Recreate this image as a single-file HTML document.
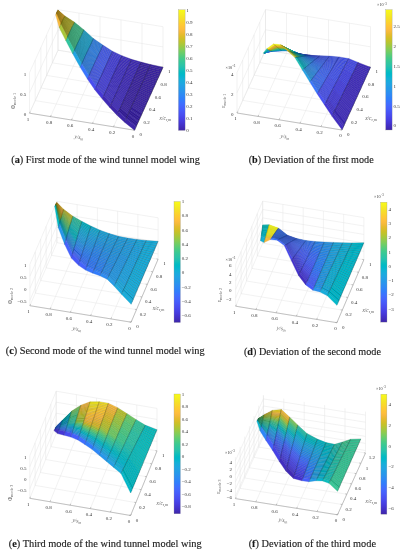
<!DOCTYPE html>
<html><head><meta charset="utf-8"><style>html,body{margin:0;padding:0;background:#fff;width:403px;height:550px;overflow:hidden}svg{display:block}</style></head><body>
<svg width="403" height="550" viewBox="0 0 403 550">
<defs><linearGradient id="par" x1="0" y1="0" x2="0" y2="1"><stop offset="0.0000" stop-color="#f9fb15"/><stop offset="0.0159" stop-color="#f7f51b"/><stop offset="0.0317" stop-color="#f6ef20"/><stop offset="0.0476" stop-color="#f5e924"/><stop offset="0.0635" stop-color="#f5e327"/><stop offset="0.0794" stop-color="#f7dc2a"/><stop offset="0.0952" stop-color="#fad62d"/><stop offset="0.1111" stop-color="#fccf30"/><stop offset="0.1270" stop-color="#fec934"/><stop offset="0.1429" stop-color="#fec338"/><stop offset="0.1587" stop-color="#febe3c"/><stop offset="0.1746" stop-color="#f8ba3d"/><stop offset="0.1905" stop-color="#f0ba36"/><stop offset="0.2063" stop-color="#e6bb2d"/><stop offset="0.2222" stop-color="#dcbd29"/><stop offset="0.2381" stop-color="#d1bf27"/><stop offset="0.2540" stop-color="#c5c22a"/><stop offset="0.2698" stop-color="#b9c431"/><stop offset="0.2857" stop-color="#abc739"/><stop offset="0.3016" stop-color="#9dc943"/><stop offset="0.3175" stop-color="#8fcb4e"/><stop offset="0.3333" stop-color="#81cc59"/><stop offset="0.3492" stop-color="#72cd64"/><stop offset="0.3651" stop-color="#64cd6f"/><stop offset="0.3810" stop-color="#57cc7a"/><stop offset="0.3968" stop-color="#4acb84"/><stop offset="0.4127" stop-color="#3fca8e"/><stop offset="0.4286" stop-color="#37c897"/><stop offset="0.4444" stop-color="#31c69f"/><stop offset="0.4603" stop-color="#2cc4a7"/><stop offset="0.4762" stop-color="#24c1ae"/><stop offset="0.4921" stop-color="#19bfb6"/><stop offset="0.5079" stop-color="#0bbdbd"/><stop offset="0.5238" stop-color="#02bac3"/><stop offset="0.5397" stop-color="#01b8ca"/><stop offset="0.5556" stop-color="#08b5d0"/><stop offset="0.5714" stop-color="#12b1d6"/><stop offset="0.5873" stop-color="#18addb"/><stop offset="0.6032" stop-color="#1ca9df"/><stop offset="0.6190" stop-color="#20a5e3"/><stop offset="0.6349" stop-color="#23a0e5"/><stop offset="0.6508" stop-color="#259be8"/><stop offset="0.6667" stop-color="#2797eb"/><stop offset="0.6825" stop-color="#2b91ef"/><stop offset="0.6984" stop-color="#2d8cf3"/><stop offset="0.7143" stop-color="#2e87f7"/><stop offset="0.7302" stop-color="#2f81fa"/><stop offset="0.7460" stop-color="#327cfc"/><stop offset="0.7619" stop-color="#3875fe"/><stop offset="0.7778" stop-color="#3e6fff"/><stop offset="0.7937" stop-color="#4269fe"/><stop offset="0.8095" stop-color="#4563fd"/><stop offset="0.8254" stop-color="#465efb"/><stop offset="0.8413" stop-color="#4758f8"/><stop offset="0.8571" stop-color="#4852f4"/><stop offset="0.8730" stop-color="#484df0"/><stop offset="0.8889" stop-color="#4747eb"/><stop offset="0.9048" stop-color="#4741e5"/><stop offset="0.9206" stop-color="#463cde"/><stop offset="0.9365" stop-color="#4537d5"/><stop offset="0.9524" stop-color="#4332cb"/><stop offset="0.9683" stop-color="#422ec0"/><stop offset="0.9841" stop-color="#402ab4"/><stop offset="1.0000" stop-color="#3e26a8"/></linearGradient></defs>
<rect width="403" height="550" fill="#fff"/>
<path stroke="#e2e2e2" stroke-width="0.45" fill="none" d="M134.5,130.2L29.5,113.2L29.5,72.7M140.2,117.6L35.2,100.6L35.2,60.1M145.9,105L40.9,88L40.9,47.5M151.6,92.4L46.6,75.4L46.6,34.9M157.3,79.8L52.3,62.8L52.3,22.3M163,67.2L58,50.2L58,9.7M134.5,130.2L163,67.2L163,26.7M113.5,126.8L142,63.8L142,23.3M92.5,123.4L121,60.4L121,19.9M71.5,120L100,57L100,16.5M50.5,116.6L79,53.6L79,13.1M29.5,113.2L58,50.2L58,9.7M29.5,113.2L58,50.2L163,67.2M29.5,92.9L58,29.9L163,46.9M29.5,72.7L58,9.7L163,26.7"/>
<path stroke="#999" stroke-width="0.55" fill="none" d="M163,67.2L134.5,130.2L29.5,113.2M134.5,130.2L135.2,128.7M113.5,126.8L114.2,125.3M92.5,123.4L93.2,121.9M71.5,120L72.2,118.5M50.5,116.6L51.2,115.1M29.5,113.2L30.2,111.7M134.5,130.2L132.9,129.9M140.2,117.6L138.6,117.3M145.9,105L144.3,104.7M151.6,92.4L150,92.1M157.3,79.8L155.7,79.5M163,67.2L161.4,66.9"/>
<text x="133" y="137.6" font-size="5.0" text-anchor="middle" font-family="Liberation Serif, serif" fill="#333" >0</text>
<text x="112" y="134.2" font-size="5.0" text-anchor="middle" font-family="Liberation Serif, serif" fill="#333" >0.2</text>
<text x="91" y="130.8" font-size="5.0" text-anchor="middle" font-family="Liberation Serif, serif" fill="#333" >0.4</text>
<text x="70" y="127.4" font-size="5.0" text-anchor="middle" font-family="Liberation Serif, serif" fill="#333" >0.6</text>
<text x="49" y="124" font-size="5.0" text-anchor="middle" font-family="Liberation Serif, serif" fill="#333" >0.8</text>
<text x="28" y="120.6" font-size="5.0" text-anchor="middle" font-family="Liberation Serif, serif" fill="#333" >1</text>
<text x="140.8" y="136.4" font-size="5.0" text-anchor="middle" font-family="Liberation Serif, serif" fill="#333" >0</text>
<text x="146.5" y="123.8" font-size="5.0" text-anchor="middle" font-family="Liberation Serif, serif" fill="#333" >0.2</text>
<text x="152.2" y="111.2" font-size="5.0" text-anchor="middle" font-family="Liberation Serif, serif" fill="#333" >0.4</text>
<text x="157.9" y="98.6" font-size="5.0" text-anchor="middle" font-family="Liberation Serif, serif" fill="#333" >0.6</text>
<text x="163.6" y="86" font-size="5.0" text-anchor="middle" font-family="Liberation Serif, serif" fill="#333" >0.8</text>
<text x="169.3" y="73.4" font-size="5.0" text-anchor="middle" font-family="Liberation Serif, serif" fill="#333" >1</text>
<text x="26.2" y="116.2" font-size="5.0" text-anchor="end" font-family="Liberation Serif, serif" fill="#333" >0</text>
<text x="26.2" y="95.9" font-size="5.0" text-anchor="end" font-family="Liberation Serif, serif" fill="#333" >0.5</text>
<text x="26.2" y="75.7" font-size="5.0" text-anchor="end" font-family="Liberation Serif, serif" fill="#333" >1</text>
<g stroke-width="0.3">
<path fill="#4741e5" stroke="#27237d" d="M121.4,56.8l0.5-1.1l-9.5-4.5l-0.5,1z"/>
<path fill="#4332cb" stroke="#241b6f" d="M130.9,60.6l0.6-1.3l-9.6-3.6l-0.5,1.1z"/>
<path fill="#465efb" stroke="#26338a" d="M111.9,52.2l0.5-1l-9.6-6.2l-0.4,0.9z"/>
<path fill="#422ec0" stroke="#241969" d="M140.4,63.5l0.7-1.4l-9.6-2.8l-0.6,1.3z"/>
<path fill="#4741e5" stroke="#27237d" d="M120.9,58l0.5-1.2l-9.5-4.6l-0.4,1z"/>
<path fill="#4332cb" stroke="#241b6f" d="M130.3,61.8l0.6-1.2l-9.5-3.8l-0.5,1.2z"/>
<path fill="#465efb" stroke="#26338a" d="M111.5,53.2l0.4-1l-9.5-6.3l-0.4,0.9z"/>
<path fill="#2e87f7" stroke="#194a87" d="M102.4,45.9l0.4-0.9l-9.5-6.6l-0.3,0.7z"/>
<path fill="#3e26a8" stroke="#22145c" d="M149.9,66.1l0.7-1.6l-9.5-2.4l-0.7,1.4z"/>
<path fill="#4741e5" stroke="#27237d" d="M120.4,59.1l0.5-1.1l-9.4-4.8l-0.5,1z"/>
<path fill="#422ec0" stroke="#241969" d="M139.8,64.9l0.6-1.4l-9.5-2.9l-0.6,1.2z"/>
<path fill="#465efb" stroke="#26338a" d="M111,54.2l0.5-1l-9.5-6.4l-0.4,0.8z"/>
<path fill="#2e87f7" stroke="#194a87" d="M102,46.8l0.4-0.9l-9.4-6.8l-0.4,0.7z"/>
<path fill="#4332cb" stroke="#241b6f" d="M129.8,63.1l0.5-1.3l-9.4-3.8l-0.5,1.1z"/>
<path fill="#2e87f7" stroke="#194a87" d="M101.6,47.6l0.4-0.8l-9.4-7l-0.3,0.7z"/>
<path fill="#4741e5" stroke="#27237d" d="M119.9,60.3l0.5-1.2l-9.4-4.9l-0.4,1z"/>
<path fill="#465efb" stroke="#26338a" d="M110.6,55.2l0.4-1l-9.4-6.6l-0.4,0.9z"/>
<path fill="#3e26a8" stroke="#22145c" d="M162.2,68.9l0.8-1.7l-12.4-2.7l-0.7,1.6z"/>
<path fill="#18addb" stroke="#0d5f78" d="M93,39.1l0.3-0.7l-9.6-8.7l-0.2,0.6z"/>
<path fill="#3e26a8" stroke="#22145c" d="M149.2,67.6l0.7-1.5l-9.5-2.6l-0.6,1.4z"/>
<path fill="#422ec0" stroke="#241969" d="M139.1,66.4l0.7-1.5l-9.5-3.1l-0.5,1.3z"/>
<path fill="#4332cb" stroke="#241b6f" d="M129.2,64.4l0.6-1.3l-9.4-4l-0.5,1.2z"/>
<path fill="#2e87f7" stroke="#194a87" d="M101.2,48.5l0.4-0.9l-9.3-7.1l-0.3,0.8z"/>
<path fill="#18addb" stroke="#0d5f78" d="M92.6,39.8l0.4-0.7l-9.5-8.8l-0.3,0.6z"/>
<path fill="#465efb" stroke="#26338a" d="M110.1,56.2l0.5-1l-9.4-6.7l-0.3,0.9z"/>
<path fill="#4741e5" stroke="#27237d" d="M119.4,61.4l0.5-1.1l-9.3-5.1l-0.5,1z"/>
<path fill="#18addb" stroke="#0d5f78" d="M92.3,40.5l0.3-0.7l-9.4-8.9l-0.3,0.6z"/>
<path fill="#2e87f7" stroke="#194a87" d="M100.9,49.4l0.3-0.9l-9.2-7.2l-0.4,0.7z"/>
<path fill="#3e26a8" stroke="#22145c" d="M148.5,69.2l0.7-1.6l-9.4-2.7l-0.7,1.5z"/>
<path fill="#422ec0" stroke="#241969" d="M138.5,67.8l0.6-1.4l-9.3-3.3l-0.6,1.3z"/>
<path fill="#3e26a8" stroke="#22145c" d="M161.5,70.6l0.7-1.7l-12.3-2.8l-0.7,1.5z"/>
<path fill="#4332cb" stroke="#241b6f" d="M128.6,65.7l0.6-1.3l-9.3-4.1l-0.5,1.1z"/>
<path fill="#465efb" stroke="#26338a" d="M109.7,57.2l0.4-1l-9.2-6.8l-0.4,0.9z"/>
<path fill="#18addb" stroke="#0d5f78" d="M92,41.3l0.3-0.8l-9.4-9l-0.2,0.6z"/>
<path fill="#4741e5" stroke="#27237d" d="M118.8,62.5l0.6-1.1l-9.3-5.2l-0.4,1z"/>
<path fill="#3fca8e" stroke="#226f4e" d="M83.5,30.3l0.2-0.6l-9.4-7.6l-0.2,0.5z"/>
<path fill="#2e87f7" stroke="#194a87" d="M100.5,50.3l0.4-0.9l-9.3-7.4l-0.3,0.7z"/>
<path fill="#3fca8e" stroke="#226f4e" d="M83.2,30.9l0.3-0.6l-9.4-7.7l-0.2,0.4z"/>
<path fill="#18addb" stroke="#0d5f78" d="M91.6,42l0.4-0.7l-9.3-9.2l-0.3,0.6z"/>
<path fill="#465efb" stroke="#26338a" d="M109.2,58.3l0.5-1.1l-9.2-6.9l-0.4,0.8z"/>
<path fill="#4332cb" stroke="#241b6f" d="M128,67l0.6-1.3l-9.2-4.3l-0.6,1.1z"/>
<path fill="#422ec0" stroke="#241969" d="M137.8,69.2l0.7-1.4l-9.3-3.4l-0.6,1.3z"/>
<path fill="#3e26a8" stroke="#22145c" d="M147.8,70.7l0.7-1.5l-9.4-2.8l-0.6,1.4z"/>
<path fill="#2e87f7" stroke="#194a87" d="M100.1,51.1l0.4-0.8l-9.2-7.6l-0.3,0.8z"/>
<path fill="#4741e5" stroke="#27237d" d="M118.3,63.7l0.5-1.2l-9.1-5.3l-0.5,1.1z"/>
<path fill="#3fca8e" stroke="#226f4e" d="M82.9,31.5l0.3-0.6l-9.3-7.9l-0.2,0.4z"/>
<path fill="#3e26a8" stroke="#22145c" d="M160.7,72.3l0.8-1.7l-12.3-3l-0.7,1.6z"/>
<path fill="#18addb" stroke="#0d5f78" d="M91.3,42.7l0.3-0.7l-9.2-9.3l-0.3,0.6z"/>
<path fill="#c5c22a" stroke="#6c6a17" d="M74.1,22.6l0.2-0.5l-9.6-6.2l-0.1,0.2z"/>
<path fill="#3fca8e" stroke="#226f4e" d="M82.7,32.1l0.2-0.6l-9.2-8.1l-0.2,0.5z"/>
<path fill="#465efb" stroke="#26338a" d="M108.7,59.3l0.5-1l-9.1-7.2l-0.4,0.9z"/>
<path fill="#c5c22a" stroke="#6c6a17" d="M73.9,23l0.2-0.4l-9.5-6.5l-0.1,0.3z"/>
<path fill="#2e87f7" stroke="#194a87" d="M99.7,52l0.4-0.9l-9.1-7.6l-0.4,0.7z"/>
<path fill="#18addb" stroke="#0d5f78" d="M91,43.5l0.3-0.8l-9.2-9.4l-0.2,0.6z"/>
<path fill="#3fca8e" stroke="#226f4e" d="M82.4,32.7l0.3-0.6l-9.2-8.2l-0.2,0.4z"/>
<path fill="#c5c22a" stroke="#6c6a17" d="M73.7,23.4l0.2-0.4l-9.4-6.6l-0.1,0.2z"/>
<path fill="#4332cb" stroke="#241b6f" d="M127.4,68.2l0.6-1.2l-9.2-4.5l-0.5,1.2z"/>
<path fill="#4741e5" stroke="#27237d" d="M117.8,64.8l0.5-1.1l-9.1-5.4l-0.5,1z"/>
<path fill="#422ec0" stroke="#241969" d="M137.2,70.6l0.6-1.4l-9.2-3.5l-0.6,1.3z"/>
<path fill="#c5c22a" stroke="#6c6a17" d="M73.5,23.9l0.2-0.5l-9.3-6.8l-0.1,0.3z"/>
<path fill="#3e26a8" stroke="#22145c" d="M147.1,72.3l0.7-1.6l-9.3-2.9l-0.7,1.4z"/>
<path fill="#3fca8e" stroke="#226f4e" d="M82.1,33.3l0.3-0.6l-9.1-8.4l-0.2,0.4z"/>
<path fill="#18addb" stroke="#0d5f78" d="M90.6,44.2l0.4-0.7l-9.1-9.6l-0.3,0.6z"/>
<path fill="#2e87f7" stroke="#194a87" d="M99.3,52.9l0.4-0.9l-9.1-7.8l-0.3,0.7z"/>
<path fill="#fec934" stroke="#8b6e1c" d="M64.6,16.1l0.1-0.2l-6.7-5.8l0,0.1z"/>
<path fill="#465efb" stroke="#26338a" d="M108.3,60.3l0.4-1l-9-7.3l-0.4,0.9z"/>
<path fill="#c5c22a" stroke="#6c6a17" d="M73.3,24.3l0.2-0.4l-9.2-7l-0.1,0.2z"/>
<path fill="#fec934" stroke="#8b6e1c" d="M64.5,16.4l0.1-0.3l-6.6-5.9l-0.1,0.1z"/>
<path fill="#3e26a8" stroke="#22145c" d="M159.9,74l0.8-1.7l-12.2-3.1l-0.7,1.5z"/>
<path fill="#fec934" stroke="#8b6e1c" d="M64.4,16.6l0.1-0.2l-6.6-6.1l0,0.1z"/>
<path fill="#c5c22a" stroke="#6c6a17" d="M73.1,24.7l0.2-0.4l-9.1-7.2l-0.1,0.3z"/>
<path fill="#3fca8e" stroke="#226f4e" d="M81.9,33.9l0.2-0.6l-9-8.6l-0.2,0.5z"/>
<path fill="#fec934" stroke="#8b6e1c" d="M64.3,16.9l0.1-0.3l-6.5-6.2l-0.1,0.1z"/>
<path fill="#4741e5" stroke="#27237d" d="M117.3,66l0.5-1.2l-9.1-5.5l-0.4,1z"/>
<path fill="#18addb" stroke="#0d5f78" d="M90.3,44.9l0.3-0.7l-9-9.7l-0.3,0.6z"/>
<path fill="#4332cb" stroke="#241b6f" d="M126.9,69.5l0.5-1.3l-9.1-4.5l-0.5,1.1z"/>
<path fill="#fec934" stroke="#8b6e1c" d="M64.2,17.1l0.1-0.2l-6.5-6.4l0,0.1z"/>
<path fill="#c5c22a" stroke="#6c6a17" d="M72.9,25.2l0.2-0.5l-9-7.3l-0.1,0.2z"/>
<path fill="#2e87f7" stroke="#194a87" d="M98.9,53.8l0.4-0.9l-9-8l-0.3,0.7z"/>
<path fill="#fec934" stroke="#8b6e1c" d="M64.1,17.4l0.1-0.3l-6.4-6.5l-0.1,0.1z"/>
<path fill="#465efb" stroke="#26338a" d="M107.8,61.3l0.5-1l-9-7.4l-0.4,0.9z"/>
<path fill="#3fca8e" stroke="#226f4e" d="M81.6,34.5l0.3-0.6l-9-8.7l-0.2,0.4z"/>
<path fill="#422ec0" stroke="#241969" d="M136.6,72l0.6-1.4l-9.2-3.6l-0.6,1.2z"/>
<path fill="#fec934" stroke="#8b6e1c" d="M64,17.6l0.1-0.2l-6.4-6.7l0,0.1z"/>
<path fill="#c5c22a" stroke="#6c6a17" d="M72.7,25.6l0.2-0.4l-8.9-7.6l-0.2,0.2z"/>
<path fill="#fec934" stroke="#8b6e1c" d="M63.8,17.8l0.2-0.2l-6.3-6.8l-0.1,0.1z"/>
<path fill="#18addb" stroke="#0d5f78" d="M90,45.6l0.3-0.7l-9-9.8l-0.3,0.6z"/>
<path fill="#3e26a8" stroke="#22145c" d="M146.4,73.8l0.7-1.5l-9.3-3.1l-0.6,1.4z"/>
<path fill="#fec934" stroke="#8b6e1c" d="M63.7,18.1l0.1-0.3l-6.2-6.9l0,0.1z"/>
<path fill="#c5c22a" stroke="#6c6a17" d="M72.5,26l0.2-0.4l-8.9-7.8l-0.1,0.3z"/>
<path fill="#3fca8e" stroke="#226f4e" d="M81.3,35.1l0.3-0.6l-8.9-8.9l-0.2,0.4z"/>
<path fill="#fec934" stroke="#8b6e1c" d="M63.6,18.3l0.1-0.2l-6.1-7.1l-0.1,0.1z"/>
<path fill="#2e87f7" stroke="#194a87" d="M98.5,54.6l0.4-0.8l-8.9-8.2l-0.3,0.8z"/>
<path fill="#4741e5" stroke="#27237d" d="M116.8,67.1l0.5-1.1l-9-5.7l-0.5,1z"/>
<path fill="#fec934" stroke="#8b6e1c" d="M63.5,18.6l0.1-0.3l-6.1-7.2l0,0.1z"/>
<path fill="#c5c22a" stroke="#6c6a17" d="M72.3,26.5l0.2-0.5l-8.8-7.9l-0.1,0.2z"/>
<path fill="#3e26a8" stroke="#22145c" d="M159.2,75.7l0.7-1.7l-12.1-3.3l-0.7,1.6z"/>
<path fill="#fec934" stroke="#8b6e1c" d="M63.4,18.8l0.1-0.2l-6-7.4l0,0.1z"/>
<path fill="#4332cb" stroke="#241b6f" d="M126.3,70.8l0.6-1.3l-9.1-4.7l-0.5,1.2z"/>
<path fill="#465efb" stroke="#26338a" d="M107.4,62.3l0.4-1l-8.9-7.5l-0.4,0.8z"/>
<path fill="#18addb" stroke="#0d5f78" d="M89.7,46.4l0.3-0.8l-9-9.9l-0.2,0.6z"/>
<path fill="#3fca8e" stroke="#226f4e" d="M81,35.7l0.3-0.6l-8.8-9.1l-0.2,0.5z"/>
<path fill="#fec934" stroke="#8b6e1c" d="M63.3,19l0.1-0.2l-5.9-7.5l-0.1,0.1z"/>
<path fill="#c5c22a" stroke="#6c6a17" d="M72.1,26.9l0.2-0.4l-8.7-8.2l-0.1,0.3z"/>
<path fill="#fec934" stroke="#8b6e1c" d="M63.2,19.3l0.1-0.3l-5.9-7.6l0,0.1z"/>
<path fill="#422ec0" stroke="#241969" d="M135.9,73.5l0.7-1.5l-9.2-3.8l-0.5,1.3z"/>
<path fill="#fec934" stroke="#8b6e1c" d="M63.1,19.5l0.1-0.2l-5.8-7.8l-0.1,0.1z"/>
<path fill="#2e87f7" stroke="#194a87" d="M98.1,55.5l0.4-0.9l-8.8-8.2l-0.4,0.7z"/>
<path fill="#c5c22a" stroke="#6c6a17" d="M71.9,27.3l0.2-0.4l-8.6-8.3l-0.1,0.2z"/>
<path fill="#3fca8e" stroke="#226f4e" d="M80.8,36.3l0.2-0.6l-8.7-9.2l-0.2,0.4z"/>
<path fill="#fec934" stroke="#8b6e1c" d="M63,19.8l0.1-0.3l-5.8-7.9l0,0.1z"/>
<path fill="#18addb" stroke="#0d5f78" d="M89.3,47.1l0.4-0.7l-8.9-10.1l-0.3,0.6z"/>
<path fill="#4741e5" stroke="#27237d" d="M116.3,68.2l0.5-1.1l-9-5.8l-0.4,1z"/>
<path fill="#fec934" stroke="#8b6e1c" d="M62.9,20l0.1-0.2l-5.7-8.1l-0.1,0.1z"/>
<path fill="#3e26a8" stroke="#22145c" d="M145.7,75.4l0.7-1.6l-9.2-3.2l-0.6,1.4z"/>
<path fill="#c5c22a" stroke="#6c6a17" d="M71.7,27.7l0.2-0.4l-8.5-8.5l-0.1,0.2z"/>
<path fill="#465efb" stroke="#26338a" d="M106.9,63.3l0.5-1l-8.9-7.7l-0.4,0.9z"/>
<path fill="#fec934" stroke="#8b6e1c" d="M62.8,20.3l0.1-0.3l-5.7-8.2l0,0.1z"/>
<path fill="#3fca8e" stroke="#226f4e" d="M80.5,36.9l0.3-0.6l-8.7-9.4l-0.2,0.4z"/>
<path fill="#fec934" stroke="#8b6e1c" d="M62.6,20.5l0.2-0.2l-5.6-8.4l-0.1,0.1z"/>
<path fill="#4332cb" stroke="#241b6f" d="M125.7,72.1l0.6-1.3l-9-4.8l-0.5,1.1z"/>
<path fill="#c5c22a" stroke="#6c6a17" d="M71.5,28.2l0.2-0.5l-8.4-8.7l-0.1,0.3z"/>
<path fill="#2e87f7" stroke="#194a87" d="M97.7,56.4l0.4-0.9l-8.8-8.4l-0.3,0.7z"/>
<path fill="#fec934" stroke="#8b6e1c" d="M62.5,20.7l0.1-0.2l-5.5-8.5l0,0.1z"/>
<path fill="#18addb" stroke="#0d5f78" d="M89,47.8l0.3-0.7l-8.8-10.2l-0.3,0.5z"/>
<path fill="#fec934" stroke="#8b6e1c" d="M62.4,21l0.1-0.3l-5.4-8.6l-0.1,0.1z"/>
<path fill="#3e26a8" stroke="#22145c" d="M158.4,77.4l0.8-1.7l-12.1-3.4l-0.7,1.5z"/>
<path fill="#c5c22a" stroke="#6c6a17" d="M71.4,28.6l0.1-0.4l-8.3-8.9l-0.1,0.2z"/>
<path fill="#3fca8e" stroke="#226f4e" d="M80.2,37.4l0.3-0.5l-8.6-9.6l-0.2,0.4z"/>
<path fill="#fec934" stroke="#8b6e1c" d="M62.3,21.2l0.1-0.2l-5.4-8.8l0,0.1z"/>
<path fill="#422ec0" stroke="#241969" d="M135.3,74.9l0.6-1.4l-9-4l-0.6,1.3z"/>
<path fill="#fec934" stroke="#8b6e1c" d="M62.2,21.5l0.1-0.3l-5.3-8.9l0,0.1z"/>
<path fill="#465efb" stroke="#26338a" d="M106.5,64.3l0.4-1l-8.8-7.8l-0.4,0.9z"/>
<path fill="#4741e5" stroke="#27237d" d="M115.8,69.4l0.5-1.2l-8.9-5.9l-0.5,1z"/>
<path fill="#c5c22a" stroke="#6c6a17" d="M71.2,29l0.2-0.4l-8.3-9.1l-0.1,0.3z"/>
<path fill="#18addb" stroke="#0d5f78" d="M88.7,48.6l0.3-0.8l-8.8-10.4l-0.2,0.6z"/>
<path fill="#fec934" stroke="#8b6e1c" d="M62.1,21.7l0.1-0.2l-5.2-9.1l-0.1,0.1z"/>
<path fill="#2e87f7" stroke="#194a87" d="M97.3,57.3l0.4-0.9l-8.7-8.6l-0.3,0.8z"/>
<path fill="#3fca8e" stroke="#226f4e" d="M80,38l0.2-0.6l-8.5-9.7l-0.2,0.5z"/>
<path fill="#fec934" stroke="#8b6e1c" d="M62,21.9l0.1-0.2l-5.2-9.2l0,0.1z"/>
<path fill="#c5c22a" stroke="#6c6a17" d="M71,29.5l0.2-0.5l-8.2-9.2l-0.1,0.2z"/>
<path fill="#fec934" stroke="#8b6e1c" d="M61.9,22.2l0.1-0.3l-5.1-9.3l-0.1,0.1z"/>
<path fill="#3e26a8" stroke="#22145c" d="M145,76.9l0.7-1.5l-9.1-3.4l-0.7,1.5z"/>
<path fill="#4332cb" stroke="#241b6f" d="M125.1,73.4l0.6-1.3l-8.9-5l-0.5,1.1z"/>
<path fill="#fec934" stroke="#8b6e1c" d="M61.8,22.4l0.1-0.2l-5.1-9.5l0,0.1z"/>
<path fill="#c5c22a" stroke="#6c6a17" d="M70.8,29.9l0.2-0.4l-8.1-9.5l-0.1,0.3z"/>
<path fill="#3fca8e" stroke="#226f4e" d="M79.7,38.6l0.3-0.6l-8.5-9.8l-0.1,0.4z"/>
<path fill="#18addb" stroke="#0d5f78" d="M88.3,49.3l0.4-0.7l-8.7-10.6l-0.3,0.6z"/>
<path fill="#fec934" stroke="#8b6e1c" d="M61.7,22.7l0.1-0.3l-5-9.6l-0.1,0.1z"/>
<path fill="#465efb" stroke="#26338a" d="M106,65.3l0.5-1l-8.8-7.9l-0.4,0.9z"/>
<path fill="#fec934" stroke="#8b6e1c" d="M61.5,22.9l0.2-0.2l-5-9.8l0,0.1z"/>
<path fill="#2e87f7" stroke="#194a87" d="M96.9,58.2l0.4-0.9l-8.6-8.7l-0.4,0.7z"/>
<path fill="#c5c22a" stroke="#6c6a17" d="M70.6,30.3l0.2-0.4l-8-9.6l-0.2,0.2z"/>
<path fill="#4741e5" stroke="#27237d" d="M115.2,70.5l0.6-1.1l-8.9-6.1l-0.4,1z"/>
<path fill="#fec934" stroke="#8b6e1c" d="M61.4,23.2l0.1-0.3l-4.8-9.9l-0.1,0.1z"/>
<path fill="#422ec0" stroke="#241969" d="M134.6,76.3l0.7-1.4l-9-4.1l-0.6,1.3z"/>
<path fill="#3e26a8" stroke="#22145c" d="M157.6,79.1l0.8-1.7l-12-3.6l-0.7,1.6z"/>
<path fill="#3fca8e" stroke="#226f4e" d="M79.4,39.2l0.3-0.6l-8.3-10l-0.2,0.4z"/>
<path fill="#fec934" stroke="#8b6e1c" d="M61.3,23.4l0.1-0.2l-4.8-10.1l0,0.1z"/>
<path fill="#c5c22a" stroke="#6c6a17" d="M70.4,30.8l0.2-0.5l-8-9.8l-0.1,0.2z"/>
<path fill="#18addb" stroke="#0d5f78" d="M88,50l0.3-0.7l-8.6-10.7l-0.3,0.6z"/>
<path fill="#fec934" stroke="#8b6e1c" d="M61.2,23.6l0.1-0.2l-4.7-10.2l-0.1,0.1zM61.1,23.9l0.1-0.3l-4.7-10.3l0,0.1z"/>
<path fill="#c5c22a" stroke="#6c6a17" d="M70.2,31.2l0.2-0.4l-7.9-10.1l-0.1,0.3z"/>
<path fill="#4332cb" stroke="#241b6f" d="M124.6,74.6l0.5-1.2l-8.8-5.2l-0.5,1.2z"/>
<path fill="#3fca8e" stroke="#226f4e" d="M79.2,39.8l0.2-0.6l-8.2-10.2l-0.2,0.5z"/>
<path fill="#2e87f7" stroke="#194a87" d="M96.5,59l0.4-0.8l-8.6-8.9l-0.3,0.7z"/>
<path fill="#fec934" stroke="#8b6e1c" d="M61,24.1l0.1-0.2l-4.6-10.5l-0.1,0.1z"/>
<path fill="#465efb" stroke="#26338a" d="M105.6,66.3l0.4-1l-8.7-8l-0.4,0.9z"/>
<path fill="#3e26a8" stroke="#22145c" d="M144.3,78.5l0.7-1.6l-9.1-3.4l-0.6,1.4z"/>
<path fill="#fec934" stroke="#8b6e1c" d="M60.9,24.4l0.1-0.3l-4.6-10.6l0,0.1z"/>
<path fill="#c5c22a" stroke="#6c6a17" d="M70,31.6l0.2-0.4l-7.8-10.2l-0.1,0.2z"/>
<path fill="#18addb" stroke="#0d5f78" d="M87.7,50.7l0.3-0.7l-8.6-10.8l-0.2,0.6z"/>
<path fill="#4741e5" stroke="#27237d" d="M114.7,71.7l0.5-1.2l-8.7-6.2l-0.5,1z"/>
<path fill="#3fca8e" stroke="#226f4e" d="M78.9,40.4l0.3-0.6l-8.2-10.3l-0.2,0.4z"/>
<path fill="#c5c22a" stroke="#6c6a17" d="M69.8,32.1l0.2-0.5l-7.7-10.4l-0.1,0.3z"/>
<path fill="#422ec0" stroke="#241969" d="M134,77.7l0.6-1.4l-8.9-4.2l-0.6,1.3z"/>
<path fill="#2e87f7" stroke="#194a87" d="M96.1,59.9l0.4-0.9l-8.5-9l-0.3,0.7z"/>
<path fill="#c5c22a" stroke="#6c6a17" d="M69.6,32.5l0.2-0.4l-7.6-10.6l-0.1,0.2z"/>
<path fill="#18addb" stroke="#0d5f78" d="M87.4,51.5l0.3-0.8l-8.5-10.9l-0.3,0.6z"/>
<path fill="#465efb" stroke="#26338a" d="M105.1,67.3l0.5-1l-8.7-8.1l-0.4,0.8z"/>
<path fill="#3fca8e" stroke="#226f4e" d="M78.6,41l0.3-0.6l-8.1-10.5l-0.2,0.4z"/>
<path fill="#3e26a8" stroke="#22145c" d="M156.8,80.8l0.8-1.7l-11.9-3.7l-0.7,1.5z"/>
<path fill="#4332cb" stroke="#241b6f" d="M124,75.9l0.6-1.3l-8.8-5.2l-0.6,1.1z"/>
<path fill="#c5c22a" stroke="#6c6a17" d="M69.4,32.9l0.2-0.4l-7.5-10.8l-0.1,0.2z"/>
<path fill="#4741e5" stroke="#27237d" d="M114.2,72.8l0.5-1.1l-8.7-6.4l-0.4,1z"/>
<path fill="#3fca8e" stroke="#226f4e" d="M78.4,41.6l0.2-0.6l-8-10.7l-0.2,0.5z"/>
<path fill="#f8ba3d" stroke="#dfa736" d="M59.3,27.8l1.6-3.4l-4.5-10.8l-0.7,1.5z"/>
<path fill="#c5c22a" stroke="#6c6a17" d="M69.2,33.3l0.2-0.4l-7.4-11l-0.1,0.3z"/>
<path fill="#2e87f7" stroke="#194a87" d="M95.7,60.8l0.4-0.9l-8.4-9.2l-0.3,0.8z"/>
<path fill="#18addb" stroke="#0d5f78" d="M87,52.2l0.4-0.7l-8.5-11.1l-0.3,0.6z"/>
<path fill="#3e26a8" stroke="#22145c" d="M143.6,80l0.7-1.5l-9-3.6l-0.7,1.4z"/>
<path fill="#c5c22a" stroke="#6c6a17" d="M69,33.8l0.2-0.5l-7.3-11.1l-0.1,0.2z"/>
<path fill="#465efb" stroke="#26338a" d="M104.6,68.3l0.5-1l-8.6-8.3l-0.4,0.9z"/>
<path fill="#3fca8e" stroke="#226f4e" d="M78.1,42.2l0.3-0.6l-8-10.8l-0.2,0.4z"/>
<path fill="#422ec0" stroke="#241969" d="M133.4,79.1l0.6-1.4l-8.9-4.3l-0.5,1.2z"/>
<path fill="#c5c22a" stroke="#6c6a17" d="M68.8,34.2l0.2-0.4l-7.2-11.4l-0.1,0.3z"/>
<path fill="#18addb" stroke="#0d5f78" d="M86.7,52.9l0.3-0.7l-8.4-11.2l-0.2,0.6z"/>
<path fill="#4332cb" stroke="#241b6f" d="M123.4,77.2l0.6-1.3l-8.8-5.4l-0.5,1.2z"/>
<path fill="#2e87f7" stroke="#194a87" d="M95.3,61.7l0.4-0.9l-8.3-9.3l-0.4,0.7z"/>
<path fill="#4741e5" stroke="#27237d" d="M113.7,73.9l0.5-1.1l-8.6-6.5l-0.5,1z"/>
<path fill="#3fca8e" stroke="#226f4e" d="M77.8,42.8l0.3-0.6l-7.9-11l-0.2,0.4z"/>
<path fill="#c5c22a" stroke="#6c6a17" d="M68.6,34.6l0.2-0.4l-7.1-11.5l-0.2,0.2z"/>
<path fill="#3e26a8" stroke="#22145c" d="M156.1,82.5l0.7-1.7l-11.8-3.9l-0.7,1.6z"/>
<path fill="#465efb" stroke="#26338a" d="M104.2,69.3l0.4-1l-8.5-8.4l-0.4,0.9z"/>
<path fill="#c5c22a" stroke="#6c6a17" d="M68.4,35.1l0.2-0.5l-7.1-11.7l-0.1,0.3z"/>
<path fill="#18addb" stroke="#0d5f78" d="M86.4,53.7l0.3-0.8l-8.3-11.3l-0.3,0.6z"/>
<path fill="#3fca8e" stroke="#226f4e" d="M77.6,43.4l0.2-0.6l-7.8-11.2l-0.2,0.5z"/>
<path fill="#3e26a8" stroke="#22145c" d="M142.9,81.6l0.7-1.6l-9-3.7l-0.6,1.4z"/>
<path fill="#2e87f7" stroke="#194a87" d="M94.9,62.5l0.4-0.8l-8.3-9.5l-0.3,0.7z"/>
<path fill="#c5c22a" stroke="#6c6a17" d="M68.2,35.5l0.2-0.4l-7-11.9l-0.1,0.2z"/>
<path fill="#422ec0" stroke="#241969" d="M132.7,80.5l0.7-1.4l-8.8-4.5l-0.6,1.3z"/>
<path fill="#4332cb" stroke="#241b6f" d="M122.8,78.5l0.6-1.3l-8.7-5.5l-0.5,1.1z"/>
<path fill="#3fca8e" stroke="#226f4e" d="M77.3,44l0.3-0.6l-7.8-11.3l-0.2,0.4z"/>
<path fill="#4741e5" stroke="#27237d" d="M113.2,75.1l0.5-1.2l-8.6-6.6l-0.5,1z"/>
<path fill="#c5c22a" stroke="#6c6a17" d="M68,35.9l0.2-0.4l-6.9-12.1l-0.1,0.2z"/>
<path fill="#18addb" stroke="#0d5f78" d="M86,54.4l0.4-0.7l-8.3-11.5l-0.3,0.6z"/>
<path fill="#465efb" stroke="#26338a" d="M103.7,70.3l0.5-1l-8.5-8.5l-0.4,0.9z"/>
<path fill="#c5c22a" stroke="#6c6a17" d="M67.8,36.4l0.2-0.5l-6.8-12.3l-0.1,0.3z"/>
<path fill="#2e87f7" stroke="#194a87" d="M94.5,63.4l0.4-0.9l-8.2-9.6l-0.3,0.8z"/>
<path fill="#3fca8e" stroke="#226f4e" d="M77,44.5l0.3-0.5l-7.7-11.5l-0.2,0.4z"/>
<path fill="#18addb" stroke="#0d5f78" d="M85.7,55.1l0.3-0.7l-8.2-11.6l-0.2,0.6z"/>
<path fill="#c5c22a" stroke="#6c6a17" d="M67.6,36.8l0.2-0.4l-6.7-12.5l-0.1,0.2z"/>
<path fill="#3e26a8" stroke="#22145c" d="M155.3,84.2l0.8-1.7l-11.8-4l-0.7,1.5z"/>
<path fill="#3fca8e" stroke="#226f4e" d="M76.8,45.1l0.2-0.6l-7.6-11.6l-0.2,0.4z"/>
<path fill="#3e26a8" stroke="#22145c" d="M142.2,83.1l0.7-1.5l-8.9-3.9l-0.6,1.4z"/>
<path fill="#c5c22a" stroke="#6c6a17" d="M67.5,37.2l0.1-0.4l-6.6-12.7l-0.1,0.3z"/>
<path fill="#4741e5" stroke="#27237d" d="M112.7,76.2l0.5-1.1l-8.6-6.8l-0.4,1z"/>
<path fill="#4332cb" stroke="#241b6f" d="M122.2,79.8l0.6-1.3l-8.6-5.7l-0.5,1.1z"/>
<path fill="#465efb" stroke="#26338a" d="M103.3,71.3l0.4-1l-8.4-8.6l-0.4,0.8z"/>
<path fill="#422ec0" stroke="#241969" d="M132.1,82l0.6-1.5l-8.7-4.6l-0.6,1.3z"/>
<path fill="#2e87f7" stroke="#194a87" d="M94.1,64.3l0.4-0.9l-8.1-9.7l-0.4,0.7z"/>
<path fill="#18addb" stroke="#0d5f78" d="M85.4,55.8l0.3-0.7l-8.1-11.7l-0.3,0.6z"/>
<path fill="#3fca8e" stroke="#226f4e" d="M76.5,45.7l0.3-0.6l-7.6-11.8l-0.2,0.5z"/>
<path fill="#18addb" stroke="#0d5f78" d="M85,56.6l0.4-0.8l-8.1-11.8l-0.3,0.5z"/>
<path fill="#3fca8e" stroke="#226f4e" d="M76.2,46.3l0.3-0.6l-7.5-11.9l-0.2,0.4z"/>
<path fill="#2e87f7" stroke="#194a87" d="M93.7,65.2l0.4-0.9l-8.1-9.9l-0.3,0.7z"/>
<path fill="#4741e5" stroke="#27237d" d="M112.1,77.4l0.6-1.2l-8.5-6.9l-0.5,1z"/>
<path fill="#465efb" stroke="#26338a" d="M102.8,72.4l0.5-1.1l-8.4-8.8l-0.4,0.9z"/>
<path fill="#4332cb" stroke="#241b6f" d="M121.7,81l0.5-1.2l-8.5-5.9l-0.5,1.2z"/>
<path fill="#3e26a8" stroke="#22145c" d="M154.5,85.9l0.8-1.7l-11.7-4.2l-0.7,1.6zM141.5,84.7l0.7-1.6l-8.8-4l-0.7,1.4z"/>
<path fill="#3fca8e" stroke="#226f4e" d="M76,46.9l0.2-0.6l-7.4-12.1l-0.2,0.4z"/>
<path fill="#422ec0" stroke="#241969" d="M131.4,83.4l0.7-1.4l-8.7-4.8l-0.6,1.3z"/>
<path fill="#18addb" stroke="#0d5f78" d="M84.7,57.3l0.3-0.7l-8-12.1l-0.2,0.6z"/>
<path fill="#2e87f7" stroke="#194a87" d="M93.3,66l0.4-0.8l-8-10.1l-0.3,0.7z"/>
<path fill="#abc739" stroke="#99b333" d="M65.9,40.7l1.6-3.5l-6.6-12.8l-1.6,3.4z"/>
<path fill="#3fca8e" stroke="#226f4e" d="M75.7,47.5l0.3-0.6l-7.4-12.3l-0.2,0.5z"/>
<path fill="#465efb" stroke="#26338a" d="M102.4,73.4l0.4-1l-8.3-9l-0.4,0.9z"/>
<path fill="#4741e5" stroke="#27237d" d="M111.6,78.5l0.5-1.1l-8.4-7.1l-0.4,1z"/>
<path fill="#18addb" stroke="#0d5f78" d="M84.4,58l0.3-0.7l-7.9-12.2l-0.3,0.6z"/>
<path fill="#3fca8e" stroke="#226f4e" d="M75.4,48.1l0.3-0.6l-7.3-12.4l-0.2,0.4z"/>
<path fill="#4332cb" stroke="#241b6f" d="M121.1,82.3l0.6-1.3l-8.5-5.9l-0.5,1.1z"/>
<path fill="#2e87f7" stroke="#194a87" d="M92.9,66.9l0.4-0.9l-7.9-10.2l-0.4,0.8z"/>
<path fill="#422ec0" stroke="#241969" d="M130.8,84.8l0.6-1.4l-8.6-4.9l-0.6,1.3z"/>
<path fill="#18addb" stroke="#0d5f78" d="M84.1,58.7l0.3-0.7l-7.9-12.3l-0.3,0.6z"/>
<path fill="#3e26a8" stroke="#22145c" d="M140.8,86.2l0.7-1.5l-8.8-4.2l-0.6,1.5zM153.8,87.6l0.7-1.7l-11.6-4.3l-0.7,1.5z"/>
<path fill="#465efb" stroke="#26338a" d="M101.9,74.4l0.5-1l-8.3-9.1l-0.4,0.9z"/>
<path fill="#3fca8e" stroke="#226f4e" d="M75.2,48.7l0.2-0.6l-7.2-12.6l-0.2,0.4z"/>
<path fill="#4741e5" stroke="#27237d" d="M111.1,79.7l0.5-1.2l-8.3-7.2l-0.5,1.1z"/>
<path fill="#2e87f7" stroke="#194a87" d="M92.5,67.8l0.4-0.9l-7.9-10.3l-0.3,0.7z"/>
<path fill="#3fca8e" stroke="#226f4e" d="M74.9,49.3l0.3-0.6l-7.2-12.8l-0.2,0.5z"/>
<path fill="#18addb" stroke="#0d5f78" d="M83.7,59.5l0.4-0.8l-7.9-12.4l-0.2,0.6z"/>
<path fill="#4332cb" stroke="#241b6f" d="M120.5,83.6l0.6-1.3l-8.4-6.1l-0.6,1.2z"/>
<path fill="#465efb" stroke="#26338a" d="M101.5,75.4l0.4-1l-8.2-9.2l-0.4,0.8z"/>
<path fill="#3fca8e" stroke="#226f4e" d="M74.6,49.9l0.3-0.6l-7.1-12.9l-0.2,0.4z"/>
<path fill="#2e87f7" stroke="#194a87" d="M92.1,68.7l0.4-0.9l-7.8-10.5l-0.3,0.7z"/>
<path fill="#422ec0" stroke="#241969" d="M130.2,86.2l0.6-1.4l-8.6-5l-0.5,1.2z"/>
<path fill="#18addb" stroke="#0d5f78" d="M83.4,60.2l0.3-0.7l-7.7-12.6l-0.3,0.6z"/>
<path fill="#4741e5" stroke="#27237d" d="M110.6,80.8l0.5-1.1l-8.3-7.3l-0.4,1z"/>
<path fill="#3e26a8" stroke="#22145c" d="M140.1,87.8l0.7-1.6l-8.7-4.2l-0.7,1.4z"/>
<path fill="#3fca8e" stroke="#226f4e" d="M74.4,50.5l0.2-0.6l-7-13.1l-0.1,0.4z"/>
<path fill="#3e26a8" stroke="#22145c" d="M153,89.3l0.8-1.7l-11.6-4.5l-0.7,1.6z"/>
<path fill="#465efb" stroke="#26338a" d="M101,76.4l0.5-1l-8.2-9.4l-0.4,0.9z"/>
<path fill="#18addb" stroke="#0d5f78" d="M83.1,60.9l0.3-0.7l-7.7-12.7l-0.3,0.6z"/>
<path fill="#4332cb" stroke="#241b6f" d="M119.9,84.9l0.6-1.3l-8.4-6.2l-0.5,1.1z"/>
<path fill="#2e87f7" stroke="#194a87" d="M91.7,69.5l0.4-0.8l-7.7-10.7l-0.3,0.7z"/>
<path fill="#4741e5" stroke="#27237d" d="M110.1,81.9l0.5-1.1l-8.2-7.4l-0.5,1z"/>
<path fill="#18addb" stroke="#0d5f78" d="M82.7,61.7l0.4-0.8l-7.7-12.8l-0.2,0.6z"/>
<path fill="#422ec0" stroke="#241969" d="M129.5,87.6l0.7-1.4l-8.5-5.2l-0.6,1.3z"/>
<path fill="#465efb" stroke="#26338a" d="M100.5,77.4l0.5-1l-8.1-9.5l-0.4,0.9z"/>
<path fill="#2e87f7" stroke="#194a87" d="M91.3,70.4l0.4-0.9l-7.6-10.8l-0.4,0.8z"/>
<path fill="#3e26a8" stroke="#22145c" d="M139.4,89.3l0.7-1.5l-8.7-4.4l-0.6,1.4z"/>
<path fill="#4332cb" stroke="#241b6f" d="M119.3,86.2l0.6-1.3l-8.3-6.4l-0.5,1.2z"/>
<path fill="#3e26a8" stroke="#22145c" d="M152.2,91l0.8-1.7l-11.5-4.6l-0.7,1.5z"/>
<path fill="#18addb" stroke="#0d5f78" d="M82.4,62.4l0.3-0.7l-7.5-13l-0.3,0.6z"/>
<path fill="#4741e5" stroke="#27237d" d="M109.6,83.1l0.5-1.2l-8.2-7.5l-0.4,1z"/>
<path fill="#31c69f" stroke="#2cb28f" d="M72.8,53.9l1.6-3.4l-6.9-13.3l-1.6,3.5z"/>
<path fill="#2e87f7" stroke="#194a87" d="M90.9,71.3l0.4-0.9l-7.6-10.9l-0.3,0.7z"/>
<path fill="#465efb" stroke="#26338a" d="M100.1,78.4l0.4-1l-8-9.6l-0.4,0.9z"/>
<path fill="#18addb" stroke="#0d5f78" d="M82.1,63.1l0.3-0.7l-7.5-13.1l-0.3,0.6z"/>
<path fill="#422ec0" stroke="#241969" d="M128.9,89l0.6-1.4l-8.4-5.3l-0.6,1.3z"/>
<path fill="#4332cb" stroke="#241b6f" d="M118.8,87.4l0.5-1.2l-8.2-6.5l-0.5,1.1z"/>
<path fill="#3e26a8" stroke="#22145c" d="M138.7,90.8l0.7-1.5l-8.6-4.5l-0.6,1.4z"/>
<path fill="#2e87f7" stroke="#194a87" d="M90.5,72.2l0.4-0.9l-7.5-11.1l-0.3,0.7z"/>
<path fill="#4741e5" stroke="#27237d" d="M109,84.2l0.6-1.1l-8.1-7.7l-0.5,1z"/>
<path fill="#18addb" stroke="#0d5f78" d="M81.8,63.8l0.3-0.7l-7.5-13.2l-0.2,0.6z"/>
<path fill="#465efb" stroke="#26338a" d="M99.6,79.4l0.5-1l-8-9.7l-0.4,0.8z"/>
<path fill="#3e26a8" stroke="#22145c" d="M151.5,92.7l0.7-1.7l-11.4-4.8l-0.7,1.6z"/>
<path fill="#2e87f7" stroke="#194a87" d="M90.2,73l0.3-0.8l-7.4-11.3l-0.4,0.8z"/>
<path fill="#422ec0" stroke="#241969" d="M128.2,90.5l0.7-1.5l-8.4-5.4l-0.6,1.3z"/>
<path fill="#4332cb" stroke="#241b6f" d="M118.2,88.7l0.6-1.3l-8.2-6.6l-0.5,1.1z"/>
<path fill="#4741e5" stroke="#27237d" d="M108.5,85.4l0.5-1.2l-8-7.8l-0.5,1z"/>
<path fill="#465efb" stroke="#26338a" d="M99.2,80.4l0.4-1l-7.9-9.9l-0.4,0.9z"/>
<path fill="#3e26a8" stroke="#22145c" d="M138,92.4l0.7-1.6l-8.5-4.6l-0.7,1.4z"/>
<path fill="#2e87f7" stroke="#194a87" d="M89.8,73.9l0.4-0.9l-7.5-11.3l-0.3,0.7z"/>
<path fill="#3e26a8" stroke="#22145c" d="M150.7,94.4l0.8-1.7l-11.4-4.9l-0.7,1.5z"/>
<path fill="#465efb" stroke="#26338a" d="M98.7,81.4l0.5-1l-7.9-10l-0.4,0.9z"/>
<path fill="#20a5e3" stroke="#1c94cc" d="M80.2,67.3l1.6-3.5l-7.4-13.3l-1.6,3.4z"/>
<path fill="#422ec0" stroke="#241969" d="M127.6,91.9l0.6-1.4l-8.3-5.6l-0.6,1.3z"/>
<path fill="#4741e5" stroke="#27237d" d="M108,86.5l0.5-1.1l-8-8l-0.4,1z"/>
<path fill="#4332cb" stroke="#241b6f" d="M117.6,90l0.6-1.3l-8.1-6.8l-0.5,1.2z"/>
<path fill="#2e87f7" stroke="#194a87" d="M89.4,74.8l0.4-0.9l-7.4-11.5l-0.3,0.7z"/>
<path fill="#3e26a8" stroke="#22145c" d="M137.3,93.9l0.7-1.5l-8.5-4.8l-0.6,1.4z"/>
<path fill="#465efb" stroke="#26338a" d="M98.3,82.4l0.4-1l-7.8-10.1l-0.4,0.9z"/>
<path fill="#2e87f7" stroke="#194a87" d="M89,75.7l0.4-0.9l-7.3-11.7l-0.3,0.7z"/>
<path fill="#4741e5" stroke="#27237d" d="M107.5,87.6l0.5-1.1l-7.9-8.1l-0.5,1z"/>
<path fill="#422ec0" stroke="#241969" d="M126.9,93.3l0.7-1.4l-8.3-5.7l-0.5,1.2z"/>
<path fill="#4332cb" stroke="#241b6f" d="M117,91.3l0.6-1.3l-8-6.9l-0.6,1.1z"/>
<path fill="#3e26a8" stroke="#22145c" d="M149.9,96.1l0.8-1.7l-11.3-5.1l-0.7,1.5z"/>
<path fill="#465efb" stroke="#26338a" d="M97.8,83.4l0.5-1l-7.8-10.2l-0.3,0.8z"/>
<path fill="#4741e5" stroke="#27237d" d="M107,88.8l0.5-1.2l-7.9-8.2l-0.4,1z"/>
<path fill="#3e26a8" stroke="#22145c" d="M136.6,95.5l0.7-1.6l-8.4-4.9l-0.7,1.5z"/>
<path fill="#4332cb" stroke="#241b6f" d="M116.5,92.6l0.5-1.3l-8-7.1l-0.5,1.2z"/>
<path fill="#422ec0" stroke="#241969" d="M126.3,94.7l0.6-1.4l-8.1-5.9l-0.6,1.3z"/>
<path fill="#465efb" stroke="#26338a" d="M97.4,84.4l0.4-1l-7.6-10.4l-0.4,0.9z"/>
<path fill="#3e26a8" stroke="#22145c" d="M149.1,97.8l0.8-1.7l-11.2-5.3l-0.7,1.6z"/>
<path fill="#3875fe" stroke="#3269e4" d="M87.4,79.1l1.6-3.4l-7.2-11.9l-1.6,3.5z"/>
<path fill="#4741e5" stroke="#27237d" d="M106.5,89.9l0.5-1.1l-7.8-8.4l-0.5,1z"/>
<path fill="#3e26a8" stroke="#22145c" d="M135.9,97l0.7-1.5l-8.4-5l-0.6,1.4z"/>
<path fill="#465efb" stroke="#26338a" d="M96.9,85.5l0.5-1.1l-7.6-10.5l-0.4,0.9z"/>
<path fill="#4332cb" stroke="#241b6f" d="M115.9,93.8l0.6-1.2l-8-7.2l-0.5,1.1z"/>
<path fill="#422ec0" stroke="#241969" d="M125.7,96.1l0.6-1.4l-8.1-6l-0.6,1.3z"/>
<path fill="#4741e5" stroke="#27237d" d="M105.9,91.1l0.6-1.2l-7.8-8.5l-0.4,1z"/>
<path fill="#465efb" stroke="#26338a" d="M96.4,86.5l0.5-1l-7.5-10.7l-0.4,0.9z"/>
<path fill="#3e26a8" stroke="#22145c" d="M148.4,99.5l0.7-1.7l-11.1-5.4l-0.7,1.5z"/>
<path fill="#4332cb" stroke="#241b6f" d="M115.3,95.1l0.6-1.3l-7.9-7.3l-0.5,1.1z"/>
<path fill="#3e26a8" stroke="#22145c" d="M135.2,98.6l0.7-1.6l-8.3-5.1l-0.7,1.4z"/>
<path fill="#422ec0" stroke="#241969" d="M125,97.5l0.7-1.4l-8.1-6.1l-0.6,1.3z"/>
<path fill="#4741e5" stroke="#27237d" d="M105.4,92.2l0.5-1.1l-7.6-8.7l-0.5,1z"/>
<path fill="#4332cb" stroke="#241b6f" d="M114.7,96.4l0.6-1.3l-7.8-7.5l-0.5,1.2z"/>
<path fill="#3e26a8" stroke="#22145c" d="M147.6,101.2l0.8-1.7l-11.1-5.6l-0.7,1.6z"/>
<path fill="#4741e5" stroke="#27237d" d="M104.9,93.3l0.5-1.1l-7.6-8.8l-0.4,1z"/>
<path fill="#3e26a8" stroke="#22145c" d="M134.5,100.1l0.7-1.5l-8.3-5.3l-0.6,1.4z"/>
<path fill="#422ec0" stroke="#241969" d="M124.4,99l0.6-1.5l-8-6.2l-0.5,1.3z"/>
<path fill="#484df0" stroke="#4045d8" d="M94.9,89.9l1.5-3.4l-7.4-10.8l-1.6,3.4z"/>
<path fill="#4332cb" stroke="#241b6f" d="M114.1,97.7l0.6-1.3l-7.7-7.6l-0.5,1.1z"/>
<path fill="#4741e5" stroke="#27237d" d="M104.4,94.5l0.5-1.2l-7.5-8.9l-0.5,1.1z"/>
<path fill="#3e26a8" stroke="#22145c" d="M146.8,102.9l0.8-1.7l-11-5.7l-0.7,1.5z"/>
<path fill="#422ec0" stroke="#241969" d="M123.7,100.4l0.7-1.4l-7.9-6.4l-0.6,1.2z"/>
<path fill="#3e26a8" stroke="#22145c" d="M133.8,101.7l0.7-1.6l-8.2-5.4l-0.6,1.4z"/>
<path fill="#4741e5" stroke="#27237d" d="M103.9,95.6l0.5-1.1l-7.5-9l-0.5,1z"/>
<path fill="#4332cb" stroke="#241b6f" d="M113.6,98.9l0.5-1.2l-7.6-7.8l-0.6,1.2z"/>
<path fill="#422ec0" stroke="#241969" d="M123.1,101.8l0.6-1.4l-7.8-6.6l-0.6,1.3z"/>
<path fill="#3e26a8" stroke="#22145c" d="M146.1,104.6l0.7-1.7l-10.9-5.9l-0.7,1.6zM133.1,103.2l0.7-1.5l-8.1-5.6l-0.7,1.4z"/>
<path fill="#4332cb" stroke="#241b6f" d="M113,100.2l0.6-1.3l-7.7-7.8l-0.5,1.1z"/>
<path fill="#422ec0" stroke="#241969" d="M122.5,103.2l0.6-1.4l-7.8-6.7l-0.6,1.3z"/>
<path fill="#4537d5" stroke="#3e31bf" d="M102.3,99.1l1.6-3.5l-7.5-9.1l-1.5,3.4z"/>
<path fill="#4332cb" stroke="#241b6f" d="M112.4,101.5l0.6-1.3l-7.6-8l-0.5,1.1z"/>
<path fill="#3e26a8" stroke="#22145c" d="M132.4,104.8l0.7-1.6l-8.1-5.7l-0.6,1.5zM145.3,106.3l0.8-1.7l-10.9-6l-0.7,1.5z"/>
<path fill="#422ec0" stroke="#241969" d="M121.8,104.6l0.7-1.4l-7.8-6.8l-0.6,1.3z"/>
<path fill="#4332cb" stroke="#241b6f" d="M111.8,102.8l0.6-1.3l-7.5-8.2l-0.5,1.2z"/>
<path fill="#3e26a8" stroke="#22145c" d="M131.7,106.3l0.7-1.5l-8-5.8l-0.7,1.4zM144.5,108l0.8-1.7l-10.8-6.2l-0.7,1.6z"/>
<path fill="#422ec0" stroke="#241969" d="M121.2,106.1l0.6-1.5l-7.7-6.9l-0.5,1.2z"/>
<path fill="#4332cb" stroke="#241b6f" d="M111.2,104.1l0.6-1.3l-7.4-8.3l-0.5,1.1z"/>
<path fill="#3e26a8" stroke="#22145c" d="M131,107.9l0.7-1.6l-8-5.9l-0.6,1.4zM143.8,109.7l0.7-1.7l-10.7-6.3l-0.7,1.5z"/>
<path fill="#422ec0" stroke="#241969" d="M120.5,107.5l0.7-1.4l-7.6-7.2l-0.6,1.3z"/>
<path fill="#3e26a8" stroke="#22145c" d="M130.3,109.4l0.7-1.5l-7.9-6.1l-0.6,1.4z"/>
<path fill="#402ab4" stroke="#3925a2" d="M109.7,107.5l1.5-3.4l-7.3-8.5l-1.6,3.5z"/>
<path fill="#3e26a8" stroke="#22145c" d="M143,111.4l0.8-1.7l-10.7-6.5l-0.7,1.6z"/>
<path fill="#422ec0" stroke="#241969" d="M119.9,108.9l0.6-1.4l-7.5-7.3l-0.6,1.3z"/>
<path fill="#3e26a8" stroke="#22145c" d="M129.6,111l0.7-1.6l-7.8-6.2l-0.7,1.4z"/>
<path fill="#422ec0" stroke="#241969" d="M119.3,110.3l0.6-1.4l-7.5-7.4l-0.6,1.3z"/>
<path fill="#3e26a8" stroke="#22145c" d="M142.2,113.1l0.8-1.7l-10.6-6.6l-0.7,1.5zM128.9,112.5l0.7-1.5l-7.8-6.4l-0.6,1.5z"/>
<path fill="#422ec0" stroke="#241969" d="M118.6,111.7l0.7-1.4l-7.5-7.5l-0.6,1.3z"/>
<path fill="#3e26a8" stroke="#22145c" d="M141.5,114.8l0.7-1.7l-10.5-6.8l-0.7,1.6zM128.2,114.1l0.7-1.6l-7.7-6.4l-0.7,1.4zM140.7,116.5l0.8-1.7l-10.5-6.9l-0.7,1.5z"/>
<path fill="#3e26a8" stroke="#372297" d="M117,115.2l1.6-3.5l-7.4-7.6l-1.5,3.4z"/>
<path fill="#3e26a8" stroke="#22145c" d="M127.5,115.6l0.7-1.5l-7.7-6.6l-0.6,1.4zM139.9,118.2l0.8-1.7l-10.4-7.1l-0.7,1.6zM126.8,117.2l0.7-1.6l-7.6-6.7l-0.6,1.4zM139.1,119.9l0.8-1.7l-10.3-7.2l-0.7,1.5zM126.1,118.7l0.7-1.5l-7.5-6.9l-0.7,1.4zM138.4,121.6l0.7-1.7l-10.2-7.4l-0.7,1.6z"/>
<path fill="#3e26a8" stroke="#372297" d="M124.5,122.2l1.6-3.5l-7.5-7l-1.6,3.5z"/>
<path fill="#3e26a8" stroke="#22145c" d="M137.6,123.3l0.8-1.7l-10.2-7.5l-0.7,1.5zM136.8,125l0.8-1.7l-10.1-7.7l-0.7,1.6zM136.1,126.7l0.7-1.7l-10-7.8l-0.7,1.5z"/>
<path fill="#3e26a8" stroke="#372297" d="M134.5,130.2l1.6-3.5l-10-8l-1.6,3.5z"/>
</g>
<path fill="none" stroke="#000" stroke-opacity="0.45" stroke-width="0.3" d="M134.5,130.2l1.6-3.5l0.7-1.7l0.8-1.7l0.8-1.7l0.7-1.7l0.8-1.7l0.8-1.7l0.8-1.7l0.7-1.7l0.8-1.7l0.8-1.7l0.7-1.7l0.8-1.7l0.8-1.7l0.7-1.7l0.8-1.7l0.8-1.7l0.7-1.7l0.8-1.7l0.8-1.7l0.8-1.7l0.7-1.7l0.8-1.7l0.8-1.7l0.7-1.7l0.8-1.7l0.8-1.7l0.7-1.7l0.8-1.7l0.8-1.7l0.8-1.7l0.7-1.7l0.8-1.7l0.8-1.7l0.7-1.7l0.8-1.7M124.5,122.2l1.6-3.5l0.7-1.5l0.7-1.6l0.7-1.5l0.7-1.6l0.7-1.5l0.7-1.6l0.7-1.5l0.7-1.6l0.7-1.5l0.7-1.6l0.7-1.5l0.7-1.6l0.7-1.5l0.7-1.6l0.7-1.5l0.7-1.6l0.7-1.5l0.7-1.6l0.7-1.5l0.7-1.5l0.7-1.6l0.7-1.5l0.7-1.6l0.7-1.5l0.7-1.6l0.7-1.5l0.7-1.6l0.7-1.5l0.7-1.6l0.7-1.5l0.7-1.6l0.7-1.5l0.7-1.6l0.7-1.5l0.7-1.6M117,115.2l1.6-3.5l0.7-1.4l0.6-1.4l0.6-1.4l0.7-1.4l0.6-1.5l0.7-1.4l0.6-1.4l0.6-1.4l0.7-1.4l0.6-1.5l0.7-1.4l0.6-1.4l0.6-1.4l0.7-1.4l0.6-1.4l0.7-1.5l0.6-1.4l0.7-1.4l0.6-1.4l0.6-1.4l0.7-1.4l0.6-1.5l0.7-1.4l0.6-1.4l0.6-1.4l0.7-1.4l0.6-1.4l0.7-1.5l0.6-1.4l0.6-1.4l0.7-1.4l0.6-1.4l0.7-1.5l0.6-1.4l0.7-1.4M109.7,107.5l1.5-3.4l0.6-1.3l0.6-1.3l0.6-1.3l0.6-1.3l0.5-1.2l0.6-1.3l0.6-1.3l0.6-1.3l0.6-1.2l0.5-1.3l0.6-1.3l0.6-1.3l0.6-1.3l0.5-1.2l0.6-1.3l0.6-1.3l0.6-1.3l0.6-1.3l0.5-1.2l0.6-1.3l0.6-1.3l0.6-1.3l0.6-1.3l0.5-1.2l0.6-1.3l0.6-1.3l0.6-1.3l0.5-1.3l0.6-1.2l0.6-1.3l0.6-1.3l0.6-1.3l0.5-1.3l0.6-1.2l0.6-1.3M102.3,99.1l1.6-3.5l0.5-1.1l0.5-1.2l0.5-1.1l0.5-1.1l0.6-1.2l0.5-1.1l0.5-1.2l0.5-1.1l0.5-1.1l0.5-1.2l0.6-1.1l0.5-1.2l0.5-1.1l0.5-1.1l0.5-1.2l0.5-1.1l0.6-1.2l0.5-1.1l0.5-1.2l0.5-1.1l0.5-1.1l0.5-1.2l0.6-1.1l0.5-1.2l0.5-1.1l0.5-1.1l0.5-1.2l0.5-1.1l0.5-1.2l0.6-1.1l0.5-1.1l0.5-1.2l0.5-1.1l0.5-1.2l0.5-1.1M94.9,89.9l1.5-3.4l0.5-1l0.5-1.1l0.4-1l0.5-1l0.4-1l0.5-1l0.4-1l0.5-1l0.4-1l0.5-1l0.5-1l0.4-1l0.5-1l0.4-1l0.5-1.1l0.4-1l0.5-1l0.4-1l0.5-1l0.5-1l0.4-1l0.5-1l0.4-1l0.5-1l0.4-1l0.5-1l0.4-1l0.5-1l0.5-1.1l0.4-1l0.5-1l0.4-1l0.5-1l0.4-1l0.5-1M87.4,79.1l1.6-3.4l0.4-0.9l0.4-0.9l0.4-0.9l0.3-0.8l0.4-0.9l0.4-0.9l0.4-0.9l0.4-0.8l0.4-0.9l0.4-0.9l0.4-0.9l0.4-0.8l0.4-0.9l0.4-0.9l0.4-0.9l0.4-0.8l0.4-0.9l0.4-0.9l0.4-0.9l0.4-0.8l0.4-0.9l0.4-0.9l0.4-0.9l0.4-0.9l0.4-0.8l0.4-0.9l0.4-0.9l0.4-0.9l0.4-0.8l0.4-0.9l0.3-0.9l0.4-0.9l0.4-0.8l0.4-0.9l0.4-0.9M80.2,67.3l1.6-3.5l0.3-0.7l0.3-0.7l0.3-0.7l0.4-0.8l0.3-0.7l0.3-0.7l0.4-0.8l0.3-0.7l0.3-0.7l0.3-0.7l0.4-0.8l0.3-0.7l0.3-0.7l0.4-0.7l0.3-0.8l0.3-0.7l0.4-0.7l0.3-0.8l0.3-0.7l0.3-0.7l0.4-0.7l0.3-0.8l0.3-0.7l0.4-0.7l0.3-0.8l0.3-0.7l0.3-0.7l0.4-0.7l0.3-0.8l0.3-0.7l0.4-0.7l0.3-0.8l0.3-0.7l0.4-0.7l0.3-0.7M72.8,53.9l1.6-3.4l0.2-0.6l0.3-0.6l0.3-0.6l0.2-0.6l0.3-0.6l0.3-0.6l0.2-0.6l0.3-0.6l0.3-0.6l0.2-0.6l0.3-0.5l0.3-0.6l0.2-0.6l0.3-0.6l0.3-0.6l0.2-0.6l0.3-0.6l0.3-0.6l0.2-0.6l0.3-0.6l0.3-0.6l0.2-0.6l0.3-0.5l0.3-0.6l0.2-0.6l0.3-0.6l0.3-0.6l0.3-0.6l0.2-0.6l0.3-0.6l0.3-0.6l0.2-0.6l0.3-0.6l0.3-0.6l0.2-0.6M65.9,40.7l1.6-3.5l0.1-0.4l0.2-0.4l0.2-0.5l0.2-0.4l0.2-0.4l0.2-0.5l0.2-0.4l0.2-0.4l0.2-0.5l0.2-0.4l0.2-0.4l0.2-0.4l0.2-0.5l0.2-0.4l0.2-0.4l0.2-0.5l0.2-0.4l0.2-0.4l0.2-0.5l0.2-0.4l0.1-0.4l0.2-0.5l0.2-0.4l0.2-0.4l0.2-0.4l0.2-0.5l0.2-0.4l0.2-0.4l0.2-0.5l0.2-0.4l0.2-0.4l0.2-0.5l0.2-0.4l0.2-0.4l0.2-0.5M59.3,27.8l1.6-3.4l0.1-0.3l0.1-0.2l0.1-0.3l0.1-0.2l0.1-0.2l0.1-0.3l0.2-0.2l0.1-0.3l0.1-0.2l0.1-0.3l0.1-0.2l0.1-0.2l0.1-0.3l0.1-0.2l0.1-0.3l0.1-0.2l0.2-0.2l0.1-0.3l0.1-0.2l0.1-0.3l0.1-0.2l0.1-0.3l0.1-0.2l0.1-0.2l0.1-0.3l0.1-0.2l0.1-0.3l0.2-0.2l0.1-0.2l0.1-0.3l0.1-0.2l0.1-0.3l0.1-0.2l0.1-0.3l0.1-0.2M55.7,15.1l0.7-1.5l0-0.1l0.1-0.1l0-0.1l0.1-0.1l0-0.1l0.1-0.1l0-0.1l0.1-0.1l0-0.1l0.1-0.1l0-0.1l0.1-0.1l0-0.1l0-0.1l0.1-0.1l0-0.1l0.1-0.1l0-0.1l0.1-0.1l0-0.1l0.1-0.1l0-0.1l0.1-0.1l0-0.1l0-0.1l0.1-0.1l0-0.1l0.1-0.1l0-0.1l0.1-0.1l0-0.1l0.1-0.1l0-0.1l0.1-0.1l0-0.1"/>
<text x="79" y="138.8" font-size="5.4" text-anchor="middle" font-family="Liberation Serif, serif" fill="#333" fill-opacity="0.8" transform="rotate(9 79 137.1)"><tspan font-style="italic">y</tspan>/<tspan font-style="italic">s</tspan><tspan font-size="3.8" dy="1">m</tspan></text>
<text x="165.4" y="119.6" font-size="5.4" text-anchor="middle" font-family="Liberation Serif, serif" fill="#333" fill-opacity="0.8"><tspan font-style="italic">x</tspan>/<tspan font-style="italic">c</tspan><tspan font-size="4" dy="1">r,m</tspan></text>
<text x="13.9" y="102.5" font-size="5.4" text-anchor="middle" font-family="Liberation Serif, serif" fill="#333" fill-opacity="0.8" transform="rotate(-90 13.9 101)">Φ<tspan font-size="4" dy="1">mode 1</tspan></text>
<rect x="178.4" y="9.8" width="6.7" height="120.6" fill="url(#par)" stroke="#999" stroke-width="0.3"/>
<text x="186.3" y="132.1" font-size="5.0" text-anchor="start" font-family="Liberation Serif, serif" fill="#333" >0</text>
<text x="186.3" y="120" font-size="5.0" text-anchor="start" font-family="Liberation Serif, serif" fill="#333" >0.1</text>
<text x="186.3" y="108" font-size="5.0" text-anchor="start" font-family="Liberation Serif, serif" fill="#333" >0.2</text>
<text x="186.3" y="95.9" font-size="5.0" text-anchor="start" font-family="Liberation Serif, serif" fill="#333" >0.3</text>
<text x="186.3" y="83.9" font-size="5.0" text-anchor="start" font-family="Liberation Serif, serif" fill="#333" >0.4</text>
<text x="186.3" y="71.8" font-size="5.0" text-anchor="start" font-family="Liberation Serif, serif" fill="#333" >0.5</text>
<text x="186.3" y="59.7" font-size="5.0" text-anchor="start" font-family="Liberation Serif, serif" fill="#333" >0.6</text>
<text x="186.3" y="47.7" font-size="5.0" text-anchor="start" font-family="Liberation Serif, serif" fill="#333" >0.7</text>
<text x="186.3" y="35.6" font-size="5.0" text-anchor="start" font-family="Liberation Serif, serif" fill="#333" >0.8</text>
<text x="186.3" y="23.6" font-size="5.0" text-anchor="start" font-family="Liberation Serif, serif" fill="#333" >0.9</text>
<text x="186.3" y="11.5" font-size="5.0" text-anchor="start" font-family="Liberation Serif, serif" fill="#333" >1</text>
<text x="11.2" y="162.7" font-size="10.3" font-family="Liberation Serif, serif" fill="#1a1a1a" stroke="#1a1a1a" stroke-width="0.14" textLength="188.7" lengthAdjust="spacingAndGlyphs">(<tspan font-weight="bold">a</tspan>) First mode of the wind tunnel model wing</text>
<path stroke="#e2e2e2" stroke-width="0.45" fill="none" d="M342,130L237,113L237,72.6M347.7,117.4L242.7,100.4L242.7,60M353.4,104.8L248.4,87.8L248.4,47.4M359.1,92.2L254.1,75.2L254.1,34.8M364.8,79.6L259.8,62.6L259.8,22.2M370.5,67L265.5,50L265.5,9.6M342,130L370.5,67L370.5,26.6M321,126.6L349.5,63.6L349.5,23.2M300,123.2L328.5,60.2L328.5,19.8M279,119.8L307.5,56.8L307.5,16.4M258,116.4L286.5,53.4L286.5,13M237,113L265.5,50L265.5,9.6M237,113L265.5,50L370.5,67M237,92.8L265.5,29.8L370.5,46.8M237,72.6L265.5,9.6L370.5,26.6"/>
<path stroke="#999" stroke-width="0.55" fill="none" d="M370.5,67L342,130L237,113M342,130L342.7,128.5M321,126.6L321.7,125.1M300,123.2L300.7,121.7M279,119.8L279.7,118.3M258,116.4L258.7,114.9M237,113L237.7,111.5M342,130L340.4,129.7M347.7,117.4L346.1,117.1M353.4,104.8L351.8,104.5M359.1,92.2L357.5,91.9M364.8,79.6L363.2,79.3M370.5,67L368.9,66.7"/>
<text x="340.5" y="137.4" font-size="5.0" text-anchor="middle" font-family="Liberation Serif, serif" fill="#333" >0</text>
<text x="319.5" y="134" font-size="5.0" text-anchor="middle" font-family="Liberation Serif, serif" fill="#333" >0.2</text>
<text x="298.5" y="130.6" font-size="5.0" text-anchor="middle" font-family="Liberation Serif, serif" fill="#333" >0.4</text>
<text x="277.5" y="127.2" font-size="5.0" text-anchor="middle" font-family="Liberation Serif, serif" fill="#333" >0.6</text>
<text x="256.5" y="123.8" font-size="5.0" text-anchor="middle" font-family="Liberation Serif, serif" fill="#333" >0.8</text>
<text x="235.5" y="120.4" font-size="5.0" text-anchor="middle" font-family="Liberation Serif, serif" fill="#333" >1</text>
<text x="348.3" y="136.2" font-size="5.0" text-anchor="middle" font-family="Liberation Serif, serif" fill="#333" >0</text>
<text x="354" y="123.6" font-size="5.0" text-anchor="middle" font-family="Liberation Serif, serif" fill="#333" >0.2</text>
<text x="359.7" y="111" font-size="5.0" text-anchor="middle" font-family="Liberation Serif, serif" fill="#333" >0.4</text>
<text x="365.4" y="98.4" font-size="5.0" text-anchor="middle" font-family="Liberation Serif, serif" fill="#333" >0.6</text>
<text x="371.1" y="85.8" font-size="5.0" text-anchor="middle" font-family="Liberation Serif, serif" fill="#333" >0.8</text>
<text x="376.8" y="73.2" font-size="5.0" text-anchor="middle" font-family="Liberation Serif, serif" fill="#333" >1</text>
<text x="233.4" y="116" font-size="5.0" text-anchor="end" font-family="Liberation Serif, serif" fill="#333" >0</text>
<text x="233.4" y="95.8" font-size="5.0" text-anchor="end" font-family="Liberation Serif, serif" fill="#333" >2</text>
<text x="233.4" y="75.6" font-size="5.0" text-anchor="end" font-family="Liberation Serif, serif" fill="#333" >4</text>
<text x="230.5" y="68.5" font-size="4.2" text-anchor="middle" font-family="Liberation Serif, serif" fill="#333" >×10<tspan font-size="3" dy="-1.6">−3</tspan></text>
<g stroke-width="0.3">
<path fill="#4758f8" stroke="#3c4ad2" d="M272.1,51.2l0.1,0.1l-6.7,1.4l0,0z"/>
<path fill="#4563fd" stroke="#3a54d7" d="M272,51.2l0.1,0l-6.6,1.5l-0.1,0z"/>
<path fill="#4269fe" stroke="#3859d7" d="M271.9,51.1l0.1,0.1l-6.6,1.5l0,0z"/>
<path fill="#3e6fff" stroke="#345ed8" d="M271.8,51l0.1,0.1l-6.5,1.6l-0.1,0z"/>
<path fill="#3875fe" stroke="#2f63d7" d="M271.6,51l0.2,0l-6.5,1.7l0,0.1zM271.5,50.9l0.1,0.1l-6.3,1.8l-0.1,0z"/>
<path fill="#327cfc" stroke="#2a69d6" d="M271.4,50.9l0.1,0l-6.3,1.9l0,0z"/>
<path fill="#2f81fa" stroke="#276dd4" d="M271.3,50.8l0.1,0.1l-6.2,1.9l-0.1,0zM271.2,50.8l0.1,0l-6.2,2l0,0z"/>
<path fill="#2e87f7" stroke="#2772d1" d="M271,50.7l0.2,0.1l-6.1,2l-0.1,0z"/>
<path fill="#3875fe" stroke="#2f63d7" d="M281.6,50.7l0.2,0.2l-9.6,0.4l-0.1-0.1z"/>
<path fill="#2d8cf3" stroke="#2677ce" d="M270.9,50.6l0.1,0.1l-6,2.1l0,0zM270.8,50.6l0.1,0l-5.9,2.2l0,0z"/>
<path fill="#2e87f7" stroke="#2772d1" d="M281.4,50.5l0.2,0.2l-9.5,0.5l-0.1,0z"/>
<path fill="#2b91ef" stroke="#247bcb" d="M270.7,50.5l0.1,0.1l-5.8,2.2l-0.1,0.1zM270.6,50.5l0.1,0l-5.8,2.4l0,0zM281.2,50.4l0.2,0.1l-9.4,0.7l-0.1-0.1z"/>
<path fill="#2797eb" stroke="#2180c7" d="M270.5,50.4l0.1,0.1l-5.7,2.4l-0.1,0zM270.3,50.4l0.2,0l-5.7,2.5l0,0z"/>
<path fill="#259be8" stroke="#1f83c5" d="M281,50.2l0.2,0.2l-9.3,0.7l-0.1-0.1zM270.2,50.3l0.1,0.1l-5.5,2.5l-0.1,0zM270.1,50.3l0.1,0l-5.5,2.6l0,0z"/>
<path fill="#20a5e3" stroke="#1b8cc0" d="M280.8,50l0.2,0.2l-9.2,0.8l-0.2,0z"/>
<path fill="#23a0e5" stroke="#1d88c2" d="M270,50.2l0.1,0.1l-5.4,2.6l-0.1,0z"/>
<path fill="#327cfc" stroke="#2a69d6" d="M290.9,50.6l0.3,0.2l-9.4,0.1l-0.2-0.2z"/>
<path fill="#23a0e5" stroke="#1d88c2" d="M269.9,50.1l0.1,0.1l-5.4,2.7l0,0z"/>
<path fill="#18addb" stroke="#1493ba" d="M280.6,49.9l0.2,0.1l-9.2,1l-0.1-0.1z"/>
<path fill="#20a5e3" stroke="#1b8cc0" d="M269.8,50.1l0.1,0l-5.3,2.8l-0.1,0.1zM269.6,50l0.2,0.1l-5.3,2.9l0,0z"/>
<path fill="#2d8cf3" stroke="#2677ce" d="M290.7,50.5l0.2,0.1l-9.3,0.1l-0.2-0.2z"/>
<path fill="#12b1d6" stroke="#0f96b5" d="M280.4,49.7l0.2,0.2l-9.1,1l-0.1,0z"/>
<path fill="#1ca9df" stroke="#178fbd" d="M269.5,50l0.1,0l-5.1,3l0,0zM269.4,49.9l0.1,0.1l-5,3l-0.1,0z"/>
<path fill="#3e6fff" stroke="#345ed8" d="M300.4,54.2l0.4,0l-9.6-3.4l-0.3-0.2z"/>
<path fill="#01b8ca" stroke="#009cab" d="M280.2,49.5l0.2,0.2l-9,1.2l-0.1-0.1z"/>
<path fill="#18addb" stroke="#1493ba" d="M269.3,49.9l0.1,0l-5,3.1l0,0z"/>
<path fill="#259be8" stroke="#1f83c5" d="M290.4,50.3l0.3,0.2l-9.3,0l-0.2-0.1z"/>
<path fill="#18addb" stroke="#1493ba" d="M269.2,49.8l0.1,0.1l-4.9,3.1l-0.1,0zM269,49.7l0.2,0.1l-4.9,3.2l0,0z"/>
<path fill="#02bac3" stroke="#019ea5" d="M279.9,49.4l0.3,0.1l-8.9,1.3l-0.1,0z"/>
<path fill="#12b1d6" stroke="#0f96b5" d="M268.9,49.7l0.1,0l-4.7,3.3l-0.1,0z"/>
<path fill="#327cfc" stroke="#2a69d6" d="M300.1,54.1l0.3,0.1l-9.5-3.6l-0.2-0.1z"/>
<path fill="#20a5e3" stroke="#1b8cc0" d="M290.1,50.2l0.3,0.1l-9.2,0.1l-0.2-0.2z"/>
<path fill="#12b1d6" stroke="#0f96b5" d="M268.8,49.6l0.1,0.1l-4.7,3.3l0,0z"/>
<path fill="#465efb" stroke="#2a3896" d="M309.9,55.3l0.4,0l-9.5-1.1l-0.4,0z"/>
<path fill="#19bfb6" stroke="#15a29a" d="M279.7,49.2l0.2,0.2l-8.7,1.4l-0.2-0.1z"/>
<path fill="#08b5d0" stroke="#0699b0" d="M268.7,49.6l0.1,0l-4.6,3.4l-0.1,0.1zM268.6,49.5l0.1,0.1l-4.6,3.5l0,0z"/>
<path fill="#24c1ae" stroke="#1ea493" d="M279.5,49l0.2,0.2l-8.7,1.5l-0.1-0.1z"/>
<path fill="#18addb" stroke="#1493ba" d="M289.8,50l0.3,0.2l-9.1,0l-0.2-0.2z"/>
<path fill="#08b5d0" stroke="#0699b0" d="M268.5,49.5l0.1,0l-4.5,3.6l-0.1,0z"/>
<path fill="#2e87f7" stroke="#2772d1" d="M299.8,54l0.3,0.1l-9.4-3.6l-0.3-0.2z"/>
<path fill="#01b8ca" stroke="#009cab" d="M268.3,49.4l0.2,0.1l-4.5,3.6l0,0z"/>
<path fill="#2cc4a7" stroke="#25a68d" d="M279.3,48.9l0.2,0.1l-8.6,1.6l-0.1,0z"/>
<path fill="#465efb" stroke="#2a3896" d="M309.5,55.4l0.4-0.1l-9.5-1.1l-0.3-0.1z"/>
<path fill="#01b8ca" stroke="#009cab" d="M268.2,49.4l0.1,0l-4.3,3.7l-0.1,0z"/>
<path fill="#02bac3" stroke="#019ea5" d="M268.1,49.3l0.1,0.1l-4.3,3.7l0,0z"/>
<path fill="#12b1d6" stroke="#0f96b5" d="M289.6,49.9l0.2,0.1l-9,0l-0.2-0.1z"/>
<path fill="#31c69f" stroke="#29a887" d="M279.1,48.7l0.2,0.2l-8.5,1.7l-0.1-0.1z"/>
<path fill="#465efb" stroke="#2a3896" d="M319.4,56.2l0.5-0.4l-9.6-0.5l-0.4,0z"/>
<path fill="#2d8cf3" stroke="#2677ce" d="M299.4,53.9l0.4,0.1l-9.4-3.7l-0.3-0.1z"/>
<path fill="#3fca8e" stroke="#35ab78" d="M278.9,48.5l0.2,0.2l-8.4,1.8l-0.1,0z"/>
<path fill="#465efb" stroke="#2a3896" d="M309.1,55.4l0.4,0l-9.4-1.3l-0.3-0.1z"/>
<path fill="#01b8ca" stroke="#009cab" d="M289.3,49.7l0.3,0.2l-9,0l-0.2-0.2z"/>
<path fill="#4acb84" stroke="#3eac70" d="M278.7,48.4l0.2,0.1l-8.3,2l-0.1-0.1z"/>
<path fill="#2797eb" stroke="#2180c7" d="M299.1,53.8l0.3,0.1l-9.3-3.7l-0.3-0.2z"/>
<path fill="#465efb" stroke="#2a3896" d="M319,56.6l0.4-0.4l-9.5-0.9l-0.4,0.1z"/>
<path fill="#02bac3" stroke="#019ea5" d="M289,49.6l0.3,0.1l-8.9,0l-0.2-0.2z"/>
<path fill="#24c1ae" stroke="#20ad9c" d="M266.8,48.7l1.3,0.6l-4.2,3.8l-0.7,0.2z"/>
<path fill="#57cc7a" stroke="#49ad67" d="M278.5,48.2l0.2,0.2l-8.2,2l-0.2,0z"/>
<path fill="#465efb" stroke="#2a3896" d="M308.7,55.5l0.4-0.1l-9.3-1.4l-0.4-0.1zM328.9,56.8l0.5-0.7l-9.5-0.3l-0.5,0.4z"/>
<path fill="#64cd6f" stroke="#55ae5e" d="M278.3,48l0.2,0.2l-8.2,2.2l-0.1-0.1z"/>
<path fill="#259be8" stroke="#1f83c5" d="M298.8,53.7l0.3,0.1l-9.3-3.8l-0.2-0.1z"/>
<path fill="#19bfb6" stroke="#15a29a" d="M288.7,49.4l0.3,0.2l-8.8-0.1l-0.3-0.1z"/>
<path fill="#465efb" stroke="#2a3896" d="M318.5,57l0.5-0.4l-9.5-1.2l-0.4,0z"/>
<path fill="#72cd64" stroke="#60ae55" d="M278.1,47.9l0.2,0.1l-8.1,2.3l-0.1,0z"/>
<path fill="#4563fd" stroke="#293b97" d="M308.3,55.6l0.4-0.1l-9.3-1.6l-0.3-0.1z"/>
<path fill="#24c1ae" stroke="#1ea493" d="M288.5,49.2l0.2,0.2l-8.8,0l-0.2-0.2z"/>
<path fill="#23a0e5" stroke="#1d88c2" d="M298.4,53.6l0.4,0.1l-9.2-3.8l-0.3-0.2z"/>
<path fill="#81cc59" stroke="#6dad4b" d="M277.9,47.7l0.2,0.2l-8,2.4l-0.1-0.1z"/>
<path fill="#465efb" stroke="#2a3896" d="M328.4,57.5l0.5-0.7l-9.5-0.6l-0.4,0.4zM318,57.3l0.5-0.3l-9.4-1.6l-0.4,0.1z"/>
<path fill="#8fcb4e" stroke="#79ac42" d="M277.7,47.5l0.2,0.2l-7.9,2.5l-0.1-0.1z"/>
<path fill="#31c69f" stroke="#29a887" d="M288.2,49.1l0.3,0.1l-8.8,0l-0.2-0.2z"/>
<path fill="#465efb" stroke="#2a3896" d="M338.4,57.9l0.6-1l-9.6-0.8l-0.5,0.7z"/>
<path fill="#4269fe" stroke="#273f98" d="M307.9,55.6l0.4,0l-9.2-1.8l-0.3-0.1z"/>
<path fill="#1ca9df" stroke="#178fbd" d="M298.1,53.6l0.3,0l-9.1-3.9l-0.3-0.1z"/>
<path fill="#9dc943" stroke="#85aa38" d="M277.5,47.4l0.2,0.1l-7.8,2.6l-0.1,0z"/>
<path fill="#465efb" stroke="#2a3896" d="M327.9,58.2l0.5-0.7l-9.4-0.9l-0.5,0.4z"/>
<path fill="#37c897" stroke="#2eaa80" d="M287.9,48.9l0.3,0.2l-8.7-0.1l-0.2-0.1z"/>
<path fill="#abc739" stroke="#91a930" d="M277.3,47.2l0.2,0.2l-7.7,2.7l-0.2-0.1z"/>
<path fill="#4563fd" stroke="#293b97" d="M317.6,57.7l0.4-0.4l-9.3-1.8l-0.4,0.1z"/>
<path fill="#3875fe" stroke="#214698" d="M307.5,55.7l0.4-0.1l-9.1-1.9l-0.4-0.1z"/>
<path fill="#18addb" stroke="#1493ba" d="M297.7,53.5l0.4,0.1l-9.1-4l-0.3-0.2z"/>
<path fill="#465efb" stroke="#2a3896" d="M337.8,58.9l0.6-1l-9.5-1.1l-0.5,0.7z"/>
<path fill="#b9c431" stroke="#9da629" d="M277.1,47l0.2,0.2l-7.7,2.8l-0.1,0z"/>
<path fill="#4758f8" stroke="#2a3494" d="M347.9,59.8l0.7-1.2l-9.6-1.7l-0.6,1z"/>
<path fill="#3fca8e" stroke="#35ab78" d="M287.6,48.8l0.3,0.1l-8.6,0l-0.2-0.2z"/>
<path fill="#465efb" stroke="#2a3896" d="M327.3,58.9l0.6-0.7l-9.4-1.2l-0.5,0.3z"/>
<path fill="#c5c22a" stroke="#a7a423" d="M276.9,46.9l0.2,0.1l-7.6,3l-0.1-0.1z"/>
<path fill="#12b1d6" stroke="#0f96b5" d="M297.4,53.4l0.3,0.1l-9-4.1l-0.2-0.2z"/>
<path fill="#4269fe" stroke="#273f98" d="M317.1,58.1l0.5-0.4l-9.3-2.1l-0.4,0z"/>
<path fill="#484df0" stroke="#2b2e90" d="M357.4,63.9l0.7-1.5l-9.5-3.8l-0.7,1.2z"/>
<path fill="#327cfc" stroke="#1e4a97" d="M307.1,55.7l0.4,0l-9.1-2.1l-0.3,0z"/>
<path fill="#4acb84" stroke="#3eac70" d="M287.4,48.6l0.2,0.2l-8.5-0.1l-0.2-0.2z"/>
<path fill="#465efb" stroke="#2a3896" d="M337.2,59.9l0.6-1l-9.4-1.4l-0.5,0.7z"/>
<path fill="#d1bf27" stroke="#b1a221" d="M276.7,46.7l0.2,0.2l-7.5,3l-0.1,0z"/>
<path fill="#422ec0" stroke="#271b73" d="M369.7,69l0.8-1.7l-12.4-4.9l-0.7,1.5z"/>
<path fill="#4758f8" stroke="#2a3494" d="M347.3,61.1l0.6-1.3l-9.5-1.9l-0.6,1z"/>
<path fill="#4563fd" stroke="#293b97" d="M326.8,59.6l0.5-0.7l-9.3-1.6l-0.4,0.4z"/>
<path fill="#dcbd29" stroke="#bba022" d="M276.5,46.5l0.2,0.2l-7.4,3.2l-0.1-0.1z"/>
<path fill="#08b5d0" stroke="#0699b0" d="M297.1,53.3l0.3,0.1l-8.9-4.2l-0.3-0.1z"/>
<path fill="#64cd6f" stroke="#55ae5e" d="M287.1,48.5l0.3,0.1l-8.5-0.1l-0.2-0.1z"/>
<path fill="#4269fe" stroke="#273f98" d="M316.6,58.5l0.5-0.4l-9.2-2.5l-0.4,0.1z"/>
<path fill="#2f81fa" stroke="#1c4d96" d="M306.7,55.8l0.4-0.1l-9-2.1l-0.4-0.1z"/>
<path fill="#e6bb2d" stroke="#c39e26" d="M276.3,46.4l0.2,0.1l-7.3,3.3l-0.2-0.1z"/>
<path fill="#484df0" stroke="#2b2e90" d="M356.7,65.4l0.7-1.5l-9.5-4.1l-0.6,1.3z"/>
<path fill="#465efb" stroke="#2a3896" d="M336.7,60.9l0.5-1l-9.3-1.7l-0.6,0.7z"/>
<path fill="#72cd64" stroke="#60ae55" d="M286.8,48.3l0.3,0.2l-8.4-0.1l-0.2-0.2z"/>
<path fill="#422ec0" stroke="#271b73" d="M368.9,70.7l0.8-1.7l-12.3-5.1l-0.7,1.5z"/>
<path fill="#4758f8" stroke="#2a3494" d="M346.6,62.4l0.7-1.3l-9.5-2.2l-0.6,1z"/>
<path fill="#e6bb2d" stroke="#c39e26" d="M276.1,46.2l0.2,0.2l-7.3,3.3l-0.1,0z"/>
<path fill="#01b8ca" stroke="#009cab" d="M296.7,53.2l0.4,0.1l-8.9-4.2l-0.3-0.2z"/>
<path fill="#4563fd" stroke="#293b97" d="M326.3,60.2l0.5-0.6l-9.2-1.9l-0.5,0.4z"/>
<path fill="#2e87f7" stroke="#1b5194" d="M306.3,55.9l0.4-0.1l-9-2.3l-0.3-0.1z"/>
<path fill="#3e6fff" stroke="#254299" d="M316.2,58.8l0.4-0.3l-9.1-2.8l-0.4,0z"/>
<path fill="#f0ba36" stroke="#cc9e2d" d="M275.9,46l0.2,0.2l-7.2,3.5l-0.1-0.1z"/>
<path fill="#81cc59" stroke="#6dad4b" d="M286.5,48.2l0.3,0.1l-8.3-0.1l-0.2-0.2z"/>
<path fill="#465efb" stroke="#2a3896" d="M336.1,61.9l0.6-1l-9.4-2l-0.5,0.7z"/>
<path fill="#484df0" stroke="#2b2e90" d="M356,66.8l0.7-1.4l-9.4-4.3l-0.7,1.3z"/>
<path fill="#02bac3" stroke="#019ea5" d="M296.4,53.1l0.3,0.1l-8.8-4.3l-0.3-0.1z"/>
<path fill="#f8ba3d" stroke="#d29e33" d="M275.7,45.9l0.2,0.1l-7.1,3.6l-0.1,0z"/>
<path fill="#4758f8" stroke="#2a3494" d="M346,63.6l0.6-1.2l-9.4-2.5l-0.5,1z"/>
<path fill="#4563fd" stroke="#293b97" d="M325.8,60.9l0.5-0.7l-9.2-2.1l-0.5,0.4z"/>
<path fill="#422ec0" stroke="#271b73" d="M368.2,72.4l0.7-1.7l-12.2-5.3l-0.7,1.4z"/>
<path fill="#8fcb4e" stroke="#79ac42" d="M286.3,48l0.2,0.2l-8.2-0.2l-0.2-0.1z"/>
<path fill="#2d8cf3" stroke="#1b5491" d="M305.9,55.9l0.4,0l-8.9-2.5l-0.3-0.1z"/>
<path fill="#febe3c" stroke="#d7a133" d="M275.5,45.7l0.2,0.2l-7,3.7l-0.1-0.1z"/>
<path fill="#3e6fff" stroke="#254299" d="M315.7,59.2l0.5-0.4l-9.1-3.1l-0.4,0.1z"/>
<path fill="#0bbdbd" stroke="#09a0a0" d="M296.1,53.1l0.3,0l-8.8-4.3l-0.2-0.2z"/>
<path fill="#fec338" stroke="#d7a52f" d="M275.3,45.5l0.2,0.2l-6.9,3.8l-0.1,0z"/>
<path fill="#465efb" stroke="#2a3896" d="M335.5,62.9l0.6-1l-9.3-2.3l-0.5,0.6z"/>
<path fill="#9dc943" stroke="#85aa38" d="M286,47.9l0.3,0.1l-8.2-0.1l-0.2-0.2z"/>
<path fill="#484df0" stroke="#2b2e90" d="M355.3,68.3l0.7-1.5l-9.4-4.4l-0.6,1.2z"/>
<path fill="#4269fe" stroke="#273f98" d="M325.3,61.6l0.5-0.7l-9.2-2.4l-0.4,0.3z"/>
<path fill="#4758f8" stroke="#2a3494" d="M345.3,64.9l0.7-1.3l-9.3-2.7l-0.6,1z"/>
<path fill="#2b91ef" stroke="#19578f" d="M305.5,56l0.4-0.1l-8.8-2.6l-0.4-0.1z"/>
<path fill="#fec934" stroke="#d7aa2c" d="M275.1,45.4l0.2,0.1l-6.8,4l-0.2-0.1z"/>
<path fill="#3875fe" stroke="#214698" d="M315.3,59.6l0.4-0.4l-9-3.4l-0.4,0.1z"/>
<path fill="#422ec0" stroke="#271b73" d="M367.4,74.1l0.8-1.7l-12.2-5.6l-0.7,1.5z"/>
<path fill="#19bfb6" stroke="#15a29a" d="M295.7,53l0.4,0.1l-8.7-4.5l-0.3-0.1z"/>
<path fill="#abc739" stroke="#91a930" d="M285.7,47.7l0.3,0.2l-8.1-0.2l-0.2-0.2z"/>
<path fill="#fec934" stroke="#d7aa2c" d="M274.9,45.2l0.2,0.2l-6.8,4l-0.1,0z"/>
<path fill="#465efb" stroke="#2a3896" d="M334.9,63.9l0.6-1l-9.2-2.7l-0.5,0.7z"/>
<path fill="#484df0" stroke="#2b2e90" d="M354.6,69.8l0.7-1.5l-9.3-4.7l-0.7,1.3z"/>
<path fill="#fccf30" stroke="#d6af28" d="M274.7,45l0.2,0.2l-6.7,4.2l-0.1-0.1z"/>
<path fill="#2797eb" stroke="#175a8d" d="M305.1,56.1l0.4-0.1l-8.8-2.8l-0.3-0.1z"/>
<path fill="#4269fe" stroke="#273f98" d="M324.7,62.3l0.6-0.7l-9.1-2.8l-0.5,0.4z"/>
<path fill="#b9c431" stroke="#9da629" d="M285.4,47.5l0.3,0.2l-8-0.2l-0.2-0.1z"/>
<path fill="#4758f8" stroke="#2a3494" d="M344.7,66.1l0.6-1.2l-9.2-3l-0.6,1z"/>
<path fill="#19bfb6" stroke="#15a29a" d="M295.4,52.9l0.3,0.1l-8.6-4.5l-0.3-0.2z"/>
<path fill="#327cfc" stroke="#1e4a97" d="M314.8,60l0.5-0.4l-9-3.7l-0.4,0z"/>
<path fill="#422ec0" stroke="#271b73" d="M366.6,75.8l0.8-1.7l-12.1-5.8l-0.7,1.5z"/>
<path fill="#c5c22a" stroke="#a7a423" d="M285.2,47.4l0.2,0.1l-7.9-0.1l-0.2-0.2z"/>
<path fill="#465efb" stroke="#2a3896" d="M334.3,64.9l0.6-1l-9.1-3l-0.5,0.7z"/>
<path fill="#259be8" stroke="#165d8b" d="M304.7,56.1l0.4,0l-8.7-3l-0.3,0z"/>
<path fill="#24c1ae" stroke="#1ea493" d="M295,52.8l0.4,0.1l-8.6-4.6l-0.3-0.1z"/>
<path fill="#4269fe" stroke="#273f98" d="M324.2,63l0.5-0.7l-9-3.1l-0.4,0.4z"/>
<path fill="#484df0" stroke="#2b2e90" d="M353.9,71.2l0.7-1.4l-9.3-4.9l-0.6,1.2z"/>
<path fill="#4758f8" stroke="#2a3494" d="M344,67.4l0.7-1.3l-9.2-3.2l-0.6,1z"/>
<path fill="#327cfc" stroke="#1e4a97" d="M314.3,60.3l0.5-0.3l-8.9-4.1l-0.4,0.1z"/>
<path fill="#d1bf27" stroke="#b1a221" d="M284.9,47.2l0.3,0.2l-7.9-0.2l-0.2-0.2z"/>
<path fill="#422ec0" stroke="#271b73" d="M365.8,77.5l0.8-1.7l-12-6l-0.7,1.4z"/>
<path fill="#2cc4a7" stroke="#25a68d" d="M294.7,52.7l0.3,0.1l-8.5-4.6l-0.2-0.2z"/>
<path fill="#4563fd" stroke="#293b97" d="M333.7,65.9l0.6-1l-9-3.3l-0.6,0.7z"/>
<path fill="#23a0e5" stroke="#156089" d="M304.3,56.2l0.4-0.1l-8.6-3l-0.4-0.1z"/>
<path fill="#f6ef20" stroke="#ddd71c" d="M273.4,44l1.3,1l-6.6,4.3l-1.3-0.6z"/>
<path fill="#dcbd29" stroke="#bba022" d="M284.6,47.1l0.3,0.1l-7.8-0.2l-0.2-0.1z"/>
<path fill="#3e6fff" stroke="#254299" d="M323.7,63.7l0.5-0.7l-8.9-3.4l-0.5,0.4z"/>
<path fill="#484df0" stroke="#2b2e90" d="M353.2,72.7l0.7-1.5l-9.2-5.1l-0.7,1.3z"/>
<path fill="#2f81fa" stroke="#1c4d96" d="M313.9,60.7l0.4-0.4l-8.8-4.3l-0.4,0.1z"/>
<path fill="#4758f8" stroke="#2a3494" d="M343.4,68.6l0.6-1.2l-9.1-3.5l-0.6,1z"/>
<path fill="#31c69f" stroke="#29a887" d="M294.4,52.6l0.3,0.1l-8.4-4.7l-0.3-0.1z"/>
<path fill="#e6bb2d" stroke="#c39e26" d="M284.3,46.9l0.3,0.2l-7.7-0.2l-0.2-0.2z"/>
<path fill="#20a5e3" stroke="#136388" d="M303.9,56.2l0.4,0l-8.6-3.2l-0.3-0.1z"/>
<path fill="#4563fd" stroke="#293b97" d="M333.1,66.8l0.6-0.9l-9-3.6l-0.5,0.7z"/>
<path fill="#422ec0" stroke="#271b73" d="M365.1,79.2l0.7-1.7l-11.9-6.3l-0.7,1.5z"/>
<path fill="#3e6fff" stroke="#254299" d="M323.2,64.4l0.5-0.7l-8.9-3.7l-0.5,0.3z"/>
<path fill="#2f81fa" stroke="#1c4d96" d="M313.4,61.1l0.5-0.4l-8.8-4.6l-0.4,0z"/>
<path fill="#484df0" stroke="#2b2e90" d="M352.4,74.1l0.8-1.4l-9.2-5.3l-0.6,1.2z"/>
<path fill="#f0ba36" stroke="#cc9e2d" d="M284.1,46.8l0.2,0.1l-7.6-0.2l-0.2-0.2z"/>
<path fill="#37c897" stroke="#2eaa80" d="M294,52.5l0.4,0.1l-8.4-4.7l-0.3-0.2z"/>
<path fill="#4758f8" stroke="#2a3494" d="M342.7,69.9l0.7-1.3l-9.1-3.7l-0.6,1z"/>
<path fill="#1ca9df" stroke="#106585" d="M303.5,56.3l0.4-0.1l-8.5-3.3l-0.4-0.1z"/>
<path fill="#4563fd" stroke="#293b97" d="M332.5,67.8l0.6-1l-8.9-3.8l-0.5,0.7z"/>
<path fill="#f8ba3d" stroke="#d29e33" d="M283.8,46.6l0.3,0.2l-7.6-0.3l-0.2-0.1z"/>
<path fill="#3e6fff" stroke="#254299" d="M322.6,65.1l0.6-0.7l-8.9-4.1l-0.4,0.4z"/>
<path fill="#422ec0" stroke="#271b73" d="M364.3,80.9l0.8-1.7l-11.9-6.5l-0.8,1.4z"/>
<path fill="#3fca8e" stroke="#35ab78" d="M293.7,52.5l0.3,0l-8.3-4.8l-0.3-0.2z"/>
<path fill="#2e87f7" stroke="#1b5194" d="M312.9,61.5l0.5-0.4l-8.7-5l-0.4,0.1z"/>
<path fill="#4758f8" stroke="#2a3494" d="M342.1,71.1l0.6-1.2l-9-4l-0.6,0.9z"/>
<path fill="#4747eb" stroke="#2a2a8d" d="M351.7,75.6l0.7-1.5l-9-5.5l-0.7,1.3z"/>
<path fill="#18addb" stroke="#0e6783" d="M303.1,56.4l0.4-0.1l-8.5-3.5l-0.3-0.1z"/>
<path fill="#febe3c" stroke="#d7a133" d="M283.5,46.5l0.3,0.1l-7.5-0.2l-0.2-0.2z"/>
<path fill="#4563fd" stroke="#293b97" d="M332,68.8l0.5-1l-8.8-4.1l-0.5,0.7z"/>
<path fill="#3fca8e" stroke="#35ab78" d="M293.4,52.4l0.3,0.1l-8.3-5l-0.2-0.1z"/>
<path fill="#3875fe" stroke="#214698" d="M322.1,65.8l0.5-0.7l-8.7-4.4l-0.5,0.4z"/>
<path fill="#2d8cf3" stroke="#1b5491" d="M312.5,61.8l0.4-0.3l-8.6-5.3l-0.4,0z"/>
<path fill="#422ec0" stroke="#271b73" d="M363.5,82.7l0.8-1.8l-11.9-6.8l-0.7,1.5z"/>
<path fill="#fec338" stroke="#d7a52f" d="M283.2,46.3l0.3,0.2l-7.4-0.3l-0.2-0.2z"/>
<path fill="#4758f8" stroke="#2a3494" d="M341.4,72.4l0.7-1.3l-9-4.3l-0.6,1z"/>
<path fill="#12b1d6" stroke="#0a6a80" d="M302.7,56.4l0.4,0l-8.4-3.7l-0.3-0.1z"/>
<path fill="#4747eb" stroke="#2a2a8d" d="M351,77.1l0.7-1.5l-9-5.7l-0.6,1.2z"/>
<path fill="#4acb84" stroke="#3eac70" d="M293,52.3l0.4,0.1l-8.2-5l-0.3-0.2z"/>
<path fill="#4563fd" stroke="#293b97" d="M331.4,69.8l0.6-1l-8.8-4.4l-0.6,0.7z"/>
<path fill="#fec934" stroke="#d7aa2c" d="M283,46.2l0.2,0.1l-7.3-0.3l-0.2-0.1z"/>
<path fill="#3875fe" stroke="#214698" d="M321.6,66.5l0.5-0.7l-8.7-4.7l-0.5,0.4z"/>
<path fill="#2d8cf3" stroke="#1b5491" d="M312,62.2l0.5-0.4l-8.6-5.6l-0.4,0.1z"/>
<path fill="#08b5d0" stroke="#046c7c" d="M302.2,56.5l0.5-0.1l-8.3-3.8l-0.4-0.1z"/>
<path fill="#422ec0" stroke="#271b73" d="M362.7,84.4l0.8-1.7l-11.8-7.1l-0.7,1.5z"/>
<path fill="#57cc7a" stroke="#49ad67" d="M292.7,52.2l0.3,0.1l-8.1-5.1l-0.3-0.1z"/>
<path fill="#4758f8" stroke="#2a3494" d="M340.8,73.7l0.6-1.3l-8.9-4.6l-0.5,1z"/>
<path fill="#fccf30" stroke="#d6af28" d="M282.7,46l0.3,0.2l-7.3-0.3l-0.2-0.2z"/>
<path fill="#4747eb" stroke="#2a2a8d" d="M350.3,78.5l0.7-1.4l-8.9-6l-0.7,1.3z"/>
<path fill="#4563fd" stroke="#293b97" d="M330.8,70.8l0.6-1l-8.8-4.7l-0.5,0.7z"/>
<path fill="#3875fe" stroke="#214698" d="M321.1,67.2l0.5-0.7l-8.7-5l-0.4,0.3z"/>
<path fill="#2b91ef" stroke="#19578f" d="M311.5,62.6l0.5-0.4l-8.5-5.9l-0.4,0.1z"/>
<path fill="#fccf30" stroke="#d6af28" d="M282.4,45.9l0.3,0.1l-7.2-0.3l-0.2-0.2z"/>
<path fill="#01b8ca" stroke="#006e79" d="M301.8,56.5l0.4,0l-8.2-4l-0.3,0z"/>
<path fill="#64cd6f" stroke="#55ae5e" d="M292.3,52.1l0.4,0.1l-8.1-5.1l-0.3-0.2z"/>
<path fill="#4758f8" stroke="#2a3494" d="M340.1,74.9l0.7-1.2l-8.8-4.9l-0.6,1z"/>
<path fill="#422ec0" stroke="#271b73" d="M361.9,86.1l0.8-1.7l-11.7-7.3l-0.7,1.4z"/>
<path fill="#4747eb" stroke="#2a2a8d" d="M349.6,80l0.7-1.5l-8.9-6.1l-0.6,1.3z"/>
<path fill="#fad62d" stroke="#d4b526" d="M282.1,45.7l0.3,0.2l-7.1-0.4l-0.2-0.1z"/>
<path fill="#4563fd" stroke="#293b97" d="M330.2,71.8l0.6-1l-8.7-5l-0.5,0.7z"/>
<path fill="#327cfc" stroke="#1e4a97" d="M320.5,67.9l0.6-0.7l-8.6-5.4l-0.5,0.4z"/>
<path fill="#2b91ef" stroke="#19578f" d="M311.1,63l0.4-0.4l-8.4-6.2l-0.4,0z"/>
<path fill="#72cd64" stroke="#60ae55" d="M292,52l0.3,0.1l-8-5.2l-0.2-0.1z"/>
<path fill="#02bac3" stroke="#016f75" d="M301.4,56.6l0.4-0.1l-8.1-4l-0.3-0.1z"/>
<path fill="#f7dc2a" stroke="#d1bb23" d="M281.8,45.5l0.3,0.2l-7-0.3l-0.2-0.2z"/>
<path fill="#4758f8" stroke="#2a3494" d="M339.5,76.2l0.6-1.3l-8.7-5.1l-0.6,1z"/>
<path fill="#422ec0" stroke="#271b73" d="M361.2,87.8l0.7-1.7l-11.6-7.6l-0.7,1.5z"/>
<path fill="#4747eb" stroke="#2a2a8d" d="M348.9,81.5l0.7-1.5l-8.8-6.3l-0.7,1.2z"/>
<path fill="#72cd64" stroke="#60ae55" d="M291.7,52l0.3,0l-7.9-5.2l-0.3-0.2z"/>
<path fill="#4269fe" stroke="#273f98" d="M329.6,72.8l0.6-1l-8.6-5.3l-0.5,0.7z"/>
<path fill="#327cfc" stroke="#1e4a97" d="M320,68.6l0.5-0.7l-8.5-5.7l-0.5,0.4z"/>
<path fill="#2797eb" stroke="#175a8d" d="M310.6,63.3l0.5-0.3l-8.4-6.6l-0.5,0.1z"/>
<path fill="#0bbdbd" stroke="#067171" d="M301,56.7l0.4-0.1l-8-4.2l-0.4-0.1z"/>
<path fill="#f5e327" stroke="#d0c021" d="M281.6,45.4l0.2,0.1l-6.9-0.3l-0.2-0.2z"/>
<path fill="#81cc59" stroke="#6dad4b" d="M291.3,51.9l0.4,0.1l-7.9-5.4l-0.3-0.1z"/>
<path fill="#4758f8" stroke="#2a3494" d="M338.8,77.4l0.7-1.2l-8.7-5.4l-0.6,1z"/>
<path fill="#4269fe" stroke="#273f98" d="M329,73.8l0.6-1l-8.5-5.6l-0.6,0.7z"/>
<path fill="#327cfc" stroke="#1e4a97" d="M319.5,69.3l0.5-0.7l-8.5-6l-0.4,0.4z"/>
<path fill="#422ec0" stroke="#271b73" d="M360.4,89.5l0.8-1.7l-11.6-7.8l-0.7,1.5z"/>
<path fill="#259be8" stroke="#165d8b" d="M310.1,63.7l0.5-0.4l-8.4-6.8l-0.4,0z"/>
<path fill="#4747eb" stroke="#2a2a8d" d="M348.2,82.9l0.7-1.4l-8.8-6.6l-0.6,1.3z"/>
<path fill="#19bfb6" stroke="#0f726d" d="M300.6,56.7l0.4,0l-8-4.4l-0.3-0.1z"/>
<path fill="#8fcb4e" stroke="#79ac42" d="M291,51.8l0.3,0.1l-7.8-5.4l-0.3-0.2z"/>
<path fill="#4758f8" stroke="#2a3494" d="M338.2,78.7l0.6-1.3l-8.6-5.6l-0.6,1z"/>
<path fill="#24c1ae" stroke="#157368" d="M300.2,56.8l0.4-0.1l-7.9-4.5l-0.4-0.1z"/>
<path fill="#259be8" stroke="#165d8b" d="M309.7,64.1l0.4-0.4l-8.3-7.2l-0.4,0.1z"/>
<path fill="#4269fe" stroke="#273f98" d="M328.4,74.8l0.6-1l-8.5-5.9l-0.5,0.7z"/>
<path fill="#2f81fa" stroke="#1c4d96" d="M319,70l0.5-0.7l-8.4-6.3l-0.5,0.3z"/>
<path fill="#4747eb" stroke="#2a2a8d" d="M347.5,84.4l0.7-1.5l-8.7-6.7l-0.7,1.2z"/>
<path fill="#422ec0" stroke="#271b73" d="M359.6,91.2l0.8-1.7l-11.5-8l-0.7,1.4z"/>
<path fill="#f9fb15" stroke="#e0e112" d="M280.3,44.7l1.3,0.7l-6.9-0.4l-1.3-1z"/>
<path fill="#8fcb4e" stroke="#79ac42" d="M290.7,51.7l0.3,0.1l-7.8-5.5l-0.2-0.1z"/>
<path fill="#4758f8" stroke="#2a3494" d="M337.5,79.9l0.7-1.2l-8.6-5.9l-0.6,1z"/>
<path fill="#2cc4a7" stroke="#1a7564" d="M299.8,56.9l0.4-0.1l-7.9-4.7l-0.3-0.1z"/>
<path fill="#23a0e5" stroke="#156089" d="M309.2,64.5l0.5-0.4l-8.3-7.5l-0.4,0.1z"/>
<path fill="#2f81fa" stroke="#1c4d96" d="M318.4,70.7l0.6-0.7l-8.4-6.7l-0.5,0.4z"/>
<path fill="#4269fe" stroke="#273f98" d="M327.8,75.8l0.6-1l-8.4-6.2l-0.5,0.7z"/>
<path fill="#9dc943" stroke="#85aa38" d="M290.3,51.6l0.4,0.1l-7.7-5.5l-0.3-0.2z"/>
<path fill="#4747eb" stroke="#2a2a8d" d="M346.8,85.9l0.7-1.5l-8.7-7l-0.6,1.3z"/>
<path fill="#422ec0" stroke="#271b73" d="M358.8,92.9l0.8-1.7l-11.4-8.3l-0.7,1.5z"/>
<path fill="#31c69f" stroke="#1d765f" d="M299.4,56.9l0.4,0l-7.8-4.9l-0.3,0z"/>
<path fill="#abc739" stroke="#91a930" d="M290,51.5l0.3,0.1l-7.6-5.6l-0.3-0.1z"/>
<path fill="#4758f8" stroke="#2a3494" d="M336.9,81.2l0.6-1.3l-8.5-6.1l-0.6,1z"/>
<path fill="#23a0e5" stroke="#156089" d="M308.8,64.8l0.4-0.3l-8.2-7.8l-0.4,0z"/>
<path fill="#2f81fa" stroke="#1c4d96" d="M317.9,71.4l0.5-0.7l-8.3-7l-0.4,0.4z"/>
<path fill="#4269fe" stroke="#273f98" d="M327.3,76.8l0.5-1l-8.3-6.5l-0.5,0.7z"/>
<path fill="#4741e5" stroke="#2a2789" d="M346.1,87.3l0.7-1.4l-8.6-7.2l-0.7,1.2z"/>
<path fill="#422ec0" stroke="#271b73" d="M358.1,94.6l0.7-1.7l-11.3-8.5l-0.7,1.5z"/>
<path fill="#37c897" stroke="#21785a" d="M299,57l0.4-0.1l-7.7-4.9l-0.4-0.1z"/>
<path fill="#abc739" stroke="#91a930" d="M289.6,51.4l0.4,0.1l-7.6-5.6l-0.3-0.2z"/>
<path fill="#20a5e3" stroke="#136388" d="M308.3,65.2l0.5-0.4l-8.2-8.1l-0.4,0.1z"/>
<path fill="#2e87f7" stroke="#1b5194" d="M317.4,72.1l0.5-0.7l-8.2-7.3l-0.5,0.4z"/>
<path fill="#4758f8" stroke="#2a3494" d="M336.2,82.4l0.7-1.2l-8.5-6.4l-0.6,1z"/>
<path fill="#4269fe" stroke="#273f98" d="M326.7,77.8l0.6-1l-8.3-6.8l-0.6,0.7z"/>
<path fill="#b9c431" stroke="#9da629" d="M289.3,51.4l0.3,0l-7.5-5.7l-0.3-0.2z"/>
<path fill="#4741e5" stroke="#2a2789" d="M345.4,88.8l0.7-1.5l-8.6-7.4l-0.6,1.3z"/>
<path fill="#4acb84" stroke="#2c794f" d="M298.6,57l0.4,0l-7.7-5.1l-0.3-0.1z"/>
<path fill="#422ec0" stroke="#271b73" d="M357.3,96.3l0.8-1.7l-11.3-8.7l-0.7,1.4z"/>
<path fill="#1ca9df" stroke="#106585" d="M307.8,65.6l0.5-0.4l-8.1-8.4l-0.4,0.1z"/>
<path fill="#2e87f7" stroke="#1b5194" d="M316.9,72.8l0.5-0.7l-8.2-7.6l-0.4,0.3z"/>
<path fill="#4852f4" stroke="#2b3192" d="M335.6,83.7l0.6-1.3l-8.4-6.6l-0.5,1z"/>
<path fill="#4269fe" stroke="#273f98" d="M326.1,78.8l0.6-1l-8.3-7.1l-0.5,0.7z"/>
<path fill="#c5c22a" stroke="#a7a423" d="M289,51.3l0.3,0.1l-7.5-5.9l-0.2-0.1z"/>
<path fill="#57cc7a" stroke="#347a49" d="M298.2,57.1l0.4-0.1l-7.6-5.2l-0.3-0.1z"/>
<path fill="#4741e5" stroke="#2a2789" d="M344.7,90.2l0.7-1.4l-8.5-7.6l-0.7,1.2z"/>
<path fill="#1ca9df" stroke="#106585" d="M307.4,66l0.4-0.4l-8-8.7l-0.4,0z"/>
<path fill="#422ec0" stroke="#271b73" d="M356.5,98l0.8-1.7l-11.2-9l-0.7,1.5z"/>
<path fill="#2d8cf3" stroke="#1b5491" d="M316.3,73.5l0.6-0.7l-8.1-8l-0.5,0.4z"/>
<path fill="#4269fe" stroke="#273f98" d="M325.5,79.8l0.6-1l-8.2-7.4l-0.5,0.7z"/>
<path fill="#4852f4" stroke="#2b3192" d="M334.9,85l0.7-1.3l-8.3-6.9l-0.6,1z"/>
<path fill="#64cd6f" stroke="#3c7b42" d="M297.8,57.2l0.4-0.1l-7.5-5.4l-0.4-0.1z"/>
<path fill="#4741e5" stroke="#2a2789" d="M343.9,91.7l0.8-1.5l-8.5-7.8l-0.6,1.3z"/>
<path fill="#18addb" stroke="#0e6783" d="M306.9,66.3l0.5-0.3l-8-9.1l-0.4,0.1z"/>
<path fill="#2d8cf3" stroke="#1b5491" d="M315.8,74.2l0.5-0.7l-8-8.3l-0.5,0.4z"/>
<path fill="#3e6fff" stroke="#254299" d="M324.9,80.8l0.6-1l-8.1-7.7l-0.5,0.7z"/>
<path fill="#422ec0" stroke="#271b73" d="M355.7,99.7l0.8-1.7l-11.1-9.2l-0.7,1.4z"/>
<path fill="#4852f4" stroke="#2b3192" d="M334.3,86.2l0.6-1.2l-8.2-7.2l-0.6,1z"/>
<path fill="#72cd64" stroke="#447b3c" d="M297.4,57.2l0.4,0l-7.5-5.6l-0.3-0.1z"/>
<path fill="#dcbd29" stroke="#c6aa24" d="M287.7,51l1.3,0.3l-7.4-5.9l-1.3-0.7z"/>
<path fill="#18addb" stroke="#0e6783" d="M306.4,66.7l0.5-0.4l-7.9-9.3l-0.4,0z"/>
<path fill="#4741e5" stroke="#2a2789" d="M343.2,93.2l0.7-1.5l-8.3-8l-0.7,1.3z"/>
<path fill="#2d8cf3" stroke="#1b5491" d="M315.3,74.9l0.5-0.7l-8-8.6l-0.4,0.4z"/>
<path fill="#3e6fff" stroke="#254299" d="M324.3,81.8l0.6-1l-8-8l-0.6,0.7z"/>
<path fill="#81cc59" stroke="#4d7a35" d="M297,57.3l0.4-0.1l-7.4-5.7l-0.4-0.1z"/>
<path fill="#4852f4" stroke="#2b3192" d="M333.6,87.5l0.7-1.3l-8.2-7.4l-0.6,1z"/>
<path fill="#422ec0" stroke="#271b73" d="M354.9,101.4l0.8-1.7l-11-9.5l-0.8,1.5z"/>
<path fill="#12b1d6" stroke="#0a6a80" d="M306,67.1l0.4-0.4l-7.8-9.7l-0.4,0.1z"/>
<path fill="#2b91ef" stroke="#19578f" d="M314.8,75.6l0.5-0.7l-7.9-8.9l-0.5,0.3z"/>
<path fill="#4741e5" stroke="#2a2789" d="M342.5,94.6l0.7-1.4l-8.3-8.2l-0.6,1.2z"/>
<path fill="#8fcb4e" stroke="#55792e" d="M296.6,57.3l0.4,0l-7.4-5.9l-0.3,0z"/>
<path fill="#3e6fff" stroke="#254299" d="M323.7,82.8l0.6-1l-8-8.3l-0.5,0.7z"/>
<path fill="#4852f4" stroke="#2b3192" d="M333,88.7l0.6-1.2l-8.1-7.7l-0.6,1z"/>
<path fill="#422ec0" stroke="#271b73" d="M354.2,103.1l0.7-1.7l-11-9.7l-0.7,1.5z"/>
<path fill="#08b5d0" stroke="#046c7c" d="M305.5,67.5l0.5-0.4l-7.8-10l-0.4,0.1z"/>
<path fill="#2b91ef" stroke="#19578f" d="M314.2,76.3l0.6-0.7l-7.9-9.3l-0.5,0.4z"/>
<path fill="#9dc943" stroke="#5e7828" d="M296.2,57.4l0.4-0.1l-7.3-5.9l-0.3-0.1z"/>
<path fill="#4741e5" stroke="#2a2789" d="M341.8,96.1l0.7-1.5l-8.2-8.4l-0.7,1.3z"/>
<path fill="#3e6fff" stroke="#254299" d="M323.2,83.8l0.5-1l-7.9-8.6l-0.5,0.7z"/>
<path fill="#4852f4" stroke="#2b3192" d="M332.3,90l0.7-1.3l-8.1-7.9l-0.6,1z"/>
<path fill="#422ec0" stroke="#271b73" d="M353.4,104.8l0.8-1.7l-11-9.9l-0.7,1.4z"/>
<path fill="#08b5d0" stroke="#046c7c" d="M305,67.8l0.5-0.3l-7.7-10.3l-0.4,0z"/>
<path fill="#2b91ef" stroke="#19578f" d="M313.7,76.9l0.5-0.6l-7.8-9.6l-0.4,0.4z"/>
<path fill="#3e6fff" stroke="#254299" d="M322.6,84.8l0.6-1l-7.9-8.9l-0.5,0.7z"/>
<path fill="#4741e5" stroke="#2a2789" d="M341.1,97.6l0.7-1.5l-8.2-8.6l-0.6,1.2z"/>
<path fill="#4852f4" stroke="#2b3192" d="M331.7,91.2l0.6-1.2l-8-8.2l-0.6,1z"/>
<path fill="#01b8ca" stroke="#006e79" d="M304.6,68.2l0.4-0.4l-7.6-10.6l-0.4,0.1z"/>
<path fill="#422ec0" stroke="#271b73" d="M352.6,106.5l0.8-1.7l-10.9-10.2l-0.7,1.5z"/>
<path fill="#2797eb" stroke="#175a8d" d="M313.2,77.6l0.5-0.7l-7.7-9.8l-0.5,0.4z"/>
<path fill="#c5c22a" stroke="#b1ae25" d="M294.9,57.6l1.3-0.2l-7.2-6.1l-1.3-0.3z"/>
<path fill="#3e6fff" stroke="#254299" d="M322,85.8l0.6-1l-7.8-9.2l-0.6,0.7z"/>
<path fill="#463cde" stroke="#2a2485" d="M340.4,99l0.7-1.4l-8.1-8.9l-0.7,1.3z"/>
<path fill="#4852f4" stroke="#2b3192" d="M331,92.5l0.7-1.3l-8-8.4l-0.5,1z"/>
<path fill="#01b8ca" stroke="#006e79" d="M304.1,68.6l0.5-0.4l-7.6-10.9l-0.4,0z"/>
<path fill="#2797eb" stroke="#175a8d" d="M312.7,78.3l0.5-0.7l-7.7-10.1l-0.5,0.3z"/>
<path fill="#422ec0" stroke="#271b73" d="M351.8,108.2l0.8-1.7l-10.8-10.4l-0.7,1.5z"/>
<path fill="#3e6fff" stroke="#254299" d="M321.4,86.8l0.6-1l-7.8-9.5l-0.5,0.6z"/>
<path fill="#463cde" stroke="#2a2485" d="M339.7,100.5l0.7-1.5l-8.1-9l-0.6,1.2z"/>
<path fill="#4852f4" stroke="#2b3192" d="M330.4,93.7l0.6-1.2l-7.8-8.7l-0.6,1z"/>
<path fill="#02bac3" stroke="#016f75" d="M303.7,69l0.4-0.4l-7.5-11.3l-0.4,0.1z"/>
<path fill="#2797eb" stroke="#175a8d" d="M312.1,79l0.6-0.7l-7.7-10.5l-0.4,0.4z"/>
<path fill="#422ec0" stroke="#271b73" d="M351.1,109.9l0.7-1.7l-10.7-10.6l-0.7,1.4z"/>
<path fill="#3875fe" stroke="#214698" d="M320.8,87.8l0.6-1l-7.7-9.9l-0.5,0.7z"/>
<path fill="#463cde" stroke="#2a2485" d="M339,102l0.7-1.5l-8-9.3l-0.7,1.3z"/>
<path fill="#4852f4" stroke="#2b3192" d="M329.7,95l0.7-1.3l-7.8-8.9l-0.6,1z"/>
<path fill="#259be8" stroke="#165d8b" d="M311.6,79.7l0.5-0.7l-7.5-10.8l-0.5,0.4z"/>
<path fill="#3875fe" stroke="#214698" d="M320.2,88.8l0.6-1l-7.6-10.2l-0.5,0.7z"/>
<path fill="#422ec0" stroke="#271b73" d="M350.3,111.6l0.8-1.7l-10.7-10.9l-0.7,1.5z"/>
<path fill="#19bfb6" stroke="#16aba3" d="M302.4,70l1.3-1l-7.5-11.6l-1.3,0.2z"/>
<path fill="#4852f4" stroke="#2b3192" d="M329.1,96.3l0.6-1.3l-7.7-9.2l-0.6,1z"/>
<path fill="#463cde" stroke="#2a2485" d="M338.3,103.4l0.7-1.4l-8-9.5l-0.6,1.2z"/>
<path fill="#259be8" stroke="#165d8b" d="M311.1,80.4l0.5-0.7l-7.5-11.1l-0.4,0.4z"/>
<path fill="#3875fe" stroke="#214698" d="M319.6,89.8l0.6-1l-7.5-10.5l-0.6,0.7z"/>
<path fill="#422ec0" stroke="#271b73" d="M349.5,113.3l0.8-1.7l-10.6-11.1l-0.7,1.5z"/>
<path fill="#4852f4" stroke="#2b3192" d="M328.4,97.5l0.7-1.2l-7.7-9.5l-0.6,1z"/>
<path fill="#463cde" stroke="#2a2485" d="M337.6,104.9l0.7-1.5l-7.9-9.7l-0.7,1.3z"/>
<path fill="#3875fe" stroke="#214698" d="M319,90.8l0.6-1l-7.5-10.8l-0.5,0.7z"/>
<path fill="#23a0e5" stroke="#1f90ce" d="M309.8,82.1l1.3-1.7l-7.4-11.4l-1.3,1z"/>
<path fill="#4852f4" stroke="#2b3192" d="M327.8,98.8l0.6-1.3l-7.6-9.7l-0.6,1z"/>
<path fill="#422ec0" stroke="#271b73" d="M348.7,115l0.8-1.7l-10.5-11.3l-0.7,1.4z"/>
<path fill="#463cde" stroke="#2a2485" d="M336.9,106.3l0.7-1.4l-7.9-9.9l-0.6,1.3z"/>
<path fill="#3875fe" stroke="#214698" d="M318.5,91.8l0.5-1l-7.4-11.1l-0.5,0.7z"/>
<path fill="#4852f4" stroke="#2b3192" d="M327.1,100l0.7-1.2l-7.6-10l-0.6,1z"/>
<path fill="#422ec0" stroke="#271b73" d="M347.9,116.7l0.8-1.7l-10.4-11.6l-0.7,1.5z"/>
<path fill="#463cde" stroke="#2a2485" d="M336.2,107.8l0.7-1.5l-7.8-10l-0.7,1.2z"/>
<path fill="#4852f4" stroke="#2b3192" d="M326.5,101.3l0.6-1.3l-7.5-10.2l-0.6,1z"/>
<path fill="#3875fe" stroke="#3269e4" d="M317.2,93.9l1.3-2.1l-7.4-11.4l-1.3,1.7z"/>
<path fill="#463cde" stroke="#2a2485" d="M335.4,109.3l0.8-1.5l-7.8-10.3l-0.6,1.3z"/>
<path fill="#422ec0" stroke="#271b73" d="M347.2,118.4l0.7-1.7l-10.3-11.8l-0.7,1.4z"/>
<path fill="#4852f4" stroke="#2b3192" d="M325.8,102.5l0.7-1.2l-7.5-10.5l-0.5,1z"/>
<path fill="#4537d5" stroke="#29217f" d="M334.7,110.7l0.7-1.4l-7.6-10.5l-0.7,1.2z"/>
<path fill="#422ec0" stroke="#271b73" d="M346.4,120.1l0.8-1.7l-10.3-12.1l-0.7,1.5z"/>
<path fill="#4537d5" stroke="#29217f" d="M334,112.2l0.7-1.5l-7.6-10.7l-0.6,1.3z"/>
<path fill="#422ec0" stroke="#271b73" d="M345.6,121.8l0.8-1.7l-10.2-12.3l-0.8,1.5z"/>
<path fill="#4852f4" stroke="#4049db" d="M324.5,105l1.3-2.5l-7.3-10.7l-1.3,2.1z"/>
<path fill="#4537d5" stroke="#29217f" d="M333.3,113.7l0.7-1.5l-7.5-10.9l-0.7,1.2z"/>
<path fill="#422ec0" stroke="#271b73" d="M344.8,123.5l0.8-1.7l-10.2-12.5l-0.7,1.4zM344.1,125.2l0.7-1.7l-10.1-12.8l-0.7,1.5z"/>
<path fill="#4537d5" stroke="#3e31bf" d="M332,116.3l1.3-2.6l-7.5-11.2l-1.3,2.5z"/>
<path fill="#422ec0" stroke="#271b73" d="M343.3,126.9l0.8-1.7l-10.1-13l-0.7,1.5z"/>
<path fill="#422ec0" stroke="#3b29ac" d="M342,129.7l1.3-2.8l-10-13.2l-1.3,2.6z"/>
</g>
<path fill="none" stroke="#000" stroke-opacity="0.45" stroke-width="0.3" d="M342,129.7l1.3-2.8l0.8-1.7l0.7-1.7l0.8-1.7l0.8-1.7l0.8-1.7l0.7-1.7l0.8-1.7l0.8-1.7l0.8-1.7l0.8-1.7l0.7-1.7l0.8-1.7l0.8-1.7l0.8-1.7l0.7-1.7l0.8-1.7l0.8-1.7l0.8-1.7l0.8-1.7l0.7-1.7l0.8-1.7l0.8-1.7l0.8-1.7l0.7-1.7l0.8-1.7l0.8-1.7l0.8-1.8l0.8-1.7l0.7-1.7l0.8-1.7l0.8-1.7l0.8-1.7l0.7-1.7l0.8-1.7l0.8-1.7M332,116.3l1.3-2.6l0.7-1.5l0.7-1.5l0.7-1.4l0.8-1.5l0.7-1.5l0.7-1.4l0.7-1.5l0.7-1.4l0.7-1.5l0.7-1.5l0.7-1.4l0.7-1.5l0.7-1.5l0.7-1.4l0.7-1.5l0.8-1.5l0.7-1.4l0.7-1.5l0.7-1.4l0.7-1.5l0.7-1.5l0.7-1.4l0.7-1.5l0.7-1.5l0.7-1.4l0.7-1.5l0.7-1.5l0.8-1.4l0.7-1.5l0.7-1.4l0.7-1.5l0.7-1.5l0.7-1.4l0.7-1.5l0.7-1.5M324.5,105l1.3-2.5l0.7-1.2l0.6-1.3l0.7-1.2l0.6-1.3l0.7-1.2l0.6-1.3l0.7-1.3l0.6-1.2l0.7-1.3l0.6-1.2l0.7-1.3l0.6-1.2l0.7-1.3l0.6-1.2l0.7-1.3l0.6-1.3l0.7-1.2l0.6-1.3l0.7-1.2l0.6-1.3l0.7-1.2l0.6-1.3l0.7-1.2l0.6-1.3l0.7-1.3l0.6-1.2l0.7-1.3l0.6-1.2l0.7-1.3l0.6-1.2l0.7-1.3l0.6-1.2l0.7-1.3l0.6-1.3l0.7-1.2M317.2,93.9l1.3-2.1l0.5-1l0.6-1l0.6-1l0.6-1l0.6-1l0.6-1l0.6-1l0.6-1l0.5-1l0.6-1l0.6-1l0.6-1l0.6-1l0.6-1l0.6-1l0.5-1l0.6-1l0.6-1l0.6-1l0.6-1l0.6-1l0.6-1l0.6-1l0.5-1l0.6-1l0.6-0.9l0.6-1l0.6-1l0.6-1l0.6-1l0.6-1l0.5-1l0.6-1l0.6-1l0.6-1M309.8,82.1l1.3-1.7l0.5-0.7l0.5-0.7l0.6-0.7l0.5-0.7l0.5-0.7l0.5-0.6l0.6-0.7l0.5-0.7l0.5-0.7l0.5-0.7l0.6-0.7l0.5-0.7l0.5-0.7l0.5-0.7l0.6-0.7l0.5-0.7l0.5-0.7l0.5-0.7l0.6-0.7l0.5-0.7l0.5-0.7l0.5-0.7l0.6-0.7l0.5-0.7l0.5-0.7l0.5-0.7l0.6-0.7l0.5-0.7l0.5-0.7l0.5-0.6l0.5-0.7l0.6-0.7l0.5-0.7l0.5-0.7l0.5-0.7M302.4,70l1.3-1l0.4-0.4l0.5-0.4l0.4-0.4l0.5-0.3l0.5-0.4l0.4-0.4l0.5-0.4l0.5-0.3l0.4-0.4l0.5-0.4l0.5-0.4l0.4-0.3l0.5-0.4l0.4-0.4l0.5-0.4l0.5-0.3l0.4-0.4l0.5-0.4l0.5-0.4l0.4-0.3l0.5-0.4l0.5-0.4l0.4-0.4l0.5-0.3l0.5-0.4l0.4-0.4l0.5-0.4l0.4-0.3l0.5-0.4l0.5-0.4l0.4-0.4l0.5-0.3l0.5-0.4l0.4-0.4l0.5-0.4M294.9,57.6l1.3-0.2l0.4-0.1l0.4,0l0.4-0.1l0.4,0l0.4-0.1l0.4-0.1l0.4,0l0.4-0.1l0.4,0l0.4-0.1l0.4-0.1l0.4,0l0.4-0.1l0.4-0.1l0.4,0l0.5-0.1l0.4,0l0.4-0.1l0.4-0.1l0.4,0l0.4-0.1l0.4,0l0.4-0.1l0.4-0.1l0.4,0l0.4-0.1l0.4-0.1l0.4,0l0.4-0.1l0.4,0l0.4-0.1l0.4-0.1l0.4,0l0.4-0.1l0.4,0M287.7,51l1.3,0.3l0.3,0.1l0.3,0l0.4,0.1l0.3,0.1l0.4,0.1l0.3,0.1l0.3,0.1l0.4,0.1l0.3,0l0.3,0.1l0.4,0.1l0.3,0.1l0.4,0.1l0.3,0.1l0.3,0l0.4,0.1l0.3,0.1l0.3,0.1l0.4,0.1l0.3,0.1l0.4,0.1l0.3,0l0.3,0.1l0.4,0.1l0.3,0.1l0.3,0.1l0.4,0.1l0.3,0l0.4,0.1l0.3,0.1l0.3,0.1l0.4,0.1l0.3,0.1l0.3,0.1l0.4,0M280.3,44.7l1.3,0.7l0.2,0.1l0.3,0.2l0.3,0.2l0.3,0.1l0.3,0.2l0.2,0.1l0.3,0.2l0.3,0.1l0.3,0.2l0.2,0.1l0.3,0.2l0.3,0.1l0.3,0.2l0.2,0.1l0.3,0.2l0.3,0.2l0.3,0.1l0.2,0.2l0.3,0.1l0.3,0.2l0.3,0.1l0.2,0.2l0.3,0.1l0.3,0.2l0.3,0.1l0.2,0.2l0.3,0.2l0.3,0.1l0.3,0.2l0.2,0.1l0.3,0.2l0.3,0.1l0.3,0.2l0.2,0.1l0.3,0.2M273.4,44l1.3,1l0.2,0.2l0.2,0.2l0.2,0.1l0.2,0.2l0.2,0.2l0.2,0.1l0.2,0.2l0.2,0.2l0.2,0.1l0.2,0.2l0.2,0.2l0.2,0.1l0.2,0.2l0.2,0.2l0.2,0.1l0.2,0.2l0.2,0.2l0.2,0.1l0.2,0.2l0.2,0.2l0.2,0.1l0.2,0.2l0.2,0.2l0.2,0.1l0.2,0.2l0.2,0.2l0.3,0.1l0.2,0.2l0.2,0.2l0.2,0.1l0.2,0.2l0.2,0.2l0.2,0.1l0.2,0.2l0.2,0.2M266.8,48.7l1.3,0.6l0.1,0.1l0.1,0l0.2,0.1l0.1,0l0.1,0.1l0.1,0l0.1,0.1l0.1,0l0.2,0.1l0.1,0.1l0.1,0l0.1,0.1l0.1,0l0.2,0.1l0.1,0l0.1,0.1l0.1,0.1l0.1,0l0.1,0.1l0.2,0l0.1,0.1l0.1,0l0.1,0.1l0.1,0l0.1,0.1l0.2,0.1l0.1,0l0.1,0.1l0.1,0l0.1,0.1l0.2,0l0.1,0.1l0.1,0.1l0.1,0l0.1,0.1M263.2,53.3l0.7-0.2l0,0l0.1,0l0,0l0.1,0l0,0l0.1-0.1l0,0l0.1,0l0,0l0.1,0l0,0l0.1,0l0,0l0,0l0.1-0.1l0,0l0.1,0l0,0l0.1,0l0,0l0.1,0l0,0l0.1-0.1l0,0l0,0l0.1,0l0,0l0.1,0l0,0l0.1,0l0-0.1l0.1,0l0,0l0.1,0l0,0"/>
<text x="285" y="138.2" font-size="5.4" text-anchor="middle" font-family="Liberation Serif, serif" fill="#333" fill-opacity="0.8" transform="rotate(9 285 136.5)"><tspan font-style="italic">y</tspan>/<tspan font-style="italic">s</tspan><tspan font-size="3.8" dy="1">m</tspan></text>
<text x="371" y="120.2" font-size="5.4" text-anchor="middle" font-family="Liberation Serif, serif" fill="#333" fill-opacity="0.8"><tspan font-style="italic">x</tspan>/<tspan font-style="italic">c</tspan><tspan font-size="4" dy="1">r,m</tspan></text>
<text x="223.3" y="102.2" font-size="5.4" text-anchor="middle" font-family="Liberation Serif, serif" fill="#333" fill-opacity="0.8" transform="rotate(-90 223.3 100.7)">ε<tspan font-size="4" dy="1">mode 1</tspan></text>
<rect x="385.7" y="9.7" width="6.4" height="120.3" fill="url(#par)" stroke="#999" stroke-width="0.3"/>
<text x="393.6" y="127.3" font-size="5.0" text-anchor="start" font-family="Liberation Serif, serif" fill="#333" >0</text>
<text x="393.6" y="107.6" font-size="5.0" text-anchor="start" font-family="Liberation Serif, serif" fill="#333" >0.5</text>
<text x="393.6" y="87.8" font-size="5.0" text-anchor="start" font-family="Liberation Serif, serif" fill="#333" >1</text>
<text x="393.6" y="68" font-size="5.0" text-anchor="start" font-family="Liberation Serif, serif" fill="#333" >1.5</text>
<text x="393.6" y="48.2" font-size="5.0" text-anchor="start" font-family="Liberation Serif, serif" fill="#333" >2</text>
<text x="393.6" y="28.4" font-size="5.0" text-anchor="start" font-family="Liberation Serif, serif" fill="#333" >2.5</text>
<text x="382" y="6.3" font-size="4.2" text-anchor="middle" font-family="Liberation Serif, serif" fill="#333" >×10<tspan font-size="3" dy="-1.6">−3</tspan></text>
<text x="248.7" y="162.5" font-size="10.3" font-family="Liberation Serif, serif" fill="#1a1a1a" stroke="#1a1a1a" stroke-width="0.14" textLength="125" lengthAdjust="spacingAndGlyphs">(<tspan font-weight="bold">b</tspan>) Deviation of the first mode</text>
<path stroke="#e2e2e2" stroke-width="0.45" fill="none" d="M131.1,322.2L29.9,305.7L29.9,264.3M136.5,309.6L35.3,293.1L35.3,251.7M141.9,297L40.7,280.5L40.7,239.1M147.3,284.4L46.1,267.9L46.1,226.5M152.7,271.8L51.5,255.3L51.5,213.9M158.1,259.2L56.9,242.7L56.9,201.3M131.1,322.2L158.1,259.2L158.1,217.8M110.9,318.9L137.9,255.9L137.9,214.5M90.6,315.6L117.6,252.6L117.6,211.2M70.4,312.3L97.4,249.3L97.4,207.9M50.1,309L77.1,246L77.1,204.6M29.9,305.7L56.9,242.7L56.9,201.3M29.9,300.4L56.9,237.4L158.1,253.9M29.9,288.4L56.9,225.4L158.1,241.9M29.9,276.4L56.9,213.4L158.1,229.9M29.9,264.3L56.9,201.3L158.1,217.8"/>
<path stroke="#999" stroke-width="0.55" fill="none" d="M158.1,259.2L131.1,322.2L29.9,305.7M131.1,322.2L131.7,320.7M110.9,318.9L111.5,317.4M90.6,315.6L91.3,314.1M70.4,312.3L71,310.8M50.1,309L50.8,307.5M29.9,305.7L30.5,304.2M131.1,322.2L129.5,321.9M136.5,309.6L134.9,309.3M141.9,297L140.3,296.7M147.3,284.4L145.7,284.1M152.7,271.8L151.1,271.5M158.1,259.2L156.5,258.9"/>
<text x="129.6" y="329.6" font-size="5.0" text-anchor="middle" font-family="Liberation Serif, serif" fill="#333" >0</text>
<text x="109.4" y="326.3" font-size="5.0" text-anchor="middle" font-family="Liberation Serif, serif" fill="#333" >0.2</text>
<text x="89.1" y="323" font-size="5.0" text-anchor="middle" font-family="Liberation Serif, serif" fill="#333" >0.4</text>
<text x="68.9" y="319.7" font-size="5.0" text-anchor="middle" font-family="Liberation Serif, serif" fill="#333" >0.6</text>
<text x="48.6" y="316.4" font-size="5.0" text-anchor="middle" font-family="Liberation Serif, serif" fill="#333" >0.8</text>
<text x="28.4" y="313.1" font-size="5.0" text-anchor="middle" font-family="Liberation Serif, serif" fill="#333" >1</text>
<text x="137.4" y="328.4" font-size="5.0" text-anchor="middle" font-family="Liberation Serif, serif" fill="#333" >0</text>
<text x="142.8" y="315.8" font-size="5.0" text-anchor="middle" font-family="Liberation Serif, serif" fill="#333" >0.2</text>
<text x="148.2" y="303.2" font-size="5.0" text-anchor="middle" font-family="Liberation Serif, serif" fill="#333" >0.4</text>
<text x="153.6" y="290.6" font-size="5.0" text-anchor="middle" font-family="Liberation Serif, serif" fill="#333" >0.6</text>
<text x="159" y="278" font-size="5.0" text-anchor="middle" font-family="Liberation Serif, serif" fill="#333" >0.8</text>
<text x="164.4" y="265.4" font-size="5.0" text-anchor="middle" font-family="Liberation Serif, serif" fill="#333" >1</text>
<text x="26.6" y="303.4" font-size="5.0" text-anchor="end" font-family="Liberation Serif, serif" fill="#333" >−0.5</text>
<text x="26.6" y="291.4" font-size="5.0" text-anchor="end" font-family="Liberation Serif, serif" fill="#333" >0</text>
<text x="26.6" y="279.4" font-size="5.0" text-anchor="end" font-family="Liberation Serif, serif" fill="#333" >0.5</text>
<text x="26.6" y="267.3" font-size="5.0" text-anchor="end" font-family="Liberation Serif, serif" fill="#333" >1</text>
<g stroke-width="0.3">
<path fill="#12b1d6" stroke="#0a667c" d="M99.6,231.5l0.5-1.3l-9.2-4.1l-0.4,1.3z"/>
<path fill="#01b8ca" stroke="#006a75" d="M90.5,227.4l0.4-1.3l-9.2-4.8l-0.3,1.2z"/>
<path fill="#1ca9df" stroke="#106281" d="M108.8,235l0.5-1.4l-9.2-3.4l-0.5,1.3z"/>
<path fill="#31c69f" stroke="#1c725c" d="M81.4,222.5l0.3-1.2l-9.1-5.2l-0.3,0.9z"/>
<path fill="#01b8ca" stroke="#006a75" d="M90.1,228.7l0.4-1.3l-9.1-4.9l-0.4,1.2z"/>
<path fill="#12b1d6" stroke="#0a667c" d="M99.1,232.9l0.5-1.4l-9.1-4.1l-0.4,1.3z"/>
<path fill="#20a5e3" stroke="#125f83" d="M117.9,237.7l0.6-1.4l-9.2-2.7l-0.5,1.4z"/>
<path fill="#31c69f" stroke="#1c725c" d="M81,223.7l0.4-1.2l-9.1-5.5l-0.2,0.9z"/>
<path fill="#1ca9df" stroke="#106281" d="M108.2,236.3l0.6-1.3l-9.2-3.5l-0.5,1.4z"/>
<path fill="#08b5d0" stroke="#046878" d="M89.7,230l0.4-1.3l-9.1-5l-0.3,1.3z"/>
<path fill="#2cc4a7" stroke="#197160" d="M80.7,225l0.3-1.3l-8.9-5.8l-0.3,0.8z"/>
<path fill="#18addb" stroke="#0d647f" d="M98.6,234.2l0.5-1.3l-9-4.2l-0.4,1.3z"/>
<path fill="#d1bf27" stroke="#796e16" d="M72.3,217l0.3-0.9l-9.2-7l-0.2,0.5z"/>
<path fill="#20a5e3" stroke="#125f83" d="M127,239.6l0.7-1.5l-9.2-1.8l-0.6,1.4z"/>
<path fill="#08b5d0" stroke="#046878" d="M89.2,231.3l0.5-1.3l-9-5l-0.4,1.2z"/>
<path fill="#2cc4a7" stroke="#197160" d="M80.3,226.2l0.4-1.2l-8.9-6.3l-0.2,0.9z"/>
<path fill="#c5c22a" stroke="#727018" d="M72.1,217.9l0.2-0.9l-9.1-7.4l-0.1,0.6z"/>
<path fill="#20a5e3" stroke="#125f83" d="M117.2,239.1l0.7-1.4l-9.1-2.7l-0.6,1.3z"/>
<path fill="#24c1ae" stroke="#146f64" d="M80,227.4l0.3-1.2l-8.7-6.6l-0.3,0.9z"/>
<path fill="#20a5e3" stroke="#125f83" d="M107.6,237.7l0.6-1.4l-9.1-3.4l-0.5,1.3z"/>
<path fill="#c5c22a" stroke="#727018" d="M71.8,218.7l0.3-0.8l-9-7.7l-0.2,0.5z"/>
<path fill="#18addb" stroke="#0d647f" d="M98.1,235.6l0.5-1.4l-8.9-4.2l-0.5,1.3z"/>
<path fill="#12b1d6" stroke="#0a667c" d="M88.8,232.6l0.4-1.3l-8.9-5.1l-0.3,1.2z"/>
<path fill="#b9c431" stroke="#6b711c" d="M71.6,219.6l0.2-0.9l-8.9-8l-0.1,0.5z"/>
<path fill="#24c1ae" stroke="#146f64" d="M79.7,228.6l0.3-1.2l-8.7-6.9l-0.2,0.9z"/>
<path fill="#abc739" stroke="#637321" d="M71.3,220.5l0.3-0.9l-8.8-8.4l-0.1,0.5z"/>
<path fill="#12b1d6" stroke="#0a667c" d="M88.4,233.9l0.4-1.3l-8.8-5.2l-0.3,1.2z"/>
<path fill="#24c1ae" stroke="#146f64" d="M79.3,229.8l0.4-1.2l-8.6-7.2l-0.3,0.9z"/>
<path fill="#abc739" stroke="#637321" d="M71.1,221.4l0.2-0.9l-8.6-8.8l-0.2,0.6z"/>
<path fill="#1ca9df" stroke="#106281" d="M97.6,236.9l0.5-1.3l-8.9-4.3l-0.4,1.3z"/>
<path fill="#20a5e3" stroke="#125f83" d="M136.2,241l0.7-1.6l-9.2-1.3l-0.7,1.5zM107,239l0.6-1.3l-9-3.5l-0.5,1.4zM126.3,241l0.7-1.4l-9.1-1.9l-0.7,1.4zM116.6,240.4l0.6-1.3l-9-2.8l-0.6,1.4z"/>
<path fill="#9dc943" stroke="#5b7426" d="M70.8,222.3l0.3-0.9l-8.6-9.1l-0.1,0.5z"/>
<path fill="#19bfb6" stroke="#0e6e69" d="M79,231l0.3-1.2l-8.5-7.5l-0.2,0.8z"/>
<path fill="#18addb" stroke="#0d647f" d="M88,235.2l0.4-1.3l-8.7-5.3l-0.4,1.2z"/>
<path fill="#fccf30" stroke="#92781b" d="M63.2,209.6l0.2-0.5l-6.5-6.7l-0.1,0.2z"/>
<path fill="#9dc943" stroke="#5b7426" d="M70.6,223.1l0.2-0.8l-8.4-9.5l-0.2,0.5z"/>
<path fill="#fccf30" stroke="#92781b" d="M63.1,210.2l0.1-0.6l-6.4-7l0,0.1z"/>
<path fill="#fec934" stroke="#93741e" d="M62.9,210.7l0.2-0.5l-6.3-7.5l-0.1,0.1z"/>
<path fill="#19bfb6" stroke="#0e6e69" d="M78.6,232.2l0.4-1.2l-8.4-7.9l-0.3,0.9z"/>
<path fill="#8fcb4e" stroke="#52752d" d="M70.3,224l0.3-0.9l-8.4-9.8l-0.1,0.5z"/>
<path fill="#1ca9df" stroke="#106281" d="M97.1,238.3l0.5-1.4l-8.8-4.3l-0.4,1.3z"/>
<path fill="#fec338" stroke="#937120" d="M62.8,211.2l0.1-0.5l-6.2-7.9l0,0.1z"/>
<path fill="#18addb" stroke="#0d647f" d="M87.6,236.6l0.4-1.4l-8.7-5.4l-0.3,1.2z"/>
<path fill="#8fcb4e" stroke="#52752d" d="M70.1,224.9l0.2-0.9l-8.2-10.2l-0.2,0.6z"/>
<path fill="#fec338" stroke="#937120" d="M62.7,211.7l0.1-0.5l-6.1-8.3l-0.1,0.1z"/>
<path fill="#19bfb6" stroke="#0e6e69" d="M78.3,233.4l0.3-1.2l-8.3-8.2l-0.2,0.9z"/>
<path fill="#20a5e3" stroke="#125f83" d="M106.5,240.4l0.5-1.4l-8.9-3.4l-0.5,1.3z"/>
<path fill="#febe3c" stroke="#936e22" d="M62.5,212.3l0.2-0.6l-6.1-8.7l0,0.1z"/>
<path fill="#81cc59" stroke="#4a7633" d="M69.8,225.8l0.3-0.9l-8.2-10.5l-0.1,0.5z"/>
<path fill="#febe3c" stroke="#936e22" d="M62.4,212.8l0.1-0.5l-5.9-9.2l-0.1,0.1z"/>
<path fill="#23a0e5" stroke="#145c84" d="M116,241.8l0.6-1.4l-9-2.7l-0.6,1.3z"/>
<path fill="#1ca9df" stroke="#106281" d="M87.2,237.9l0.4-1.3l-8.6-5.6l-0.4,1.2z"/>
<path fill="#f8ba3d" stroke="#8f6b23" d="M62.2,213.3l0.2-0.5l-5.9-9.6l0,0.1z"/>
<path fill="#20a5e3" stroke="#125f83" d="M96.6,239.6l0.5-1.3l-8.7-4.4l-0.4,1.3z"/>
<path fill="#72cd64" stroke="#42763a" d="M69.6,226.7l0.2-0.9l-8-10.9l-0.2,0.5z"/>
<path fill="#0bbdbd" stroke="#066d6d" d="M78,234.6l0.3-1.2l-8.2-8.5l-0.3,0.9z"/>
<path fill="#1ca9df" stroke="#106281" d="M145.3,242.4l0.9-1.9l-9.3-1.1l-0.7,1.6z"/>
<path fill="#23a0e5" stroke="#145c84" d="M125.6,242.4l0.7-1.4l-9.1-1.9l-0.6,1.3z"/>
<path fill="#f8ba3d" stroke="#8f6b23" d="M62.1,213.8l0.1-0.5l-5.7-10l-0.1,0.1z"/>
<path fill="#20a5e3" stroke="#125f83" d="M135.4,242.7l0.8-1.7l-9.2-1.4l-0.7,1.4z"/>
<path fill="#f0ba36" stroke="#8b6b1f" d="M61.9,214.4l0.2-0.6l-5.7-10.4l-0.1,0.1z"/>
<path fill="#72cd64" stroke="#42763a" d="M69.3,227.5l0.3-0.8l-8-11.3l-0.1,0.6z"/>
<path fill="#0bbdbd" stroke="#066d6d" d="M77.6,235.8l0.4-1.2l-8.2-8.8l-0.2,0.9z"/>
<path fill="#e6bb2d" stroke="#856c1a" d="M61.8,214.9l0.1-0.5l-5.6-10.9l0,0.1z"/>
<path fill="#1ca9df" stroke="#106281" d="M86.8,239.2l0.4-1.3l-8.6-5.7l-0.3,1.2z"/>
<path fill="#64cd6f" stroke="#3a7640" d="M69.1,228.4l0.2-0.9l-7.8-11.5l-0.1,0.5z"/>
<path fill="#e6bb2d" stroke="#856c1a" d="M61.6,215.4l0.2-0.5l-5.5-11.3l-0.1,0.1z"/>
<path fill="#23a0e5" stroke="#145c84" d="M105.9,241.8l0.6-1.4l-8.9-3.5l-0.5,1.4z"/>
<path fill="#dcbd29" stroke="#7f6d17" d="M61.5,216l0.1-0.6l-5.4-11.7l0,0.1z"/>
<path fill="#20a5e3" stroke="#125f83" d="M96.1,241l0.5-1.4l-8.6-4.4l-0.4,1.4z"/>
<path fill="#64cd6f" stroke="#3a7640" d="M68.8,229.3l0.3-0.9l-7.7-11.9l-0.2,0.5z"/>
<path fill="#02bac3" stroke="#016b71" d="M77.3,237l0.3-1.2l-8-9.1l-0.3,0.8z"/>
<path fill="#dcbd29" stroke="#7f6d17" d="M61.4,216.5l0.1-0.5l-5.3-12.2l-0.1,0.1z"/>
<path fill="#d1bf27" stroke="#796e16" d="M61.2,217l0.2-0.5l-5.3-12.6l0,0.2z"/>
<path fill="#20a5e3" stroke="#125f83" d="M86.3,240.5l0.5-1.3l-8.5-5.8l-0.3,1.2z"/>
<path fill="#57cc7a" stroke="#327646" d="M68.6,230.2l0.2-0.9l-7.6-12.3l-0.1,0.5z"/>
<path fill="#23a0e5" stroke="#145c84" d="M115.3,243.2l0.7-1.4l-9-2.8l-0.5,1.4z"/>
<path fill="#d1bf27" stroke="#796e16" d="M61.1,217.5l0.1-0.5l-5.1-12.9l-0.1,0.1z"/>
<path fill="#02bac3" stroke="#016b71" d="M77,238.2l0.3-1.2l-8-9.5l-0.2,0.9z"/>
<path fill="#4acb84" stroke="#2a754c" d="M68.3,231.1l0.3-0.9l-7.5-12.7l-0.2,0.6z"/>
<path fill="#c5c22a" stroke="#727018" d="M60.9,218.1l0.2-0.6l-5.1-13.3l-0.1,0.1z"/>
<path fill="#b9c431" stroke="#6b711c" d="M60.8,218.6l0.1-0.5l-5-13.8l0,0.1z"/>
<path fill="#23a0e5" stroke="#145c84" d="M95.6,242.3l0.5-1.3l-8.5-4.4l-0.4,1.3zM124.9,243.9l0.7-1.5l-9-2l-0.6,1.4z"/>
<path fill="#3fca8e" stroke="#247552" d="M68.1,232l0.2-0.9l-7.4-13l-0.1,0.5z"/>
<path fill="#02bac3" stroke="#016b71" d="M76.6,239.4l0.4-1.2l-7.9-9.8l-0.3,0.9z"/>
<path fill="#20a5e3" stroke="#125f83" d="M85.9,241.8l0.4-1.3l-8.3-5.9l-0.4,1.2z"/>
<path fill="#23a0e5" stroke="#145c84" d="M105.3,243.1l0.6-1.3l-8.8-3.5l-0.5,1.3z"/>
<path fill="#abc739" stroke="#637321" d="M60.6,219.1l0.2-0.5l-4.9-14.2l-0.1,0.1z"/>
<path fill="#1ca9df" stroke="#106281" d="M144.4,244.3l0.9-1.9l-9.1-1.4l-0.8,1.7z"/>
<path fill="#20a5e3" stroke="#125f83" d="M134.6,244.3l0.8-1.6l-9.1-1.7l-0.7,1.4z"/>
<path fill="#9dc943" stroke="#5b7426" d="M60.5,219.7l0.1-0.6l-4.8-14.6l0,0.1z"/>
<path fill="#37c897" stroke="#1f7457" d="M67.8,232.8l0.3-0.8l-7.3-13.4l-0.2,0.5z"/>
<path fill="#18addb" stroke="#0d647f" d="M157.1,243.6l1-2.3l-11.9-0.8l-0.9,1.9z"/>
<path fill="#8fcb4e" stroke="#52752d" d="M60.3,220.2l0.2-0.5l-4.7-15.1l-0.1,0.1z"/>
<path fill="#01b8ca" stroke="#006a75" d="M76.3,240.6l0.3-1.2l-7.8-10.1l-0.2,0.9z"/>
<path fill="#31c69f" stroke="#1c725c" d="M67.6,233.7l0.2-0.9l-7.2-13.7l-0.1,0.6z"/>
<path fill="#81cc59" stroke="#4a7633" d="M60.2,220.7l0.1-0.5l-4.6-15.5l0,0.1z"/>
<path fill="#23a0e5" stroke="#145c84" d="M85.5,243.1l0.4-1.3l-8.3-6l-0.3,1.2z"/>
<path fill="#72cd64" stroke="#42763a" d="M60.1,221.2l0.1-0.5l-4.5-15.9l-0.1,0.1z"/>
<path fill="#23a0e5" stroke="#145c84" d="M95.1,243.7l0.5-1.4l-8.4-4.4l-0.4,1.3zM114.7,244.5l0.6-1.3l-8.8-2.8l-0.6,1.4z"/>
<path fill="#24c1ae" stroke="#146f64" d="M67.3,234.6l0.3-0.9l-7.1-14l-0.2,0.5z"/>
<path fill="#08b5d0" stroke="#046878" d="M75.9,241.8l0.4-1.2l-7.7-10.4l-0.3,0.9z"/>
<path fill="#72cd64" stroke="#42763a" d="M59.9,221.8l0.2-0.6l-4.5-16.3l0,0.1z"/>
<path fill="#64cd6f" stroke="#3a7640" d="M59.8,222.3l0.1-0.5l-4.3-16.8l-0.1,0.1z"/>
<path fill="#259be8" stroke="#155986" d="M104.8,244.5l0.5-1.4l-8.7-3.5l-0.5,1.4z"/>
<path fill="#19bfb6" stroke="#0e6e69" d="M67.1,235.5l0.2-0.9l-7-14.4l-0.1,0.5z"/>
<path fill="#23a0e5" stroke="#145c84" d="M85.1,244.4l0.4-1.3l-8.2-6.1l-0.3,1.2z"/>
<path fill="#57cc7a" stroke="#327646" d="M59.6,222.8l0.2-0.5l-4.3-17.2l-0.1,0.1z"/>
<path fill="#18addb" stroke="#0d647f" d="M75.6,243l0.3-1.2l-7.6-10.7l-0.2,0.9z"/>
<path fill="#0bbdbd" stroke="#066d6d" d="M66.9,236.4l0.2-0.9l-6.9-14.8l-0.1,0.5z"/>
<path fill="#4acb84" stroke="#2a754c" d="M59.5,223.3l0.1-0.5l-4.2-17.6l0,0.1z"/>
<path fill="#23a0e5" stroke="#145c84" d="M124.1,245.3l0.8-1.4l-8.9-2.1l-0.7,1.4z"/>
<path fill="#259be8" stroke="#155986" d="M94.6,245.1l0.5-1.4l-8.3-4.5l-0.5,1.3z"/>
<path fill="#02bac3" stroke="#016b71" d="M66.6,237.2l0.3-0.8l-6.8-15.2l-0.2,0.6z"/>
<path fill="#1ca9df" stroke="#106281" d="M75.3,244.2l0.3-1.2l-7.5-11l-0.3,0.8z"/>
<path fill="#259be8" stroke="#155986" d="M84.7,245.7l0.4-1.3l-8.1-6.2l-0.4,1.2z"/>
<path fill="#01b8ca" stroke="#006a75" d="M66.4,238.1l0.2-0.9l-6.7-15.4l-0.1,0.5z"/>
<path fill="#23a0e5" stroke="#145c84" d="M133.8,246l0.8-1.7l-9-1.9l-0.7,1.5z"/>
<path fill="#1ca9df" stroke="#106281" d="M143.5,246.2l0.9-1.9l-9-1.6l-0.8,1.6z"/>
<path fill="#20a5e3" stroke="#125f83" d="M74.9,245.4l0.4-1.2l-7.5-11.4l-0.2,0.9z"/>
<path fill="#23a0e5" stroke="#145c84" d="M114,245.9l0.7-1.4l-8.8-2.7l-0.6,1.3z"/>
<path fill="#259be8" stroke="#155986" d="M104.2,245.8l0.6-1.3l-8.7-3.5l-0.5,1.3z"/>
<path fill="#08b5d0" stroke="#046878" d="M66.1,239l0.3-0.9l-6.6-15.8l-0.2,0.5z"/>
<path fill="#02bac3" stroke="#01a7af" d="M58.3,227.8l1.2-4.5l-4.1-18l-0.7,1.3z"/>
<path fill="#2797eb" stroke="#165788" d="M84.3,247l0.4-1.3l-8.1-6.3l-0.3,1.2z"/>
<path fill="#18addb" stroke="#0d647f" d="M156.2,245.8l0.9-2.2l-11.8-1.2l-0.9,1.9z"/>
<path fill="#259be8" stroke="#155986" d="M94.2,246.4l0.4-1.3l-8.3-4.6l-0.4,1.3z"/>
<path fill="#12b1d6" stroke="#0a667c" d="M65.9,239.9l0.2-0.9l-6.5-16.2l-0.1,0.5z"/>
<path fill="#23a0e5" stroke="#145c84" d="M74.6,246.6l0.3-1.2l-7.3-11.7l-0.3,0.9z"/>
<path fill="#2b91ef" stroke="#18548a" d="M83.9,248.4l0.4-1.4l-8-6.4l-0.4,1.2z"/>
<path fill="#259be8" stroke="#155986" d="M74.2,247.8l0.4-1.2l-7.3-12l-0.2,0.9z"/>
<path fill="#23a0e5" stroke="#145c84" d="M123.4,246.7l0.7-1.4l-8.8-2.1l-0.6,1.3z"/>
<path fill="#2797eb" stroke="#165788" d="M93.7,247.8l0.5-1.4l-8.3-4.6l-0.4,1.3zM103.6,247.2l0.6-1.4l-8.6-3.5l-0.5,1.4zM73.9,249l0.3-1.2l-7.1-12.3l-0.2,0.9z"/>
<path fill="#259be8" stroke="#155986" d="M113.4,247.3l0.6-1.4l-8.7-2.8l-0.5,1.4z"/>
<path fill="#2797eb" stroke="#2387d3" d="M64.6,244.2l1.3-4.3l-6.4-16.6l-1.2,4.5z"/>
<path fill="#2b91ef" stroke="#18548a" d="M83.4,249.7l0.5-1.3l-8-6.6l-0.3,1.2z"/>
<path fill="#23a0e5" stroke="#145c84" d="M133,247.6l0.8-1.6l-8.9-2.1l-0.8,1.4z"/>
<path fill="#2d8cf3" stroke="#1a518c" d="M73.6,250.2l0.3-1.2l-7-12.6l-0.3,0.8z"/>
<path fill="#1ca9df" stroke="#106281" d="M142.7,248l0.8-1.8l-8.9-1.9l-0.8,1.7z"/>
<path fill="#2797eb" stroke="#165788" d="M93.2,249.1l0.5-1.3l-8.2-4.7l-0.4,1.3z"/>
<path fill="#2d8cf3" stroke="#1a518c" d="M83,251l0.4-1.3l-7.8-6.7l-0.3,1.2z"/>
<path fill="#2e87f7" stroke="#1a4e8f" d="M73.2,251.4l0.4-1.2l-7-13l-0.2,0.9z"/>
<path fill="#2797eb" stroke="#165788" d="M103.1,248.5l0.5-1.3l-8.5-3.5l-0.5,1.4z"/>
<path fill="#18addb" stroke="#0d647f" d="M155.2,248l1-2.2l-11.8-1.5l-0.9,1.9z"/>
<path fill="#23a0e5" stroke="#145c84" d="M122.7,248.2l0.7-1.5l-8.7-2.2l-0.7,1.4z"/>
<path fill="#2f81fa" stroke="#1b4a91" d="M72.9,252.6l0.3-1.2l-6.8-13.3l-0.3,0.9z"/>
<path fill="#2e87f7" stroke="#1a4e8f" d="M82.6,252.3l0.4-1.3l-7.7-6.8l-0.4,1.2z"/>
<path fill="#259be8" stroke="#155986" d="M112.7,248.6l0.7-1.3l-8.6-2.8l-0.6,1.3z"/>
<path fill="#2b91ef" stroke="#18548a" d="M92.7,250.5l0.5-1.4l-8.1-4.7l-0.4,1.3z"/>
<path fill="#327cfc" stroke="#1d4792" d="M72.5,253.8l0.4-1.2l-6.8-13.6l-0.2,0.9z"/>
<path fill="#2f81fa" stroke="#1b4a91" d="M82.2,253.6l0.4-1.3l-7.7-6.9l-0.3,1.2z"/>
<path fill="#2b91ef" stroke="#18548a" d="M102.5,249.9l0.6-1.4l-8.5-3.4l-0.4,1.3z"/>
<path fill="#23a0e5" stroke="#145c84" d="M132.2,249.2l0.8-1.6l-8.9-2.3l-0.7,1.4z"/>
<path fill="#2b91ef" stroke="#18548a" d="M92.2,251.8l0.5-1.3l-8-4.8l-0.4,1.3z"/>
<path fill="#20a5e3" stroke="#125f83" d="M141.8,249.9l0.9-1.9l-8.9-2l-0.8,1.6z"/>
<path fill="#327cfc" stroke="#1d4792" d="M81.8,254.9l0.4-1.3l-7.6-7l-0.4,1.2z"/>
<path fill="#259be8" stroke="#155986" d="M112.1,250l0.6-1.4l-8.5-2.8l-0.6,1.4z"/>
<path fill="#23a0e5" stroke="#145c84" d="M122,249.6l0.7-1.4l-8.7-2.3l-0.6,1.4z"/>
<path fill="#4563fd" stroke="#3e59e3" d="M71.3,258.1l1.2-4.3l-6.6-13.9l-1.3,4.3z"/>
<path fill="#18addb" stroke="#0d647f" d="M154.3,250.3l0.9-2.3l-11.7-1.8l-0.8,1.8z"/>
<path fill="#2b91ef" stroke="#18548a" d="M101.9,251.3l0.6-1.4l-8.3-3.5l-0.5,1.4z"/>
<path fill="#2d8cf3" stroke="#1a518c" d="M91.7,253.2l0.5-1.4l-7.9-4.8l-0.4,1.4z"/>
<path fill="#3875fe" stroke="#204393" d="M81.4,256.2l0.4-1.3l-7.6-7.1l-0.3,1.2zM81,257.5l0.4-1.3l-7.5-7.2l-0.3,1.2z"/>
<path fill="#23a0e5" stroke="#145c84" d="M131.4,250.9l0.8-1.7l-8.8-2.5l-0.7,1.5z"/>
<path fill="#2e87f7" stroke="#1a4e8f" d="M91.2,254.5l0.5-1.3l-7.8-4.8l-0.5,1.3z"/>
<path fill="#2797eb" stroke="#165788" d="M111.4,251.4l0.7-1.4l-8.5-2.8l-0.5,1.3z"/>
<path fill="#2d8cf3" stroke="#1a518c" d="M101.3,252.6l0.6-1.3l-8.2-3.5l-0.5,1.3z"/>
<path fill="#3e6fff" stroke="#234093" d="M80.5,258.8l0.5-1.3l-7.4-7.3l-0.4,1.2z"/>
<path fill="#20a5e3" stroke="#125f83" d="M140.9,251.8l0.9-1.9l-8.8-2.3l-0.8,1.6z"/>
<path fill="#259be8" stroke="#155986" d="M121.3,251l0.7-1.4l-8.6-2.3l-0.7,1.3z"/>
<path fill="#2e87f7" stroke="#1a4e8f" d="M90.7,255.9l0.5-1.4l-7.8-4.8l-0.4,1.3z"/>
<path fill="#4269fe" stroke="#263c93" d="M80.1,260.2l0.4-1.4l-7.3-7.4l-0.3,1.2z"/>
<path fill="#18addb" stroke="#0d647f" d="M153.3,252.5l1-2.2l-11.6-2.3l-0.9,1.9z"/>
<path fill="#2d8cf3" stroke="#1a518c" d="M100.8,254l0.5-1.4l-8.1-3.5l-0.5,1.4z"/>
<path fill="#2797eb" stroke="#165788" d="M110.8,252.7l0.6-1.3l-8.3-2.9l-0.6,1.4z"/>
<path fill="#4563fd" stroke="#283992" d="M79.7,261.5l0.4-1.3l-7.2-7.6l-0.4,1.2z"/>
<path fill="#2f81fa" stroke="#1b4a91" d="M90.2,257.3l0.5-1.4l-7.7-4.9l-0.4,1.3z"/>
<path fill="#23a0e5" stroke="#145c84" d="M130.6,252.5l0.8-1.6l-8.7-2.7l-0.7,1.4z"/>
<path fill="#259be8" stroke="#155986" d="M120.5,252.5l0.8-1.5l-8.6-2.4l-0.6,1.4z"/>
<path fill="#20a5e3" stroke="#125f83" d="M140.1,253.7l0.8-1.9l-8.7-2.6l-0.8,1.7z"/>
<path fill="#2d8cf3" stroke="#1a518c" d="M100.2,255.3l0.6-1.3l-8.1-3.5l-0.5,1.3z"/>
<path fill="#2f81fa" stroke="#1b4a91" d="M89.7,258.6l0.5-1.3l-7.6-5l-0.4,1.3z"/>
<path fill="#2797eb" stroke="#165788" d="M110.2,254.1l0.6-1.4l-8.3-2.8l-0.6,1.4z"/>
<path fill="#4758f8" stroke="#3f4fdf" d="M78.5,265.3l1.2-3.8l-7.2-7.7l-1.2,4.3z"/>
<path fill="#18addb" stroke="#0d647f" d="M152.4,254.7l0.9-2.2l-11.5-2.6l-0.9,1.9z"/>
<path fill="#327cfc" stroke="#1d4792" d="M89.2,260l0.5-1.4l-7.5-5l-0.4,1.3z"/>
<path fill="#23a0e5" stroke="#145c84" d="M129.8,254.2l0.8-1.7l-8.6-2.9l-0.7,1.4z"/>
<path fill="#2e87f7" stroke="#1a4e8f" d="M99.6,256.7l0.6-1.4l-8-3.5l-0.5,1.4z"/>
<path fill="#259be8" stroke="#155986" d="M119.8,253.9l0.7-1.4l-8.4-2.5l-0.7,1.4z"/>
<path fill="#327cfc" stroke="#1d4792" d="M88.7,261.3l0.5-1.3l-7.4-5.1l-0.4,1.3z"/>
<path fill="#2b91ef" stroke="#18548a" d="M109.5,255.5l0.7-1.4l-8.3-2.8l-0.6,1.3z"/>
<path fill="#20a5e3" stroke="#125f83" d="M139.2,255.6l0.9-1.9l-8.7-2.8l-0.8,1.6z"/>
<path fill="#2e87f7" stroke="#1a4e8f" d="M99.1,258l0.5-1.3l-7.9-3.5l-0.5,1.3z"/>
<path fill="#3875fe" stroke="#204393" d="M88.2,262.7l0.5-1.4l-7.3-5.1l-0.4,1.3z"/>
<path fill="#18addb" stroke="#0d647f" d="M151.4,256.9l1-2.2l-11.5-2.9l-0.8,1.9z"/>
<path fill="#259be8" stroke="#155986" d="M119.1,255.3l0.7-1.4l-8.4-2.5l-0.6,1.3z"/>
<path fill="#23a0e5" stroke="#145c84" d="M129,255.8l0.8-1.6l-8.5-3.2l-0.8,1.5z"/>
<path fill="#2b91ef" stroke="#18548a" d="M108.9,256.8l0.6-1.3l-8.2-2.9l-0.5,1.4z"/>
<path fill="#2e87f7" stroke="#1a4e8f" d="M98.5,259.4l0.6-1.4l-7.9-3.5l-0.5,1.4z"/>
<path fill="#3875fe" stroke="#204393" d="M87.7,264l0.5-1.3l-7.2-5.2l-0.5,1.3z"/>
<path fill="#20a5e3" stroke="#125f83" d="M138.3,257.5l0.9-1.9l-8.6-3.1l-0.8,1.7z"/>
<path fill="#3e6fff" stroke="#234093" d="M87.2,265.4l0.5-1.4l-7.2-5.2l-0.4,1.4z"/>
<path fill="#2f81fa" stroke="#1b4a91" d="M97.9,260.8l0.6-1.4l-7.8-3.5l-0.5,1.4z"/>
<path fill="#259be8" stroke="#155986" d="M118.4,256.8l0.7-1.5l-8.3-2.6l-0.6,1.4z"/>
<path fill="#2b91ef" stroke="#18548a" d="M108.2,258.2l0.7-1.4l-8.1-2.8l-0.6,1.3z"/>
<path fill="#23a0e5" stroke="#145c84" d="M128.2,257.4l0.8-1.6l-8.5-3.3l-0.7,1.4z"/>
<path fill="#18addb" stroke="#0d647f" d="M150.5,259.2l0.9-2.3l-11.3-3.2l-0.9,1.9z"/>
<path fill="#3e6fff" stroke="#234093" d="M86.7,266.7l0.5-1.3l-7.1-5.2l-0.4,1.3z"/>
<path fill="#2f81fa" stroke="#1b4a91" d="M97.4,262.1l0.5-1.3l-7.7-3.5l-0.5,1.3z"/>
<path fill="#20a5e3" stroke="#125f83" d="M137.5,259.4l0.8-1.9l-8.5-3.3l-0.8,1.6z"/>
<path fill="#2b91ef" stroke="#18548a" d="M107.6,259.6l0.6-1.4l-8-2.9l-0.6,1.4z"/>
<path fill="#2797eb" stroke="#165788" d="M117.6,258.2l0.8-1.4l-8.2-2.7l-0.7,1.4z"/>
<path fill="#259be8" stroke="#155986" d="M127.4,259.1l0.8-1.7l-8.4-3.5l-0.7,1.4z"/>
<path fill="#2f81fa" stroke="#1b4a91" d="M96.8,263.5l0.6-1.4l-7.7-3.5l-0.5,1.4z"/>
<path fill="#4563fd" stroke="#3e59e3" d="M85.5,270.1l1.2-3.4l-7-5.2l-1.2,3.8z"/>
<path fill="#18addb" stroke="#0d647f" d="M149.5,261.4l1-2.2l-11.3-3.6l-0.9,1.9z"/>
<path fill="#2d8cf3" stroke="#1a518c" d="M106.9,260.9l0.7-1.3l-8-2.9l-0.5,1.3z"/>
<path fill="#20a5e3" stroke="#125f83" d="M136.6,261.3l0.9-1.9l-8.5-3.6l-0.8,1.6z"/>
<path fill="#2797eb" stroke="#165788" d="M116.9,259.6l0.7-1.4l-8.1-2.7l-0.6,1.3z"/>
<path fill="#327cfc" stroke="#1d4792" d="M96.2,264.8l0.6-1.3l-7.6-3.5l-0.5,1.3z"/>
<path fill="#259be8" stroke="#155986" d="M126.6,260.7l0.8-1.6l-8.3-3.8l-0.7,1.5z"/>
<path fill="#2d8cf3" stroke="#1a518c" d="M106.3,262.3l0.6-1.4l-7.8-2.9l-0.6,1.4z"/>
<path fill="#18addb" stroke="#0d647f" d="M148.5,263.6l1-2.2l-11.2-3.9l-0.8,1.9z"/>
<path fill="#327cfc" stroke="#1d4792" d="M95.7,266.2l0.5-1.4l-7.5-3.5l-0.5,1.4z"/>
<path fill="#2797eb" stroke="#165788" d="M116.2,261.1l0.7-1.5l-8-2.8l-0.7,1.4z"/>
<path fill="#20a5e3" stroke="#125f83" d="M135.7,263.2l0.9-1.9l-8.4-3.9l-0.8,1.7z"/>
<path fill="#2d8cf3" stroke="#1a518c" d="M105.7,263.7l0.6-1.4l-7.8-2.9l-0.6,1.4z"/>
<path fill="#327cfc" stroke="#1d4792" d="M95.1,267.5l0.6-1.3l-7.5-3.5l-0.5,1.3z"/>
<path fill="#259be8" stroke="#155986" d="M125.8,262.4l0.8-1.7l-8.2-3.9l-0.8,1.4z"/>
<path fill="#18addb" stroke="#0d647f" d="M147.6,265.9l0.9-2.3l-11-4.2l-0.9,1.9z"/>
<path fill="#2797eb" stroke="#165788" d="M115.5,262.5l0.7-1.4l-8-2.9l-0.6,1.4z"/>
<path fill="#327cfc" stroke="#1d4792" d="M94.5,268.9l0.6-1.4l-7.4-3.5l-0.5,1.4z"/>
<path fill="#2e87f7" stroke="#1a4e8f" d="M105,265l0.7-1.3l-7.8-2.9l-0.5,1.3z"/>
<path fill="#20a5e3" stroke="#125f83" d="M134.9,265.1l0.8-1.9l-8.3-4.1l-0.8,1.6z"/>
<path fill="#259be8" stroke="#155986" d="M125,264l0.8-1.6l-8.2-4.2l-0.7,1.4z"/>
<path fill="#3875fe" stroke="#204393" d="M93.9,270.3l0.6-1.4l-7.3-3.5l-0.5,1.3z"/>
<path fill="#2797eb" stroke="#165788" d="M114.8,263.9l0.7-1.4l-7.9-2.9l-0.7,1.3z"/>
<path fill="#2e87f7" stroke="#1a4e8f" d="M104.4,266.4l0.6-1.4l-7.6-2.9l-0.6,1.4z"/>
<path fill="#18addb" stroke="#0d647f" d="M146.6,268.1l1-2.2l-11-4.6l-0.9,1.9z"/>
<path fill="#20a5e3" stroke="#125f83" d="M134,267l0.9-1.9l-8.3-4.4l-0.8,1.7z"/>
<path fill="#259be8" stroke="#155986" d="M124.2,265.6l0.8-1.6l-8.1-4.4l-0.7,1.5z"/>
<path fill="#3875fe" stroke="#3269e4" d="M92.7,273.2l1.2-2.9l-7.2-3.6l-1.2,3.4z"/>
<path fill="#2e87f7" stroke="#1a4e8f" d="M103.7,267.8l0.7-1.4l-7.6-2.9l-0.6,1.3z"/>
<path fill="#2797eb" stroke="#165788" d="M114,265.4l0.8-1.5l-7.9-3l-0.6,1.4z"/>
<path fill="#18addb" stroke="#0d647f" d="M145.7,270.3l0.9-2.2l-10.9-4.9l-0.8,1.9z"/>
<path fill="#20a5e3" stroke="#125f83" d="M133.1,268.9l0.9-1.9l-8.2-4.6l-0.8,1.6z"/>
<path fill="#2e87f7" stroke="#1a4e8f" d="M103.1,269.1l0.6-1.3l-7.5-3l-0.5,1.4z"/>
<path fill="#259be8" stroke="#155986" d="M123.4,267.3l0.8-1.7l-8-4.5l-0.7,1.4z"/>
<path fill="#2b91ef" stroke="#18548a" d="M113.3,266.8l0.7-1.4l-7.7-3.1l-0.6,1.4z"/>
<path fill="#2f81fa" stroke="#1b4a91" d="M102.4,270.5l0.7-1.4l-7.4-2.9l-0.6,1.3z"/>
<path fill="#18addb" stroke="#0d647f" d="M144.7,272.5l1-2.2l-10.8-5.2l-0.9,1.9z"/>
<path fill="#259be8" stroke="#155986" d="M122.6,268.9l0.8-1.6l-7.9-4.8l-0.7,1.4z"/>
<path fill="#20a5e3" stroke="#125f83" d="M132.2,270.8l0.9-1.9l-8.1-4.9l-0.8,1.6z"/>
<path fill="#2b91ef" stroke="#18548a" d="M112.6,268.2l0.7-1.4l-7.6-3.1l-0.7,1.3z"/>
<path fill="#2f81fa" stroke="#1b4a91" d="M101.8,271.9l0.6-1.4l-7.3-3l-0.6,1.4z"/>
<path fill="#2b91ef" stroke="#18548a" d="M111.9,269.7l0.7-1.5l-7.6-3.2l-0.6,1.4z"/>
<path fill="#18addb" stroke="#0d647f" d="M143.8,274.8l0.9-2.3l-10.7-5.5l-0.9,1.9z"/>
<path fill="#259be8" stroke="#155986" d="M121.8,270.5l0.8-1.6l-7.8-5l-0.8,1.5z"/>
<path fill="#20a5e3" stroke="#125f83" d="M131.4,272.7l0.8-1.9l-8-5.2l-0.8,1.7z"/>
<path fill="#2f81fa" stroke="#1b4a91" d="M101.1,273.2l0.7-1.3l-7.3-3l-0.6,1.4z"/>
<path fill="#2b91ef" stroke="#18548a" d="M111.2,271.1l0.7-1.4l-7.5-3.3l-0.7,1.4z"/>
<path fill="#259be8" stroke="#155986" d="M121,272.2l0.8-1.7l-7.8-5.1l-0.7,1.4z"/>
<path fill="#18addb" stroke="#0d647f" d="M142.8,277l1-2.2l-10.7-5.9l-0.9,1.9z"/>
<path fill="#20a5e3" stroke="#125f83" d="M130.5,274.6l0.9-1.9l-8-5.4l-0.8,1.6z"/>
<path fill="#327cfc" stroke="#2d6fe2" d="M99.9,275.8l1.2-2.6l-7.2-2.9l-1.2,2.9z"/>
<path fill="#2b91ef" stroke="#18548a" d="M110.4,272.5l0.8-1.4l-7.5-3.3l-0.6,1.3z"/>
<path fill="#259be8" stroke="#155986" d="M120.2,273.8l0.8-1.6l-7.7-5.4l-0.7,1.4z"/>
<path fill="#18addb" stroke="#0d647f" d="M141.9,279.2l0.9-2.2l-10.6-6.2l-0.8,1.9z"/>
<path fill="#20a5e3" stroke="#125f83" d="M129.6,276.5l0.9-1.9l-7.9-5.7l-0.8,1.6z"/>
<path fill="#2b91ef" stroke="#18548a" d="M109.7,274l0.7-1.5l-7.3-3.4l-0.7,1.4z"/>
<path fill="#259be8" stroke="#155986" d="M119.4,275.5l0.8-1.7l-7.6-5.6l-0.7,1.5z"/>
<path fill="#20a5e3" stroke="#125f83" d="M128.8,278.4l0.8-1.9l-7.8-6l-0.8,1.7z"/>
<path fill="#18addb" stroke="#0d647f" d="M140.9,281.4l1-2.2l-10.5-6.5l-0.9,1.9z"/>
<path fill="#2d8cf3" stroke="#1a518c" d="M109,275.4l0.7-1.4l-7.3-3.5l-0.6,1.4z"/>
<path fill="#259be8" stroke="#155986" d="M118.6,277.1l0.8-1.6l-7.5-5.8l-0.7,1.4z"/>
<path fill="#20a5e3" stroke="#125f83" d="M127.9,280.3l0.9-1.9l-7.8-6.2l-0.8,1.6z"/>
<path fill="#2d8cf3" stroke="#1a518c" d="M108.3,276.8l0.7-1.4l-7.2-3.5l-0.7,1.3z"/>
<path fill="#18addb" stroke="#0d647f" d="M140,283.7l0.9-2.3l-10.4-6.8l-0.9,1.9z"/>
<path fill="#259be8" stroke="#155986" d="M117.8,278.7l0.8-1.6l-7.4-6l-0.8,1.4z"/>
<path fill="#20a5e3" stroke="#125f83" d="M127,282.2l0.9-1.9l-7.7-6.5l-0.8,1.7z"/>
<path fill="#18addb" stroke="#0d647f" d="M139,285.9l1-2.2l-10.4-7.2l-0.8,1.9z"/>
<path fill="#2d8cf3" stroke="#287eda" d="M107.1,279.2l1.2-2.4l-7.2-3.6l-1.2,2.6z"/>
<path fill="#259be8" stroke="#155986" d="M117,280.4l0.8-1.7l-7.4-6.2l-0.7,1.5z"/>
<path fill="#20a5e3" stroke="#125f83" d="M126.2,284.1l0.8-1.9l-7.6-6.7l-0.8,1.6z"/>
<path fill="#18addb" stroke="#0d647f" d="M138,288.1l1-2.2l-10.2-7.5l-0.9,1.9z"/>
<path fill="#259be8" stroke="#155986" d="M116.2,282l0.8-1.6l-7.3-6.4l-0.7,1.4z"/>
<path fill="#20a5e3" stroke="#125f83" d="M125.3,286l0.9-1.9l-7.6-7l-0.8,1.6z"/>
<path fill="#18addb" stroke="#0d647f" d="M137.1,290.4l0.9-2.3l-10.1-7.8l-0.9,1.9z"/>
<path fill="#259be8" stroke="#155986" d="M115.4,283.7l0.8-1.7l-7.2-6.6l-0.7,1.4z"/>
<path fill="#1ca9df" stroke="#106281" d="M124.4,287.9l0.9-1.9l-7.5-7.3l-0.8,1.7z"/>
<path fill="#18addb" stroke="#0d647f" d="M136.1,292.6l1-2.2l-10.1-8.2l-0.8,1.9z"/>
<path fill="#259be8" stroke="#218bd0" d="M114.2,286.2l1.2-2.5l-7.1-6.9l-1.2,2.4z"/>
<path fill="#1ca9df" stroke="#106281" d="M123.5,289.8l0.9-1.9l-7.4-7.5l-0.8,1.6z"/>
<path fill="#18addb" stroke="#0d647f" d="M135.2,294.8l0.9-2.2l-9.9-8.5l-0.9,1.9z"/>
<path fill="#1ca9df" stroke="#106281" d="M122.7,291.7l0.8-1.9l-7.3-7.8l-0.8,1.7z"/>
<path fill="#18addb" stroke="#0d647f" d="M134.2,297l1-2.2l-9.9-8.8l-0.9,1.9z"/>
<path fill="#1ca9df" stroke="#1998c8" d="M121.5,294.3l1.2-2.6l-7.3-8l-1.2,2.5z"/>
<path fill="#18addb" stroke="#0d647f" d="M133.3,299.3l0.9-2.3l-9.8-9.1l-0.9,1.9zM132.3,301.5l1-2.2l-9.8-9.5l-0.8,1.9z"/>
<path fill="#18addb" stroke="#159bc5" d="M131.1,304.3l1.2-2.8l-9.6-9.8l-1.2,2.6z"/>
</g>
<path fill="none" stroke="#000" stroke-opacity="0.45" stroke-width="0.3" d="M131.1,304.3l1.2-2.8l1-2.2l0.9-2.3l1-2.2l0.9-2.2l1-2.2l0.9-2.3l1-2.2l1-2.2l0.9-2.3l1-2.2l0.9-2.2l1-2.2l0.9-2.3l1-2.2l0.9-2.2l1-2.2l0.9-2.3l1-2.2l1-2.2l0.9-2.3l1-2.2l0.9-2.2l1-2.2l0.9-2.3l1-2.2l0.9-2.2l1-2.3M121.5,294.3l1.2-2.6l0.8-1.9l0.9-1.9l0.9-1.9l0.9-1.9l0.8-1.9l0.9-1.9l0.9-1.9l0.8-1.9l0.9-1.9l0.9-1.9l0.8-1.9l0.9-1.9l0.9-1.9l0.9-1.9l0.8-1.9l0.9-1.9l0.9-1.9l0.8-1.9l0.9-1.9l0.9-1.9l0.8-1.9l0.9-1.9l0.9-1.9l0.8-1.8l0.9-1.9l0.9-1.9l0.9-1.9M114.2,286.2l1.2-2.5l0.8-1.7l0.8-1.6l0.8-1.7l0.8-1.6l0.8-1.6l0.8-1.7l0.8-1.6l0.8-1.7l0.8-1.6l0.8-1.6l0.8-1.7l0.8-1.6l0.8-1.6l0.8-1.7l0.8-1.6l0.8-1.7l0.8-1.6l0.8-1.6l0.8-1.7l0.8-1.6l0.8-1.7l0.8-1.6l0.8-1.6l0.8-1.7l0.8-1.6l0.8-1.7l0.7-1.6M107.1,279.2l1.2-2.4l0.7-1.4l0.7-1.4l0.7-1.5l0.8-1.4l0.7-1.4l0.7-1.5l0.7-1.4l0.7-1.4l0.8-1.5l0.7-1.4l0.7-1.4l0.7-1.5l0.7-1.4l0.8-1.4l0.7-1.5l0.7-1.4l0.7-1.4l0.8-1.5l0.7-1.4l0.7-1.4l0.7-1.5l0.7-1.4l0.8-1.4l0.7-1.5l0.7-1.4l0.7-1.4l0.7-1.5M99.9,275.8l1.2-2.6l0.7-1.3l0.6-1.4l0.7-1.4l0.6-1.3l0.7-1.4l0.6-1.4l0.7-1.3l0.6-1.4l0.6-1.4l0.7-1.3l0.6-1.4l0.7-1.4l0.6-1.3l0.7-1.4l0.6-1.4l0.6-1.3l0.7-1.4l0.6-1.4l0.7-1.3l0.6-1.4l0.7-1.4l0.6-1.3l0.7-1.4l0.6-1.4l0.6-1.3l0.7-1.4l0.6-1.4M92.7,273.2l1.2-2.9l0.6-1.4l0.6-1.4l0.6-1.3l0.5-1.4l0.6-1.3l0.6-1.4l0.5-1.3l0.6-1.4l0.6-1.4l0.5-1.3l0.6-1.4l0.6-1.3l0.5-1.4l0.6-1.3l0.6-1.4l0.6-1.4l0.5-1.3l0.6-1.4l0.6-1.3l0.5-1.4l0.6-1.3l0.6-1.4l0.5-1.4l0.6-1.3l0.6-1.4l0.6-1.3l0.5-1.4M85.5,270.1l1.2-3.4l0.5-1.3l0.5-1.4l0.5-1.3l0.5-1.4l0.5-1.3l0.5-1.4l0.5-1.3l0.5-1.4l0.5-1.4l0.5-1.3l0.5-1.4l0.5-1.3l0.5-1.4l0.5-1.3l0.5-1.4l0.4-1.3l0.5-1.4l0.5-1.4l0.5-1.3l0.5-1.4l0.5-1.3l0.5-1.4l0.5-1.3l0.5-1.4l0.5-1.3l0.5-1.4l0.5-1.3M78.5,265.3l1.2-3.8l0.4-1.3l0.4-1.4l0.5-1.3l0.4-1.3l0.4-1.3l0.4-1.3l0.4-1.3l0.4-1.3l0.4-1.3l0.5-1.3l0.4-1.4l0.4-1.3l0.4-1.3l0.4-1.3l0.4-1.3l0.4-1.3l0.5-1.3l0.4-1.3l0.4-1.3l0.4-1.4l0.4-1.3l0.4-1.3l0.4-1.3l0.5-1.3l0.4-1.3l0.4-1.3l0.4-1.3M71.3,258.1l1.2-4.3l0.4-1.2l0.3-1.2l0.4-1.2l0.3-1.2l0.3-1.2l0.4-1.2l0.3-1.2l0.4-1.2l0.3-1.2l0.3-1.2l0.4-1.2l0.3-1.2l0.4-1.2l0.3-1.2l0.3-1.2l0.4-1.2l0.3-1.2l0.3-1.2l0.4-1.2l0.3-1.2l0.4-1.2l0.3-1.2l0.3-1.2l0.4-1.2l0.3-1.3l0.4-1.2l0.3-1.2M64.6,244.2l1.3-4.3l0.2-0.9l0.3-0.9l0.2-0.9l0.3-0.8l0.2-0.9l0.2-0.9l0.3-0.9l0.2-0.9l0.3-0.8l0.2-0.9l0.3-0.9l0.2-0.9l0.3-0.9l0.2-0.9l0.3-0.8l0.2-0.9l0.3-0.9l0.2-0.9l0.3-0.9l0.2-0.8l0.3-0.9l0.2-0.9l0.3-0.9l0.2-0.9l0.3-0.8l0.2-0.9l0.3-0.9M58.3,227.8l1.2-4.5l0.1-0.5l0.2-0.5l0.1-0.5l0.2-0.6l0.1-0.5l0.1-0.5l0.2-0.5l0.1-0.6l0.2-0.5l0.1-0.5l0.2-0.6l0.1-0.5l0.2-0.5l0.1-0.5l0.1-0.6l0.2-0.5l0.1-0.5l0.2-0.6l0.1-0.5l0.2-0.5l0.1-0.5l0.2-0.6l0.1-0.5l0.1-0.5l0.2-0.5l0.1-0.6l0.2-0.5M54.7,206.6l0.7-1.3l0-0.1l0.1-0.1l0.1-0.1l0-0.1l0.1-0.1l0-0.1l0.1-0.1l0-0.1l0.1-0.1l0-0.1l0.1-0.1l0.1-0.1l0-0.2l0.1-0.1l0-0.1l0.1-0.1l0-0.1l0.1-0.1l0.1-0.1l0-0.1l0.1-0.1l0-0.1l0.1-0.1l0-0.1l0.1-0.1l0-0.1l0.1-0.2"/>
<text x="76.9" y="330.6" font-size="5.4" text-anchor="middle" font-family="Liberation Serif, serif" fill="#333" fill-opacity="0.8" transform="rotate(9 76.9 328.9)"><tspan font-style="italic">y</tspan>/<tspan font-style="italic">s</tspan><tspan font-size="3.8" dy="1">m</tspan></text>
<text x="158.5" y="310.1" font-size="5.4" text-anchor="middle" font-family="Liberation Serif, serif" fill="#333" fill-opacity="0.8"><tspan font-style="italic">x</tspan>/<tspan font-style="italic">c</tspan><tspan font-size="4" dy="1">r,m</tspan></text>
<text x="10.5" y="297.5" font-size="5.4" text-anchor="middle" font-family="Liberation Serif, serif" fill="#333" fill-opacity="0.8" transform="rotate(-90 10.5 296)">Φ<tspan font-size="4" dy="1">mode 2</tspan></text>
<rect x="174" y="201.5" width="6.4" height="121" fill="url(#par)" stroke="#999" stroke-width="0.3"/>
<text x="181.8" y="317.1" font-size="5.0" text-anchor="start" font-family="Liberation Serif, serif" fill="#333" >−0.6</text>
<text x="181.8" y="302.8" font-size="5.0" text-anchor="start" font-family="Liberation Serif, serif" fill="#333" >−0.4</text>
<text x="181.8" y="288.6" font-size="5.0" text-anchor="start" font-family="Liberation Serif, serif" fill="#333" >−0.2</text>
<text x="181.8" y="274.4" font-size="5.0" text-anchor="start" font-family="Liberation Serif, serif" fill="#333" >0</text>
<text x="181.8" y="260.1" font-size="5.0" text-anchor="start" font-family="Liberation Serif, serif" fill="#333" >0.2</text>
<text x="181.8" y="245.9" font-size="5.0" text-anchor="start" font-family="Liberation Serif, serif" fill="#333" >0.4</text>
<text x="181.8" y="231.7" font-size="5.0" text-anchor="start" font-family="Liberation Serif, serif" fill="#333" >0.6</text>
<text x="181.8" y="217.4" font-size="5.0" text-anchor="start" font-family="Liberation Serif, serif" fill="#333" >0.8</text>
<text x="181.8" y="203.2" font-size="5.0" text-anchor="start" font-family="Liberation Serif, serif" fill="#333" >1</text>
<text x="5.7" y="354.3" font-size="10.3" font-family="Liberation Serif, serif" fill="#1a1a1a" stroke="#1a1a1a" stroke-width="0.14" textLength="198.9" lengthAdjust="spacingAndGlyphs">(<tspan font-weight="bold">c</tspan>) Second mode of the wind tunnel model wing</text>
<path stroke="#e2e2e2" stroke-width="0.45" fill="none" d="M336.9,322.7L235.7,306.2L235.7,264.1M342.3,310.1L241.1,293.6L241.1,251.5M347.7,297.5L246.5,281L246.5,238.9M353.1,284.9L251.9,268.4L251.9,226.3M358.5,272.3L257.3,255.8L257.3,213.7M363.9,259.7L262.7,243.2L262.7,201.1M336.9,322.7L363.9,259.7L363.9,217.6M316.7,319.4L343.7,256.4L343.7,214.3M296.4,316.1L323.4,253.1L323.4,211M276.2,312.8L303.2,249.8L303.2,207.7M255.9,309.5L282.9,246.5L282.9,204.4M235.7,306.2L262.7,243.2L262.7,201.1M235.7,297.8L262.7,234.8L363.9,251.3M235.7,289.4L262.7,226.4L363.9,242.9M235.7,280.9L262.7,217.9L363.9,234.4M235.7,272.5L262.7,209.5L363.9,226M235.7,264.1L262.7,201.1L363.9,217.6"/>
<path stroke="#999" stroke-width="0.55" fill="none" d="M363.9,259.7L336.9,322.7L235.7,306.2M336.9,322.7L337.5,321.2M316.7,319.4L317.3,317.9M296.4,316.1L297.1,314.6M276.2,312.8L276.8,311.3M255.9,309.5L256.6,308M235.7,306.2L236.3,304.7M336.9,322.7L335.3,322.4M342.3,310.1L340.7,309.8M347.7,297.5L346.1,297.2M353.1,284.9L351.5,284.6M358.5,272.3L356.9,272M363.9,259.7L362.3,259.4"/>
<text x="335.4" y="330.1" font-size="5.0" text-anchor="middle" font-family="Liberation Serif, serif" fill="#333" >0</text>
<text x="315.2" y="326.8" font-size="5.0" text-anchor="middle" font-family="Liberation Serif, serif" fill="#333" >0.2</text>
<text x="294.9" y="323.5" font-size="5.0" text-anchor="middle" font-family="Liberation Serif, serif" fill="#333" >0.4</text>
<text x="274.7" y="320.2" font-size="5.0" text-anchor="middle" font-family="Liberation Serif, serif" fill="#333" >0.6</text>
<text x="254.4" y="316.9" font-size="5.0" text-anchor="middle" font-family="Liberation Serif, serif" fill="#333" >0.8</text>
<text x="234.2" y="313.6" font-size="5.0" text-anchor="middle" font-family="Liberation Serif, serif" fill="#333" >1</text>
<text x="343.2" y="328.9" font-size="5.0" text-anchor="middle" font-family="Liberation Serif, serif" fill="#333" >0</text>
<text x="348.6" y="316.3" font-size="5.0" text-anchor="middle" font-family="Liberation Serif, serif" fill="#333" >0.2</text>
<text x="354" y="303.7" font-size="5.0" text-anchor="middle" font-family="Liberation Serif, serif" fill="#333" >0.4</text>
<text x="359.4" y="291.1" font-size="5.0" text-anchor="middle" font-family="Liberation Serif, serif" fill="#333" >0.6</text>
<text x="364.8" y="278.5" font-size="5.0" text-anchor="middle" font-family="Liberation Serif, serif" fill="#333" >0.8</text>
<text x="370.2" y="265.9" font-size="5.0" text-anchor="middle" font-family="Liberation Serif, serif" fill="#333" >1</text>
<text x="231.5" y="300.8" font-size="5.0" text-anchor="end" font-family="Liberation Serif, serif" fill="#333" >−2</text>
<text x="231.5" y="292.4" font-size="5.0" text-anchor="end" font-family="Liberation Serif, serif" fill="#333" >0</text>
<text x="231.5" y="283.9" font-size="5.0" text-anchor="end" font-family="Liberation Serif, serif" fill="#333" >2</text>
<text x="231.5" y="275.5" font-size="5.0" text-anchor="end" font-family="Liberation Serif, serif" fill="#333" >4</text>
<text x="231.5" y="267.1" font-size="5.0" text-anchor="end" font-family="Liberation Serif, serif" fill="#333" >6</text>
<text x="230.5" y="260.5" font-size="4.2" text-anchor="middle" font-family="Liberation Serif, serif" fill="#333" >×10<tspan font-size="3" dy="-1.6">−3</tspan></text>
<g stroke-width="0.3">
<path fill="#19bfb6" stroke="#15a29a" d="M269,225.2l0.2-0.5l-6.5,0.2l-0.1,0.4z"/>
<path fill="#3e6fff" stroke="#254299" d="M296.3,238.8l0.4-0.3l-9.2-3.2l-0.3,0.1z"/>
<path fill="#0bbdbd" stroke="#09a0a0" d="M268.9,225.7l0.1-0.5l-6.4,0.1l0,0.5zM268.7,226.2l0.2-0.5l-6.3,0.1l-0.1,0.4zM268.6,226.7l0.1-0.5l-6.2,0l0,0.4zM268.5,227.2l0.1-0.5l-6.1-0.1l-0.1,0.4zM268.3,227.7l0.2-0.5l-6.1-0.2l0,0.4zM268.2,228.2l0.1-0.5l-5.9-0.3l-0.1,0.4zM268,228.7l0.2-0.5l-5.9-0.4l0,0.4z"/>
<path fill="#3875fe" stroke="#214698" d="M287.2,235.4l0.3-0.1l-9.1-7.2l-0.3,0.3z"/>
<path fill="#0bbdbd" stroke="#09a0a0" d="M267.9,229.2l0.1-0.5l-5.7-0.5l-0.1,0.4zM267.7,229.7l0.2-0.5l-5.7-0.6l-0.1,0.5z"/>
<path fill="#3875fe" stroke="#214698" d="M305.4,241.1l0.5-0.6l-9.2-2l-0.4,0.3z"/>
<path fill="#0bbdbd" stroke="#09a0a0" d="M267.6,230.2l0.1-0.5l-5.6-0.6l0,0.4z"/>
<path fill="#02bac3" stroke="#019ea5" d="M267.4,230.7l0.2-0.5l-5.5-0.7l-0.1,0.4zM267.3,231.2l0.1-0.5l-5.4-0.8l0,0.4zM267.2,231.7l0.1-0.5l-5.3-0.9l-0.1,0.4z"/>
<path fill="#f9fb15" stroke="#d3d511" d="M278.1,228.4l0.3-0.3l-9.2-3.4l-0.2,0.5z"/>
<path fill="#02bac3" stroke="#019ea5" d="M267,232.2l0.2-0.5l-5.3-1l0,0.4z"/>
<path fill="#3e6fff" stroke="#254299" d="M295.9,239l0.4-0.2l-9.1-3.4l-0.4,0.2z"/>
<path fill="#02bac3" stroke="#019ea5" d="M266.9,232.7l0.1-0.5l-5.1-1.1l-0.1,0.4zM266.7,233.2l0.2-0.5l-5.1-1.2l-0.1,0.4z"/>
<path fill="#3875fe" stroke="#214698" d="M286.8,235.6l0.4-0.2l-9.1-7l-0.2,0.4z"/>
<path fill="#02bac3" stroke="#019ea5" d="M266.6,233.7l0.1-0.5l-5-1.3l0,0.4zM266.4,234.2l0.2-0.5l-4.9-1.4l-0.1,0.5z"/>
<path fill="#f9fb15" stroke="#d3d511" d="M277.9,228.8l0.2-0.4l-9.1-3.2l-0.1,0.5z"/>
<path fill="#02bac3" stroke="#019ea5" d="M266.3,234.7l0.1-0.5l-4.8-1.4l0,0.4zM266.1,235.2l0.2-0.5l-4.7-1.5l-0.1,0.4zM266,235.7l0.1-0.5l-4.6-1.6l0,0.4z"/>
<path fill="#01b8ca" stroke="#009cab" d="M265.9,236.2l0.1-0.5l-4.5-1.7l-0.1,0.4zM265.7,236.7l0.2-0.5l-4.5-1.8l0,0.4z"/>
<path fill="#f9fb15" stroke="#d3d511" d="M277.6,229.2l0.3-0.4l-9-3.1l-0.2,0.5z"/>
<path fill="#01b8ca" stroke="#009cab" d="M265.6,237.2l0.1-0.5l-4.3-1.9l-0.1,0.4z"/>
<path fill="#3875fe" stroke="#214698" d="M304.9,241.8l0.5-0.7l-9.1-2.3l-0.4,0.2z"/>
<path fill="#01b8ca" stroke="#009cab" d="M265.4,237.7l0.2-0.5l-4.3-2l-0.1,0.4z"/>
<path fill="#327cfc" stroke="#1e4a97" d="M314.6,242.7l0.5-1.2l-9.2-1l-0.5,0.6z"/>
<path fill="#01b8ca" stroke="#009cab" d="M265.3,238.2l0.1-0.5l-4.2-2.1l0,0.5z"/>
<path fill="#3875fe" stroke="#214698" d="M286.5,235.7l0.3-0.1l-8.9-6.8l-0.3,0.4z"/>
<path fill="#3e6fff" stroke="#254299" d="M295.5,239.2l0.4-0.2l-9.1-3.4l-0.3,0.1z"/>
<path fill="#f9fb15" stroke="#d3d511" d="M277.4,229.5l0.2-0.3l-8.9-3l-0.1,0.5z"/>
<path fill="#12b1d6" stroke="#109fc0" d="M264.1,242.5l1.2-4.3l-4.1-2.1l-0.7,4.7z"/>
<path fill="#f9fb15" stroke="#d3d511" d="M277.1,229.9l0.3-0.4l-8.8-2.8l-0.1,0.5z"/>
<path fill="#3875fe" stroke="#214698" d="M286.1,235.9l0.4-0.2l-8.9-6.5l-0.2,0.3z"/>
<path fill="#f7f51b" stroke="#d1d016" d="M276.9,230.2l0.2-0.3l-8.6-2.7l-0.2,0.5z"/>
<path fill="#3e6fff" stroke="#254299" d="M304.4,242.5l0.5-0.7l-9-2.8l-0.4,0.2z"/>
<path fill="#327cfc" stroke="#1e4a97" d="M314,243.9l0.6-1.2l-9.2-1.6l-0.5,0.7z"/>
<path fill="#3e6fff" stroke="#254299" d="M295,239.5l0.5-0.3l-9-3.5l-0.4,0.2z"/>
<path fill="#f7f51b" stroke="#d1d016" d="M276.6,230.6l0.3-0.4l-8.6-2.5l-0.1,0.5z"/>
<path fill="#2d8cf3" stroke="#1b5491" d="M323.7,243.5l0.6-1.4l-9.2-0.6l-0.5,1.2z"/>
<path fill="#3875fe" stroke="#214698" d="M285.8,236.1l0.3-0.2l-8.7-6.4l-0.3,0.4z"/>
<path fill="#f7f51b" stroke="#d1d016" d="M276.4,231l0.2-0.4l-8.4-2.4l-0.2,0.5zM276.1,231.3l0.3-0.3l-8.4-2.3l-0.1,0.5z"/>
<path fill="#3e6fff" stroke="#254299" d="M294.6,239.7l0.4-0.2l-8.9-3.6l-0.3,0.2zM303.9,243.2l0.5-0.7l-8.9-3.3l-0.5,0.3z"/>
<path fill="#3875fe" stroke="#214698" d="M313.4,245l0.6-1.1l-9.1-2.1l-0.5,0.7zM285.5,236.2l0.3-0.1l-8.7-6.2l-0.2,0.3z"/>
<path fill="#f7f51b" stroke="#d1d016" d="M275.9,231.7l0.2-0.4l-8.2-2.1l-0.2,0.5z"/>
<path fill="#2e87f7" stroke="#1b5194" d="M323,245l0.7-1.5l-9.1-0.8l-0.6,1.2z"/>
<path fill="#f7f51b" stroke="#d1d016" d="M275.6,232l0.3-0.3l-8.2-2l-0.1,0.5z"/>
<path fill="#3875fe" stroke="#214698" d="M285.1,236.4l0.4-0.2l-8.6-6l-0.3,0.4z"/>
<path fill="#f7f51b" stroke="#d1d016" d="M275.4,232.4l0.2-0.4l-8-1.8l-0.2,0.5z"/>
<path fill="#3e6fff" stroke="#254299" d="M294.2,239.9l0.4-0.2l-8.8-3.6l-0.3,0.1z"/>
<path fill="#2797eb" stroke="#175a8d" d="M332.8,244l0.7-1.6l-9.2-0.3l-0.6,1.4z"/>
<path fill="#3e6fff" stroke="#254299" d="M303.4,243.9l0.5-0.7l-8.9-3.7l-0.4,0.2z"/>
<path fill="#3875fe" stroke="#214698" d="M312.8,246.2l0.6-1.2l-9-2.5l-0.5,0.7z"/>
<path fill="#f7f51b" stroke="#d1d016" d="M275.1,232.8l0.3-0.4l-8-1.7l-0.1,0.5z"/>
<path fill="#3875fe" stroke="#214698" d="M284.8,236.6l0.3-0.2l-8.5-5.8l-0.2,0.4z"/>
<path fill="#2e87f7" stroke="#1b5194" d="M322.4,246.5l0.6-1.5l-9-1.1l-0.6,1.1z"/>
<path fill="#f7f51b" stroke="#d1d016" d="M274.9,233.1l0.2-0.3l-7.8-1.6l-0.1,0.5z"/>
<path fill="#3e6fff" stroke="#254299" d="M293.8,240.2l0.4-0.3l-8.7-3.7l-0.4,0.2z"/>
<path fill="#f7f51b" stroke="#d1d016" d="M274.6,233.5l0.3-0.4l-7.7-1.4l-0.2,0.5z"/>
<path fill="#3e6fff" stroke="#254299" d="M302.9,244.5l0.5-0.6l-8.8-4.2l-0.4,0.2z"/>
<path fill="#3875fe" stroke="#214698" d="M312.3,247.4l0.5-1.2l-8.9-3l-0.5,0.7z"/>
<path fill="#2797eb" stroke="#175a8d" d="M332.1,245.7l0.7-1.7l-9.1-0.5l-0.7,1.5z"/>
<path fill="#3875fe" stroke="#214698" d="M284.4,236.7l0.4-0.1l-8.4-5.6l-0.3,0.3z"/>
<path fill="#f7f51b" stroke="#d1d016" d="M274.4,233.9l0.2-0.4l-7.6-1.3l-0.1,0.5z"/>
<path fill="#2f81fa" stroke="#1c4d96" d="M321.8,248l0.6-1.5l-9-1.5l-0.6,1.2z"/>
<path fill="#f7f51b" stroke="#d1d016" d="M274.1,234.2l0.3-0.3l-7.5-1.2l-0.2,0.5z"/>
<path fill="#1ca9df" stroke="#106585" d="M342,244.5l0.7-1.7l-9.2-0.4l-0.7,1.6z"/>
<path fill="#3e6fff" stroke="#254299" d="M293.4,240.4l0.4-0.2l-8.7-3.8l-0.3,0.2z"/>
<path fill="#3875fe" stroke="#214698" d="M284.1,236.9l0.3-0.2l-8.3-5.4l-0.2,0.4z"/>
<path fill="#f7f51b" stroke="#d1d016" d="M273.9,234.6l0.2-0.4l-7.4-1l-0.1,0.5z"/>
<path fill="#3e6fff" stroke="#254299" d="M302.4,245.2l0.5-0.7l-8.7-4.6l-0.4,0.3zM311.7,248.5l0.6-1.1l-8.9-3.5l-0.5,0.6z"/>
<path fill="#2797eb" stroke="#175a8d" d="M331.4,247.4l0.7-1.7l-9.1-0.7l-0.6,1.5z"/>
<path fill="#f6ef20" stroke="#d1cb1b" d="M273.6,234.9l0.3-0.3l-7.3-0.9l-0.2,0.5z"/>
<path fill="#3875fe" stroke="#214698" d="M283.8,237l0.3-0.1l-8.2-5.2l-0.3,0.3z"/>
<path fill="#2f81fa" stroke="#1c4d96" d="M321.1,249.5l0.7-1.5l-9-1.8l-0.5,1.2z"/>
<path fill="#f6ef20" stroke="#d1cb1b" d="M273.4,235.3l0.2-0.4l-7.2-0.7l-0.1,0.5z"/>
<path fill="#3e6fff" stroke="#254299" d="M293,240.7l0.4-0.3l-8.6-3.8l-0.4,0.1z"/>
<path fill="#1ca9df" stroke="#106585" d="M341.2,246.2l0.8-1.7l-9.2-0.5l-0.7,1.7z"/>
<path fill="#f6ef20" stroke="#d1cb1b" d="M273.1,235.7l0.3-0.4l-7.1-0.6l-0.2,0.5z"/>
<path fill="#4269fe" stroke="#273f98" d="M301.9,245.9l0.5-0.7l-8.6-5l-0.4,0.2z"/>
<path fill="#3875fe" stroke="#214698" d="M283.4,237.2l0.4-0.2l-8.2-5l-0.2,0.4z"/>
<path fill="#3e6fff" stroke="#254299" d="M311.1,249.7l0.6-1.2l-8.8-4l-0.5,0.7z"/>
<path fill="#f5e924" stroke="#d0c61e" d="M272.9,236l0.2-0.3l-7-0.5l-0.1,0.5z"/>
<path fill="#12b1d6" stroke="#0a6a80" d="M351.1,244.8l0.9-1.9l-9.3-0.1l-0.7,1.7z"/>
<path fill="#2b91ef" stroke="#19578f" d="M330.7,249.1l0.7-1.7l-9-0.9l-0.6,1.5z"/>
<path fill="#3e6fff" stroke="#254299" d="M292.6,240.9l0.4-0.2l-8.6-4l-0.3,0.2z"/>
<path fill="#f5e327" stroke="#d0c021" d="M272.7,236.4l0.2-0.4l-6.9-0.3l-0.1,0.5z"/>
<path fill="#327cfc" stroke="#1e4a97" d="M320.5,250.9l0.6-1.4l-8.8-2.1l-0.6,1.1z"/>
<path fill="#3875fe" stroke="#214698" d="M283.1,237.4l0.3-0.2l-8-4.8l-0.3,0.4z"/>
<path fill="#f5e327" stroke="#d0c021" d="M272.4,236.7l0.3-0.3l-6.8-0.2l-0.2,0.5z"/>
<path fill="#4269fe" stroke="#273f98" d="M301.4,246.6l0.5-0.7l-8.5-5.5l-0.4,0.3z"/>
<path fill="#3e6fff" stroke="#254299" d="M310.6,250.9l0.5-1.2l-8.7-4.5l-0.5,0.7z"/>
<path fill="#1ca9df" stroke="#106585" d="M340.4,247.9l0.8-1.7l-9.1-0.5l-0.7,1.7z"/>
<path fill="#f7dc2a" stroke="#d1bb23" d="M272.2,237.1l0.2-0.4l-6.7,0l-0.1,0.5z"/>
<path fill="#3875fe" stroke="#214698" d="M282.8,237.5l0.3-0.1l-8-4.6l-0.2,0.3z"/>
<path fill="#3e6fff" stroke="#254299" d="M292.1,241.1l0.5-0.2l-8.5-4l-0.3,0.1z"/>
<path fill="#2b91ef" stroke="#19578f" d="M329.9,250.7l0.8-1.6l-8.9-1.1l-0.7,1.5z"/>
<path fill="#fad62d" stroke="#d4b526" d="M271.9,237.5l0.3-0.4l-6.6,0.1l-0.2,0.5z"/>
<path fill="#327cfc" stroke="#1e4a97" d="M319.8,252.4l0.7-1.5l-8.8-2.4l-0.6,1.2z"/>
<path fill="#12b1d6" stroke="#0a6a80" d="M350.2,246.6l0.9-1.8l-9.1-0.3l-0.8,1.7z"/>
<path fill="#fccf30" stroke="#d6af28" d="M271.7,237.8l0.2-0.3l-6.5,0.2l-0.1,0.5z"/>
<path fill="#4269fe" stroke="#273f98" d="M300.9,247.3l0.5-0.7l-8.4-5.9l-0.4,0.2z"/>
<path fill="#3875fe" stroke="#214698" d="M282.4,237.7l0.4-0.2l-7.9-4.4l-0.3,0.4z"/>
<path fill="#4269fe" stroke="#273f98" d="M310,252l0.6-1.1l-8.7-5l-0.5,0.7z"/>
<path fill="#01b8ca" stroke="#006e79" d="M362.9,245l1-2.2l-11.9,0.1l-0.9,1.9z"/>
<path fill="#3e6fff" stroke="#254299" d="M291.7,241.4l0.4-0.3l-8.3-4.1l-0.4,0.2z"/>
<path fill="#1ca9df" stroke="#106585" d="M339.6,249.7l0.8-1.8l-9-0.5l-0.7,1.7z"/>
<path fill="#2b91ef" stroke="#19578f" d="M329.2,252.4l0.7-1.7l-8.8-1.2l-0.6,1.4z"/>
<path fill="#3875fe" stroke="#214698" d="M319.2,253.9l0.6-1.5l-8.7-2.7l-0.5,1.2zM282.1,237.9l0.3-0.2l-7.8-4.2l-0.2,0.4z"/>
<path fill="#f8ba3d" stroke="#dfa736" d="M270.4,239.6l1.3-1.8l-6.4,0.4l-1.2,4.3z"/>
<path fill="#4269fe" stroke="#273f98" d="M300.4,248l0.5-0.7l-8.3-6.4l-0.5,0.2z"/>
<path fill="#12b1d6" stroke="#0a6a80" d="M349.3,248.5l0.9-1.9l-9-0.4l-0.8,1.7z"/>
<path fill="#4269fe" stroke="#273f98" d="M309.4,253.2l0.6-1.2l-8.6-5.4l-0.5,0.7z"/>
<path fill="#3e6fff" stroke="#254299" d="M291.3,241.6l0.4-0.2l-8.3-4.2l-0.3,0.2z"/>
<path fill="#3875fe" stroke="#214698" d="M281.7,238l0.4-0.1l-7.7-4l-0.3,0.3zM318.5,255.4l0.7-1.5l-8.6-3l-0.6,1.1z"/>
<path fill="#1ca9df" stroke="#106585" d="M338.8,251.4l0.8-1.7l-8.9-0.6l-0.8,1.6z"/>
<path fill="#2b91ef" stroke="#19578f" d="M328.5,254.1l0.7-1.7l-8.7-1.5l-0.7,1.5z"/>
<path fill="#01b8ca" stroke="#006e79" d="M362,247.3l0.9-2.3l-11.8-0.2l-0.9,1.8z"/>
<path fill="#4269fe" stroke="#273f98" d="M300,248.6l0.4-0.6l-8.3-6.9l-0.4,0.3z"/>
<path fill="#3875fe" stroke="#214698" d="M281.4,238.2l0.3-0.2l-7.6-3.8l-0.2,0.4z"/>
<path fill="#4563fd" stroke="#293b97" d="M308.9,254.4l0.5-1.2l-8.5-5.9l-0.5,0.7z"/>
<path fill="#3e6fff" stroke="#254299" d="M290.9,241.8l0.4-0.2l-8.2-4.2l-0.3,0.1z"/>
<path fill="#12b1d6" stroke="#0a6a80" d="M348.5,250.4l0.8-1.9l-8.9-0.6l-0.8,1.8z"/>
<path fill="#3e6fff" stroke="#254299" d="M317.9,256.9l0.6-1.5l-8.5-3.4l-0.6,1.2z"/>
<path fill="#3875fe" stroke="#214698" d="M281.1,238.3l0.3-0.1l-7.5-3.6l-0.3,0.3z"/>
<path fill="#2d8cf3" stroke="#1b5491" d="M327.8,255.7l0.7-1.6l-8.7-1.7l-0.6,1.5z"/>
<path fill="#20a5e3" stroke="#136388" d="M338,253.1l0.8-1.7l-8.9-0.7l-0.7,1.7z"/>
<path fill="#4563fd" stroke="#293b97" d="M299.5,249.3l0.5-0.7l-8.3-7.2l-0.4,0.2z"/>
<path fill="#3e6fff" stroke="#254299" d="M290.5,242.1l0.4-0.3l-8.1-4.3l-0.4,0.2z"/>
<path fill="#4563fd" stroke="#293b97" d="M308.3,255.5l0.6-1.1l-8.5-6.4l-0.4,0.6z"/>
<path fill="#01b8ca" stroke="#006e79" d="M361,249.5l1-2.2l-11.8-0.7l-0.9,1.9z"/>
<path fill="#3875fe" stroke="#214698" d="M280.7,238.5l0.4-0.2l-7.5-3.4l-0.2,0.4z"/>
<path fill="#3e6fff" stroke="#254299" d="M317.2,258.4l0.7-1.5l-8.5-3.7l-0.5,1.2z"/>
<path fill="#2d8cf3" stroke="#1b5491" d="M327.1,257.4l0.7-1.7l-8.6-1.8l-0.7,1.5z"/>
<path fill="#12b1d6" stroke="#0a6a80" d="M347.6,252.2l0.9-1.8l-8.9-0.7l-0.8,1.7z"/>
<path fill="#3e6fff" stroke="#254299" d="M290.1,242.3l0.4-0.2l-8.1-4.4l-0.3,0.2z"/>
<path fill="#4563fd" stroke="#293b97" d="M299,250l0.5-0.7l-8.2-7.7l-0.4,0.2z"/>
<path fill="#3875fe" stroke="#214698" d="M280.4,238.7l0.3-0.2l-7.3-3.2l-0.3,0.4z"/>
<path fill="#4563fd" stroke="#293b97" d="M307.7,256.7l0.6-1.2l-8.3-6.9l-0.5,0.7z"/>
<path fill="#20a5e3" stroke="#136388" d="M337.2,254.8l0.8-1.7l-8.8-0.7l-0.7,1.7z"/>
<path fill="#3875fe" stroke="#214698" d="M280,238.8l0.4-0.1l-7.3-3l-0.2,0.3z"/>
<path fill="#3e6fff" stroke="#254299" d="M316.6,259.8l0.6-1.4l-8.3-4l-0.6,1.1z"/>
<path fill="#01b8ca" stroke="#006e79" d="M360.1,251.7l0.9-2.2l-11.7-1l-0.8,1.9z"/>
<path fill="#3e6fff" stroke="#254299" d="M289.7,242.6l0.4-0.3l-8-4.4l-0.4,0.1z"/>
<path fill="#4563fd" stroke="#293b97" d="M298.5,250.7l0.5-0.7l-8.1-8.2l-0.4,0.3z"/>
<path fill="#2d8cf3" stroke="#1b5491" d="M326.3,259.1l0.8-1.7l-8.6-2l-0.6,1.5z"/>
<path fill="#465efb" stroke="#2a3896" d="M307.1,257.9l0.6-1.2l-8.2-7.4l-0.5,0.7z"/>
<path fill="#3875fe" stroke="#214698" d="M279.7,239l0.3-0.2l-7.1-2.8l-0.2,0.4z"/>
<path fill="#12b1d6" stroke="#0a6a80" d="M346.7,254.1l0.9-1.9l-8.8-0.8l-0.8,1.7z"/>
<path fill="#20a5e3" stroke="#136388" d="M336.4,256.5l0.8-1.7l-8.7-0.7l-0.7,1.6z"/>
<path fill="#4269fe" stroke="#273f98" d="M316,261.3l0.6-1.5l-8.3-4.3l-0.6,1.2z"/>
<path fill="#3e6fff" stroke="#254299" d="M289.2,242.8l0.5-0.2l-8-4.6l-0.3,0.2z"/>
<path fill="#3875fe" stroke="#214698" d="M279.4,239.1l0.3-0.1l-7-2.6l-0.3,0.3z"/>
<path fill="#4563fd" stroke="#293b97" d="M298,251.4l0.5-0.7l-8-8.6l-0.4,0.2z"/>
<path fill="#465efb" stroke="#2a3896" d="M306.6,259l0.5-1.1l-8.1-7.9l-0.5,0.7z"/>
<path fill="#2e87f7" stroke="#1b5194" d="M325.6,260.7l0.7-1.6l-8.4-2.2l-0.7,1.5z"/>
<path fill="#01b8ca" stroke="#006e79" d="M359.1,253.9l1-2.2l-11.6-1.3l-0.9,1.8z"/>
<path fill="#3e6fff" stroke="#254299" d="M288.8,243l0.4-0.2l-7.8-4.6l-0.3,0.1z"/>
<path fill="#3875fe" stroke="#214698" d="M279,239.3l0.4-0.2l-7-2.4l-0.2,0.4z"/>
<path fill="#20a5e3" stroke="#136388" d="M335.6,258.3l0.8-1.8l-8.6-0.8l-0.7,1.7z"/>
<path fill="#4269fe" stroke="#273f98" d="M315.3,262.8l0.7-1.5l-8.3-4.6l-0.6,1.2z"/>
<path fill="#12b1d6" stroke="#0a6a80" d="M345.9,256l0.8-1.9l-8.7-1l-0.8,1.7z"/>
<path fill="#4563fd" stroke="#293b97" d="M297.5,252l0.5-0.6l-7.9-9.1l-0.4,0.3z"/>
<path fill="#465efb" stroke="#2a3896" d="M306,260.2l0.6-1.2l-8.1-8.3l-0.5,0.7z"/>
<path fill="#2e87f7" stroke="#1b5194" d="M324.9,262.4l0.7-1.7l-8.4-2.3l-0.6,1.4z"/>
<path fill="#3875fe" stroke="#214698" d="M278.7,239.5l0.3-0.2l-6.8-2.2l-0.3,0.4z"/>
<path fill="#3e6fff" stroke="#254299" d="M288.4,243.3l0.4-0.3l-7.7-4.7l-0.4,0.2z"/>
<path fill="#4563fd" stroke="#293b97" d="M314.7,264.3l0.6-1.5l-8.2-4.9l-0.5,1.1z"/>
<path fill="#01b8ca" stroke="#006e79" d="M358.2,256.1l0.9-2.2l-11.5-1.7l-0.9,1.9z"/>
<path fill="#3875fe" stroke="#214698" d="M278.3,239.6l0.4-0.1l-6.8-2l-0.2,0.3z"/>
<path fill="#20a5e3" stroke="#136388" d="M334.8,260l0.8-1.7l-8.5-0.9l-0.8,1.7z"/>
<path fill="#465efb" stroke="#2a3896" d="M297,252.7l0.5-0.7l-7.8-9.4l-0.5,0.2z"/>
<path fill="#4758f8" stroke="#2a3494" d="M305.4,261.4l0.6-1.2l-8-8.8l-0.5,0.6z"/>
<path fill="#12b1d6" stroke="#0a6a80" d="M345,257.8l0.9-1.8l-8.7-1.2l-0.8,1.7z"/>
<path fill="#2e87f7" stroke="#1b5194" d="M324.2,264.1l0.7-1.7l-8.3-2.6l-0.6,1.5z"/>
<path fill="#3e6fff" stroke="#254299" d="M288,243.5l0.4-0.2l-7.7-4.8l-0.3,0.2z"/>
<path fill="#4563fd" stroke="#293b97" d="M314,265.8l0.7-1.5l-8.1-5.3l-0.6,1.2z"/>
<path fill="#465efb" stroke="#2a3896" d="M296.5,253.4l0.5-0.7l-7.8-9.9l-0.4,0.2z"/>
<path fill="#4758f8" stroke="#2a3494" d="M304.9,262.5l0.5-1.1l-7.9-9.4l-0.5,0.7z"/>
<path fill="#20a5e3" stroke="#136388" d="M334,261.7l0.8-1.7l-8.5-0.9l-0.7,1.6z"/>
<path fill="#3e6fff" stroke="#254299" d="M287.6,243.7l0.4-0.2l-7.6-4.8l-0.4,0.1z"/>
<path fill="#01b8ca" stroke="#006e79" d="M357.2,258.3l1-2.2l-11.5-2l-0.8,1.9z"/>
<path fill="#2f81fa" stroke="#1c4d96" d="M323.4,265.7l0.8-1.6l-8.2-2.8l-0.7,1.5z"/>
<path fill="#12b1d6" stroke="#0a6a80" d="M344.1,259.7l0.9-1.9l-8.6-1.3l-0.8,1.8z"/>
<path fill="#3875fe" stroke="#3269e4" d="M277.1,240.2l1.2-0.6l-6.6-1.8l-1.3,1.8z"/>
<path fill="#465efb" stroke="#2a3896" d="M313.4,267.2l0.6-1.4l-8-5.6l-0.6,1.2zM296,254.1l0.5-0.7l-7.7-10.4l-0.4,0.3z"/>
<path fill="#4758f8" stroke="#2a3494" d="M304.3,263.7l0.6-1.2l-7.9-9.8l-0.5,0.7z"/>
<path fill="#3e6fff" stroke="#254299" d="M287.2,244l0.4-0.3l-7.6-4.9l-0.3,0.2z"/>
<path fill="#23a0e5" stroke="#156089" d="M333.2,263.4l0.8-1.7l-8.4-1l-0.7,1.7z"/>
<path fill="#2f81fa" stroke="#1c4d96" d="M322.7,267.4l0.7-1.7l-8.1-2.9l-0.6,1.5z"/>
<path fill="#465efb" stroke="#2a3896" d="M312.7,268.7l0.7-1.5l-8-5.8l-0.5,1.1z"/>
<path fill="#01b8ca" stroke="#006e79" d="M356.3,260.5l0.9-2.2l-11.3-2.3l-0.9,1.8z"/>
<path fill="#4758f8" stroke="#2a3494" d="M295.5,254.8l0.5-0.7l-7.6-10.8l-0.4,0.2z"/>
<path fill="#12b1d6" stroke="#0a6a80" d="M343.3,261.5l0.8-1.8l-8.5-1.4l-0.8,1.7z"/>
<path fill="#4852f4" stroke="#2b3192" d="M303.7,264.9l0.6-1.2l-7.8-10.3l-0.5,0.7z"/>
<path fill="#3e6fff" stroke="#254299" d="M286.8,244.2l0.4-0.2l-7.5-5l-0.3,0.1z"/>
<path fill="#2f81fa" stroke="#1c4d96" d="M322,269.1l0.7-1.7l-8-3.1l-0.7,1.5z"/>
<path fill="#23a0e5" stroke="#156089" d="M332.4,265.2l0.8-1.8l-8.3-1l-0.7,1.7z"/>
<path fill="#4758f8" stroke="#2a3494" d="M312.1,270.2l0.6-1.5l-7.8-6.2l-0.6,1.2zM295,255.4l0.5-0.6l-7.5-11.3l-0.4,0.2z"/>
<path fill="#3e6fff" stroke="#254299" d="M286.3,244.5l0.5-0.3l-7.4-5.1l-0.4,0.2z"/>
<path fill="#484df0" stroke="#2b2e90" d="M303.2,266l0.5-1.1l-7.7-10.8l-0.5,0.7z"/>
<path fill="#01b8ca" stroke="#006e79" d="M355.3,262.7l1-2.2l-11.3-2.7l-0.9,1.9z"/>
<path fill="#12b1d6" stroke="#0a6a80" d="M342.4,263.4l0.9-1.9l-8.5-1.5l-0.8,1.7z"/>
<path fill="#327cfc" stroke="#1e4a97" d="M321.3,270.8l0.7-1.7l-8-3.3l-0.6,1.4z"/>
<path fill="#4852f4" stroke="#2b3192" d="M311.5,271.7l0.6-1.5l-7.8-6.5l-0.6,1.2z"/>
<path fill="#3e6fff" stroke="#254299" d="M285.9,244.7l0.4-0.2l-7.3-5.2l-0.3,0.2z"/>
<path fill="#4758f8" stroke="#2a3494" d="M294.5,256.1l0.5-0.7l-7.4-11.7l-0.4,0.3z"/>
<path fill="#23a0e5" stroke="#156089" d="M331.6,266.9l0.8-1.7l-8.2-1.1l-0.8,1.6z"/>
<path fill="#484df0" stroke="#2b2e90" d="M302.6,267.2l0.6-1.2l-7.7-11.2l-0.5,0.6z"/>
<path fill="#12b1d6" stroke="#0a6a80" d="M341.5,265.3l0.9-1.9l-8.4-1.7l-0.8,1.7z"/>
<path fill="#3e6fff" stroke="#254299" d="M285.5,244.9l0.4-0.2l-7.2-5.2l-0.4,0.1z"/>
<path fill="#01b8ca" stroke="#006e79" d="M354.3,264.9l1-2.2l-11.2-3l-0.8,1.8z"/>
<path fill="#4852f4" stroke="#2b3192" d="M310.8,273.2l0.7-1.5l-7.8-6.8l-0.5,1.1z"/>
<path fill="#327cfc" stroke="#1e4a97" d="M320.6,272.4l0.7-1.6l-7.9-3.6l-0.7,1.5z"/>
<path fill="#4852f4" stroke="#2b3192" d="M294,256.8l0.5-0.7l-7.3-12.1l-0.4,0.2z"/>
<path fill="#4747eb" stroke="#2a2a8d" d="M302,268.3l0.6-1.1l-7.6-11.8l-0.5,0.7z"/>
<path fill="#23a0e5" stroke="#156089" d="M330.8,268.6l0.8-1.7l-8.2-1.2l-0.7,1.7z"/>
<path fill="#484df0" stroke="#2b2e90" d="M310.2,274.7l0.6-1.5l-7.6-7.2l-0.6,1.2z"/>
<path fill="#4852f4" stroke="#2b3192" d="M293.5,257.5l0.5-0.7l-7.2-12.6l-0.5,0.3z"/>
<path fill="#3875fe" stroke="#214698" d="M319.8,274.1l0.8-1.7l-7.9-3.7l-0.6,1.5z"/>
<path fill="#4741e5" stroke="#2a2789" d="M301.5,269.5l0.5-1.2l-7.5-12.2l-0.5,0.7z"/>
<path fill="#12b1d6" stroke="#0a6a80" d="M340.7,267.1l0.8-1.8l-8.3-1.9l-0.8,1.8z"/>
<path fill="#01b8ca" stroke="#006e79" d="M353.4,267.1l0.9-2.2l-11-3.4l-0.9,1.9z"/>
<path fill="#23a0e5" stroke="#156089" d="M330,270.3l0.8-1.7l-8.1-1.2l-0.7,1.7z"/>
<path fill="#4269fe" stroke="#3b5ee4" d="M284.3,245.6l1.2-0.7l-7.2-5.3l-1.2,0.6z"/>
<path fill="#4747eb" stroke="#2a2a8d" d="M309.5,276.1l0.7-1.4l-7.6-7.5l-0.6,1.1z"/>
<path fill="#4852f4" stroke="#2b3192" d="M293,258.2l0.5-0.7l-7.2-13l-0.4,0.2z"/>
<path fill="#4741e5" stroke="#2a2789" d="M300.9,270.7l0.6-1.2l-7.5-12.7l-0.5,0.7z"/>
<path fill="#3875fe" stroke="#214698" d="M319.1,275.8l0.7-1.7l-7.7-3.9l-0.6,1.5z"/>
<path fill="#12b1d6" stroke="#0a6a80" d="M339.8,269l0.9-1.9l-8.3-1.9l-0.8,1.7z"/>
<path fill="#23a0e5" stroke="#156089" d="M329.2,272.1l0.8-1.8l-8-1.2l-0.7,1.7z"/>
<path fill="#01b8ca" stroke="#006e79" d="M352.4,269.3l1-2.2l-11-3.7l-0.9,1.9z"/>
<path fill="#484df0" stroke="#2b2e90" d="M292.5,258.8l0.5-0.6l-7.1-13.5l-0.4,0.2z"/>
<path fill="#4741e5" stroke="#2a2789" d="M308.9,277.6l0.6-1.5l-7.5-7.8l-0.5,1.2z"/>
<path fill="#463cde" stroke="#2a2485" d="M300.3,271.8l0.6-1.1l-7.4-13.2l-0.5,0.7z"/>
<path fill="#3e6fff" stroke="#254299" d="M318.4,277.4l0.7-1.6l-7.6-4.1l-0.7,1.5z"/>
<path fill="#463cde" stroke="#2a2485" d="M308.2,279.1l0.7-1.5l-7.4-8.1l-0.6,1.2z"/>
<path fill="#23a0e5" stroke="#156089" d="M328.4,273.8l0.8-1.7l-7.9-1.3l-0.7,1.6z"/>
<path fill="#12b1d6" stroke="#0a6a80" d="M338.9,270.9l0.9-1.9l-8.2-2.1l-0.8,1.7z"/>
<path fill="#4537d5" stroke="#29217f" d="M299.7,273l0.6-1.2l-7.3-13.6l-0.5,0.6z"/>
<path fill="#3e6fff" stroke="#254299" d="M317.7,279.1l0.7-1.7l-7.6-4.2l-0.6,1.5z"/>
<path fill="#01b8ca" stroke="#006e79" d="M351.5,271.6l0.9-2.3l-10.9-4l-0.8,1.8z"/>
<path fill="#4747eb" stroke="#3f3fd3" d="M291.3,260.5l1.2-1.7l-7-13.9l-1.2,0.7z"/>
<path fill="#4537d5" stroke="#29217f" d="M307.6,280.6l0.6-1.5l-7.3-8.4l-0.6,1.1z"/>
<path fill="#259be8" stroke="#165d8b" d="M327.6,275.5l0.8-1.7l-7.8-1.4l-0.8,1.7z"/>
<path fill="#4269fe" stroke="#273f98" d="M317,280.8l0.7-1.7l-7.5-4.4l-0.7,1.4z"/>
<path fill="#12b1d6" stroke="#0a6a80" d="M338,272.7l0.9-1.8l-8.1-2.3l-0.8,1.7z"/>
<path fill="#4332cb" stroke="#3c2db6" d="M298.5,275.5l1.2-2.5l-7.2-14.2l-1.2,1.7z"/>
<path fill="#01b8ca" stroke="#006e79" d="M350.5,273.8l1-2.2l-10.8-4.5l-0.9,1.9z"/>
<path fill="#4537d5" stroke="#29217f" d="M306.9,282.1l0.7-1.5l-7.3-8.8l-0.6,1.2z"/>
<path fill="#259be8" stroke="#165d8b" d="M326.8,277.2l0.8-1.7l-7.8-1.4l-0.7,1.7z"/>
<path fill="#4563fd" stroke="#293b97" d="M316.2,282.4l0.8-1.6l-7.5-4.7l-0.6,1.5z"/>
<path fill="#12b1d6" stroke="#0a6a80" d="M337.2,274.6l0.8-1.9l-8-2.4l-0.8,1.8z"/>
<path fill="#01b8ca" stroke="#006e79" d="M349.6,276l0.9-2.2l-10.7-4.8l-0.9,1.9z"/>
<path fill="#422ec0" stroke="#3b29ac" d="M305.7,284.9l1.2-2.8l-7.2-9.1l-1.2,2.5z"/>
<path fill="#4563fd" stroke="#293b97" d="M315.5,284.1l0.7-1.7l-7.3-4.8l-0.7,1.5z"/>
<path fill="#259be8" stroke="#165d8b" d="M326,279l0.8-1.8l-7.7-1.4l-0.7,1.6z"/>
<path fill="#12b1d6" stroke="#0a6a80" d="M336.3,276.5l0.9-1.9l-8-2.5l-0.8,1.7z"/>
<path fill="#465efb" stroke="#2a3896" d="M314.8,285.8l0.7-1.7l-7.3-5l-0.6,1.5z"/>
<path fill="#01b8ca" stroke="#006e79" d="M348.6,278.2l1-2.2l-10.7-5.1l-0.9,1.8z"/>
<path fill="#259be8" stroke="#165d8b" d="M325.2,280.7l0.8-1.7l-7.6-1.6l-0.7,1.7z"/>
<path fill="#12b1d6" stroke="#0a6a80" d="M335.4,278.3l0.9-1.8l-7.9-2.7l-0.8,1.7z"/>
<path fill="#465efb" stroke="#2a3896" d="M314.1,287.4l0.7-1.6l-7.2-5.2l-0.7,1.5z"/>
<path fill="#259be8" stroke="#165d8b" d="M324.4,282.4l0.8-1.7l-7.5-1.6l-0.7,1.7z"/>
<path fill="#01b8ca" stroke="#006e79" d="M347.7,280.4l0.9-2.2l-10.6-5.5l-0.8,1.9z"/>
<path fill="#12b1d6" stroke="#0a6a80" d="M334.6,280.2l0.8-1.9l-7.8-2.8l-0.8,1.7z"/>
<path fill="#4758f8" stroke="#3f4fdf" d="M312.9,290.3l1.2-2.9l-7.2-5.3l-1.2,2.8z"/>
<path fill="#2797eb" stroke="#175a8d" d="M323.6,284.1l0.8-1.7l-7.4-1.6l-0.8,1.6z"/>
<path fill="#01b8ca" stroke="#006e79" d="M346.7,282.6l1-2.2l-10.5-5.8l-0.9,1.9z"/>
<path fill="#12b1d6" stroke="#0a6a80" d="M333.7,282.1l0.9-1.9l-7.8-3l-0.8,1.8z"/>
<path fill="#2797eb" stroke="#175a8d" d="M322.8,285.8l0.8-1.7l-7.4-1.7l-0.7,1.7z"/>
<path fill="#01b8ca" stroke="#006e79" d="M345.8,284.8l0.9-2.2l-10.4-6.1l-0.9,1.8z"/>
<path fill="#12b1d6" stroke="#0a6a80" d="M332.8,283.9l0.9-1.8l-7.7-3.1l-0.8,1.7z"/>
<path fill="#2797eb" stroke="#175a8d" d="M322,287.6l0.8-1.8l-7.3-1.7l-0.7,1.7z"/>
<path fill="#01b8ca" stroke="#006e79" d="M344.8,287l1-2.2l-10.4-6.5l-0.8,1.9z"/>
<path fill="#12b1d6" stroke="#0a6a80" d="M332,285.8l0.8-1.9l-7.6-3.2l-0.8,1.7z"/>
<path fill="#2797eb" stroke="#175a8d" d="M321.2,289.3l0.8-1.7l-7.2-1.8l-0.7,1.6z"/>
<path fill="#01b8ca" stroke="#006e79" d="M343.8,289.2l1-2.2l-10.2-6.8l-0.9,1.9z"/>
<path fill="#12b1d6" stroke="#0a6a80" d="M331.1,287.6l0.9-1.8l-7.6-3.4l-0.8,1.7z"/>
<path fill="#2b91ef" stroke="#2682d7" d="M320,291.9l1.2-2.6l-7.1-1.9l-1.2,2.9z"/>
<path fill="#01b8ca" stroke="#006e79" d="M342.9,291.4l0.9-2.2l-10.1-7.1l-0.9,1.8z"/>
<path fill="#18addb" stroke="#0e6783" d="M330.2,289.5l0.9-1.9l-7.5-3.5l-0.8,1.7z"/>
<path fill="#01b8ca" stroke="#006e79" d="M341.9,293.7l1-2.3l-10.1-7.5l-0.8,1.9z"/>
<path fill="#18addb" stroke="#0e6783" d="M329.3,291.4l0.9-1.9l-7.4-3.7l-0.8,1.8zM328.5,293.2l0.8-1.8l-7.3-3.8l-0.8,1.7z"/>
<path fill="#01b8ca" stroke="#006e79" d="M341,295.9l0.9-2.2l-9.9-7.9l-0.9,1.8zM340,298.1l1-2.2l-9.9-8.3l-0.9,1.9z"/>
<path fill="#18addb" stroke="#159bc5" d="M327.3,295.8l1.2-2.6l-7.3-3.9l-1.2,2.6z"/>
<path fill="#01b8ca" stroke="#006e79" d="M339.1,300.3l0.9-2.2l-9.8-8.6l-0.9,1.9zM338.1,302.5l1-2.2l-9.8-8.9l-0.8,1.8z"/>
<path fill="#01b8ca" stroke="#00a5b5" d="M336.9,305.3l1.2-2.8l-9.6-9.3l-1.2,2.6z"/>
</g>
<path fill="none" stroke="#000" stroke-opacity="0.45" stroke-width="0.3" d="M336.9,305.3l1.2-2.8l1-2.2l0.9-2.2l1-2.2l0.9-2.2l1-2.3l0.9-2.2l1-2.2l1-2.2l0.9-2.2l1-2.2l0.9-2.2l1-2.2l0.9-2.2l1-2.2l0.9-2.3l1-2.2l0.9-2.2l1-2.2l1-2.2l0.9-2.2l1-2.2l0.9-2.2l1-2.2l0.9-2.2l1-2.2l0.9-2.3l1-2.2M327.3,295.8l1.2-2.6l0.8-1.8l0.9-1.9l0.9-1.9l0.9-1.8l0.8-1.9l0.9-1.8l0.9-1.9l0.8-1.9l0.9-1.8l0.9-1.9l0.8-1.9l0.9-1.8l0.9-1.9l0.9-1.9l0.8-1.8l0.9-1.9l0.9-1.9l0.8-1.8l0.9-1.9l0.9-1.8l0.8-1.9l0.9-1.9l0.9-1.8l0.8-1.9l0.9-1.9l0.9-1.8l0.9-1.9M320,291.9l1.2-2.6l0.8-1.7l0.8-1.8l0.8-1.7l0.8-1.7l0.8-1.7l0.8-1.7l0.8-1.8l0.8-1.7l0.8-1.7l0.8-1.7l0.8-1.8l0.8-1.7l0.8-1.7l0.8-1.7l0.8-1.8l0.8-1.7l0.8-1.7l0.8-1.7l0.8-1.8l0.8-1.7l0.8-1.7l0.8-1.7l0.8-1.7l0.8-1.8l0.8-1.7l0.8-1.7l0.7-1.7M312.9,290.3l1.2-2.9l0.7-1.6l0.7-1.7l0.7-1.7l0.8-1.6l0.7-1.7l0.7-1.7l0.7-1.6l0.7-1.7l0.8-1.7l0.7-1.6l0.7-1.7l0.7-1.7l0.7-1.7l0.8-1.6l0.7-1.7l0.7-1.7l0.7-1.6l0.8-1.7l0.7-1.7l0.7-1.6l0.7-1.7l0.7-1.7l0.8-1.6l0.7-1.7l0.7-1.7l0.7-1.7l0.7-1.6M305.7,284.9l1.2-2.8l0.7-1.5l0.6-1.5l0.7-1.5l0.6-1.5l0.7-1.4l0.6-1.5l0.7-1.5l0.6-1.5l0.6-1.5l0.7-1.5l0.6-1.4l0.7-1.5l0.6-1.5l0.7-1.5l0.6-1.5l0.6-1.4l0.7-1.5l0.6-1.5l0.7-1.5l0.6-1.5l0.7-1.5l0.6-1.4l0.7-1.5l0.6-1.5l0.6-1.5l0.7-1.5l0.6-1.4M298.5,275.5l1.2-2.5l0.6-1.2l0.6-1.1l0.6-1.2l0.5-1.2l0.6-1.1l0.6-1.2l0.5-1.1l0.6-1.2l0.6-1.2l0.5-1.1l0.6-1.2l0.6-1.2l0.5-1.1l0.6-1.2l0.6-1.2l0.6-1.1l0.5-1.2l0.6-1.2l0.6-1.1l0.5-1.2l0.6-1.2l0.6-1.1l0.5-1.2l0.6-1.2l0.6-1.1l0.6-1.2l0.5-1.2M291.3,260.5l1.2-1.7l0.5-0.6l0.5-0.7l0.5-0.7l0.5-0.7l0.5-0.7l0.5-0.6l0.5-0.7l0.5-0.7l0.5-0.7l0.5-0.7l0.5-0.6l0.5-0.7l0.5-0.7l0.5-0.7l0.5-0.7l0.4-0.6l0.5-0.7l0.5-0.7l0.5-0.7l0.5-0.7l0.5-0.7l0.5-0.6l0.5-0.7l0.5-0.7l0.5-0.7l0.5-0.7l0.5-0.6M284.3,245.6l1.2-0.7l0.4-0.2l0.4-0.2l0.5-0.3l0.4-0.2l0.4-0.3l0.4-0.2l0.4-0.2l0.4-0.3l0.4-0.2l0.5-0.2l0.4-0.3l0.4-0.2l0.4-0.3l0.4-0.2l0.4-0.2l0.4-0.3l0.5-0.2l0.4-0.2l0.4-0.3l0.4-0.2l0.4-0.3l0.4-0.2l0.4-0.2l0.5-0.3l0.4-0.2l0.4-0.2l0.4-0.3M277.1,240.2l1.2-0.6l0.4-0.1l0.3-0.2l0.4-0.2l0.3-0.1l0.3-0.2l0.4-0.1l0.3-0.2l0.4-0.2l0.3-0.1l0.3-0.2l0.4-0.1l0.3-0.2l0.4-0.2l0.3-0.1l0.3-0.2l0.4-0.2l0.3-0.1l0.3-0.2l0.4-0.1l0.3-0.2l0.4-0.2l0.3-0.1l0.3-0.2l0.4-0.2l0.3-0.1l0.4-0.2l0.3-0.1M270.4,239.6l1.3-1.8l0.2-0.3l0.3-0.4l0.2-0.4l0.3-0.3l0.2-0.4l0.2-0.3l0.3-0.4l0.2-0.4l0.3-0.3l0.2-0.4l0.3-0.3l0.2-0.4l0.3-0.4l0.2-0.3l0.3-0.4l0.2-0.4l0.3-0.3l0.2-0.4l0.3-0.3l0.2-0.4l0.3-0.4l0.2-0.3l0.3-0.4l0.2-0.3l0.3-0.4l0.2-0.4l0.3-0.3M264.1,242.5l1.2-4.3l0.1-0.5l0.2-0.5l0.1-0.5l0.2-0.5l0.1-0.5l0.1-0.5l0.2-0.5l0.1-0.5l0.2-0.5l0.1-0.5l0.2-0.5l0.1-0.5l0.2-0.5l0.1-0.5l0.1-0.5l0.2-0.5l0.1-0.5l0.2-0.5l0.1-0.5l0.2-0.5l0.1-0.5l0.2-0.5l0.1-0.5l0.1-0.5l0.2-0.5l0.1-0.5l0.2-0.5M260.5,240.8l0.7-4.7l0-0.5l0.1-0.4l0.1-0.4l0-0.4l0.1-0.4l0-0.4l0.1-0.4l0-0.4l0.1-0.5l0-0.4l0.1-0.4l0.1-0.4l0-0.4l0.1-0.4l0-0.4l0.1-0.4l0-0.4l0.1-0.5l0.1-0.4l0-0.4l0.1-0.4l0-0.4l0.1-0.4l0-0.4l0.1-0.4l0-0.5l0.1-0.4"/>
<text x="281.5" y="330.1" font-size="5.4" text-anchor="middle" font-family="Liberation Serif, serif" fill="#333" fill-opacity="0.8" transform="rotate(9 281.5 328.4)"><tspan font-style="italic">y</tspan>/<tspan font-style="italic">s</tspan><tspan font-size="3.8" dy="1">m</tspan></text>
<text x="368.2" y="312" font-size="5.4" text-anchor="middle" font-family="Liberation Serif, serif" fill="#333" fill-opacity="0.8"><tspan font-style="italic">x</tspan>/<tspan font-style="italic">c</tspan><tspan font-size="4" dy="1">r,m</tspan></text>
<text x="219.5" y="296.5" font-size="5.4" text-anchor="middle" font-family="Liberation Serif, serif" fill="#333" fill-opacity="0.8" transform="rotate(-90 219.5 295)">ε<tspan font-size="4" dy="1">mode 2</tspan></text>
<rect x="380.6" y="202.2" width="6.4" height="119.9" fill="url(#par)" stroke="#999" stroke-width="0.3"/>
<text x="388.5" y="310.5" font-size="5.0" text-anchor="start" font-family="Liberation Serif, serif" fill="#333" >−3</text>
<text x="388.5" y="296.3" font-size="5.0" text-anchor="start" font-family="Liberation Serif, serif" fill="#333" >−2</text>
<text x="388.5" y="282" font-size="5.0" text-anchor="start" font-family="Liberation Serif, serif" fill="#333" >−1</text>
<text x="388.5" y="267.8" font-size="5.0" text-anchor="start" font-family="Liberation Serif, serif" fill="#333" >0</text>
<text x="388.5" y="253.5" font-size="5.0" text-anchor="start" font-family="Liberation Serif, serif" fill="#333" >1</text>
<text x="388.5" y="239.3" font-size="5.0" text-anchor="start" font-family="Liberation Serif, serif" fill="#333" >2</text>
<text x="388.5" y="225" font-size="5.0" text-anchor="start" font-family="Liberation Serif, serif" fill="#333" >3</text>
<text x="388.5" y="210.7" font-size="5.0" text-anchor="start" font-family="Liberation Serif, serif" fill="#333" >4</text>
<text x="379" y="198" font-size="4.2" text-anchor="middle" font-family="Liberation Serif, serif" fill="#333" >×10<tspan font-size="3" dy="-1.6">−3</tspan></text>
<text x="243.9" y="354.8" font-size="10.3" font-family="Liberation Serif, serif" fill="#1a1a1a" stroke="#1a1a1a" stroke-width="0.14" textLength="137" lengthAdjust="spacingAndGlyphs">(<tspan font-weight="bold">d</tspan>) Deviation of the second mode</text>
<path stroke="#e2e2e2" stroke-width="0.45" fill="none" d="M130.6,515.5L29.8,498.3L29.8,455.8M135.9,502.6L35.1,485.4L35.1,442.9M141.2,489.7L40.4,472.5L40.4,430M146.4,476.7L45.6,459.5L45.6,417.1M151.7,463.8L50.9,446.6L50.9,404.2M157,450.9L56.2,433.7L56.2,391.2M130.6,515.5L157,450.9L157,408.4M110.4,512.1L136.8,447.5L136.8,405M90.3,508.6L116.7,444L116.7,401.6M70.1,505.2L96.5,440.6L96.5,398.1M50,501.7L76.4,437.1L76.4,394.7M29.8,498.3L56.2,433.7L56.2,391.2M29.8,488.8L56.2,424.2L157,441.4M29.8,477.8L56.2,413.2L157,430.4M29.8,466.8L56.2,402.2L157,419.4M29.8,455.8L56.2,391.2L157,408.4"/>
<path stroke="#999" stroke-width="0.55" fill="none" d="M157,450.9L130.6,515.5L29.8,498.3M130.6,515.5L131.2,514M110.4,512.1L111,510.6M90.3,508.6L90.9,507.1M70.1,505.2L70.7,503.7M50,501.7L50.6,500.3M29.8,498.3L30.4,496.8M130.6,515.5L129,515.2M135.9,502.6L134.3,502.3M141.2,489.7L139.6,489.4M146.4,476.7L144.9,476.5M151.7,463.8L150.1,463.6M157,450.9L155.4,450.6"/>
<text x="129.1" y="522.9" font-size="5.0" text-anchor="middle" font-family="Liberation Serif, serif" fill="#333" >0</text>
<text x="108.9" y="519.5" font-size="5.0" text-anchor="middle" font-family="Liberation Serif, serif" fill="#333" >0.2</text>
<text x="88.8" y="516" font-size="5.0" text-anchor="middle" font-family="Liberation Serif, serif" fill="#333" >0.4</text>
<text x="68.6" y="512.6" font-size="5.0" text-anchor="middle" font-family="Liberation Serif, serif" fill="#333" >0.6</text>
<text x="48.5" y="509.1" font-size="5.0" text-anchor="middle" font-family="Liberation Serif, serif" fill="#333" >0.8</text>
<text x="28.3" y="505.7" font-size="5.0" text-anchor="middle" font-family="Liberation Serif, serif" fill="#333" >1</text>
<text x="136.9" y="521.7" font-size="5.0" text-anchor="middle" font-family="Liberation Serif, serif" fill="#333" >0</text>
<text x="142.2" y="508.8" font-size="5.0" text-anchor="middle" font-family="Liberation Serif, serif" fill="#333" >0.2</text>
<text x="147.5" y="495.9" font-size="5.0" text-anchor="middle" font-family="Liberation Serif, serif" fill="#333" >0.4</text>
<text x="152.7" y="482.9" font-size="5.0" text-anchor="middle" font-family="Liberation Serif, serif" fill="#333" >0.6</text>
<text x="158" y="470" font-size="5.0" text-anchor="middle" font-family="Liberation Serif, serif" fill="#333" >0.8</text>
<text x="163.3" y="457.1" font-size="5.0" text-anchor="middle" font-family="Liberation Serif, serif" fill="#333" >1</text>
<text x="26.5" y="491.8" font-size="5.0" text-anchor="end" font-family="Liberation Serif, serif" fill="#333" >−0.5</text>
<text x="26.5" y="480.8" font-size="5.0" text-anchor="end" font-family="Liberation Serif, serif" fill="#333" >0</text>
<text x="26.5" y="469.8" font-size="5.0" text-anchor="end" font-family="Liberation Serif, serif" fill="#333" >0.5</text>
<text x="26.5" y="458.8" font-size="5.0" text-anchor="end" font-family="Liberation Serif, serif" fill="#333" >1</text>
<g stroke-width="0.3">
<path fill="#2e87f7" stroke="#1d569e" d="M62.5,420.3l0.2-0.3l-6.5,6.6l-0.1,0.1zM62.4,420.7l0.1-0.4l-6.4,6.4l0,0.1zM62.2,421.1l0.2-0.4l-6.3,6.1l-0.1,0.2zM62.1,421.5l0.1-0.4l-6.2,5.9l0,0.1z"/>
<path fill="#2f81fa" stroke="#1e52a0" d="M61.9,421.9l0.2-0.4l-6.1,5.6l-0.1,0.1zM61.8,422.3l0.1-0.4l-6,5.3l0,0.1zM61.7,422.6l0.1-0.3l-5.9,5l-0.1,0.1zM61.5,423l0.2-0.4l-5.9,4.8l0,0.1zM61.4,423.4l0.1-0.4l-5.7,4.5l-0.1,0.1z"/>
<path fill="#327cfc" stroke="#204fa1" d="M61.2,423.8l0.2-0.4l-5.7,4.2l0,0.1zM61.1,424.2l0.1-0.4l-5.5,3.9l-0.1,0.1zM61,424.6l0.1-0.4l-5.5,3.6l-0.1,0.1zM60.8,424.9l0.2-0.3l-5.5,3.3l0,0.1zM60.7,425.3l0.1-0.4l-5.3,3.1l-0.1,0.1z"/>
<path fill="#3875fe" stroke="#234aa2" d="M60.5,425.7l0.2-0.4l-5.3,2.8l0,0.2zM60.4,426.1l0.1-0.4l-5.1,2.6l-0.1,0.1zM60.3,426.5l0.1-0.4l-5.1,2.3l0,0.1zM60.1,426.9l0.2-0.4l-5,2l-0.1,0.1z"/>
<path fill="#3e6fff" stroke="#2747a3" d="M60,427.2l0.1-0.3l-4.9,1.7l0,0.1zM59.8,427.6l0.2-0.4l-4.8,1.5l-0.1,0.1z"/>
<path fill="#4269fe" stroke="#2a43a2" d="M59.7,428l0.1-0.4l-4.7,1.2l0,0.1z"/>
<path fill="#4563fd" stroke="#2c3fa1" d="M59.5,428.4l0.2-0.4l-4.6,0.9l-0.1,0.1zM59.4,428.8l0.1-0.4l-4.5,0.6l-0.1,0.1z"/>
<path fill="#465efb" stroke="#2c3ca0" d="M59.3,429.2l0.1-0.4l-4.5,0.3l0,0.1z"/>
<path fill="#4758f8" stroke="#2d389e" d="M59.1,429.5l0.2-0.3l-4.4,0l-0.1,0.1z"/>
<path fill="#4852f4" stroke="#2e349c" d="M59,429.9l0.1-0.4l-4.3-0.2l0,0.1z"/>
<path fill="#484df0" stroke="#2e3199" d="M58.8,430.3l0.2-0.4l-4.2-0.5l-0.1,0.2z"/>
<path fill="#422ec0" stroke="#3b29ac" d="M57.7,433.5l1.1-3.2l-4.1-0.7l-0.6,1.2z"/>
<path fill="#0bbdbd" stroke="#077878" d="M71.6,411.7l0.2-0.7l-9.1,9l-0.2,0.3zM71.3,412.5l0.3-0.8l-9.1,8.6l-0.1,0.4zM71.1,413.3l0.2-0.8l-8.9,8.2l-0.2,0.4z"/>
<path fill="#02bac3" stroke="#01777c" d="M70.8,414l0.3-0.7l-8.9,7.8l-0.1,0.4zM70.6,414.8l0.2-0.8l-8.7,7.5l-0.2,0.4z"/>
<path fill="#01b8ca" stroke="#007581" d="M70.4,415.6l0.2-0.8l-8.7,7.1l-0.1,0.4zM70.1,416.3l0.3-0.7l-8.6,6.7l-0.1,0.3zM69.9,417.1l0.2-0.8l-8.4,6.3l-0.2,0.4z"/>
<path fill="#08b5d0" stroke="#057385" d="M69.6,417.8l0.3-0.7l-8.4,5.9l-0.1,0.4zM69.4,418.6l0.2-0.8l-8.2,5.6l-0.2,0.4z"/>
<path fill="#12b1d6" stroke="#0b7188" d="M69.1,419.4l0.3-0.8l-8.2,5.2l-0.1,0.4zM68.9,420.1l0.2-0.7l-8,4.8l-0.1,0.4zM68.7,420.9l0.2-0.8l-7.9,4.5l-0.2,0.3z"/>
<path fill="#18addb" stroke="#0f6e8c" d="M68.4,421.6l0.3-0.7l-7.9,4l-0.1,0.4zM68.2,422.4l0.2-0.8l-7.7,3.7l-0.2,0.4zM67.9,423.2l0.3-0.8l-7.7,3.3l-0.1,0.4z"/>
<path fill="#1ca9df" stroke="#116c8e" d="M67.7,423.9l0.2-0.7l-7.5,2.9l-0.1,0.4z"/>
<path fill="#20a5e3" stroke="#146991" d="M67.4,424.7l0.3-0.8l-7.4,2.6l-0.2,0.4z"/>
<path fill="#23a0e5" stroke="#166692" d="M67.2,425.4l0.2-0.7l-7.3,2.2l-0.1,0.3z"/>
<path fill="#2797eb" stroke="#186096" d="M66.9,426.2l0.3-0.8l-7.2,1.8l-0.2,0.4z"/>
<path fill="#2b91ef" stroke="#1b5c98" d="M66.7,427l0.2-0.8l-7.1,1.4l-0.1,0.4z"/>
<path fill="#81cc59" stroke="#528238" d="M80.6,406.3l0.3-1.1l-9.1,5.8l-0.2,0.7z"/>
<path fill="#2e87f7" stroke="#1d569e" d="M66.5,427.7l0.2-0.7l-7,1l-0.2,0.4z"/>
<path fill="#81cc59" stroke="#528238" d="M80.2,407.3l0.4-1l-9,5.4l-0.3,0.8z"/>
<path fill="#2f81fa" stroke="#1e52a0" d="M66.2,428.5l0.3-0.8l-7,0.7l-0.1,0.4z"/>
<path fill="#72cd64" stroke="#488340" d="M79.9,408.3l0.3-1l-8.9,5.2l-0.2,0.8z"/>
<path fill="#327cfc" stroke="#204fa1" d="M66,429.3l0.2-0.8l-6.8,0.3l-0.1,0.4z"/>
<path fill="#3e6fff" stroke="#2747a3" d="M65.7,430l0.3-0.7l-6.7-0.1l-0.2,0.3z"/>
<path fill="#72cd64" stroke="#488340" d="M79.6,409.4l0.3-1.1l-8.8,5l-0.3,0.7z"/>
<path fill="#4269fe" stroke="#2a43a2" d="M65.5,430.8l0.2-0.8l-6.6-0.5l-0.1,0.4z"/>
<path fill="#64cd6f" stroke="#408347" d="M79.2,410.4l0.4-1l-8.8,4.6l-0.2,0.8z"/>
<path fill="#465efb" stroke="#2c3ca0" d="M65.2,431.5l0.3-0.7l-6.5-0.9l-0.2,0.4z"/>
<path fill="#64cd6f" stroke="#408347" d="M78.9,411.5l0.3-1.1l-8.6,4.4l-0.2,0.8z"/>
<path fill="#57cc7a" stroke="#37824e" d="M78.6,412.5l0.3-1l-8.5,4.1l-0.3,0.7z"/>
<path fill="#4537d5" stroke="#3e31bf" d="M64.1,435.2l1.1-3.7l-6.4-1.2l-1.1,3.2z"/>
<path fill="#57cc7a" stroke="#37824e" d="M78.2,413.6l0.4-1.1l-8.5,3.8l-0.2,0.8z"/>
<path fill="#4acb84" stroke="#2f8154" d="M77.9,414.6l0.3-1l-8.3,3.5l-0.3,0.7zM77.6,415.7l0.3-1.1l-8.3,3.2l-0.2,0.8z"/>
<path fill="#3fca8e" stroke="#28815a" d="M77.3,416.7l0.3-1l-8.2,2.9l-0.3,0.8z"/>
<path fill="#febe3c" stroke="#a27926" d="M89.7,403l0.4-1.2l-9.2,3.4l-0.3,1.1z"/>
<path fill="#3fca8e" stroke="#28815a" d="M76.9,417.7l0.4-1l-8.2,2.7l-0.2,0.7z"/>
<path fill="#37c897" stroke="#238060" d="M76.6,418.8l0.3-1.1l-8,2.4l-0.2,0.8z"/>
<path fill="#f8ba3d" stroke="#9e7727" d="M89.3,404.3l0.4-1.3l-9.1,3.3l-0.4,1z"/>
<path fill="#31c69f" stroke="#1f7e65" d="M76.3,419.8l0.3-1l-7.9,2.1l-0.3,0.7z"/>
<path fill="#f8ba3d" stroke="#9e7727" d="M88.9,405.6l0.4-1.3l-9.1,3l-0.3,1z"/>
<path fill="#31c69f" stroke="#1f7e65" d="M75.9,420.9l0.4-1.1l-7.9,1.8l-0.2,0.8z"/>
<path fill="#f0ba36" stroke="#997722" d="M88.4,406.9l0.5-1.3l-9,2.7l-0.3,1.1z"/>
<path fill="#2cc4a7" stroke="#1c7d6a" d="M75.6,421.9l0.3-1l-7.7,1.5l-0.3,0.8z"/>
<path fill="#e6bb2d" stroke="#93771c" d="M88,408.2l0.4-1.3l-8.8,2.5l-0.4,1z"/>
<path fill="#0bbdbd" stroke="#077878" d="M156.1,431.9l0.9-2.2l-11.9-4.6l-0.8,1.7z"/>
<path fill="#2cc4a7" stroke="#1c7d6a" d="M75.3,423l0.3-1.1l-7.7,1.3l-0.2,0.7z"/>
<path fill="#31c69f" stroke="#1f7e65" d="M144.3,426.8l0.8-1.7l-9.2-5.6l-0.7,1.6z"/>
<path fill="#19bfb6" stroke="#107a74" d="M74.9,424l0.4-1l-7.6,0.9l-0.3,0.8z"/>
<path fill="#e6bb2d" stroke="#93771c" d="M87.6,409.4l0.4-1.2l-8.8,2.2l-0.3,1.1z"/>
<path fill="#02bac3" stroke="#01777c" d="M74.6,425l0.3-1l-7.5,0.7l-0.2,0.7z"/>
<path fill="#f6ef20" stroke="#9d9814" d="M98.8,403.1l0.4-1.4l-9.1,0.1l-0.4,1.2z"/>
<path fill="#dcbd29" stroke="#8c781a" d="M87.2,410.7l0.4-1.3l-8.7,2.1l-0.3,1z"/>
<path fill="#08b5d0" stroke="#057385" d="M74.3,426.1l0.3-1.1l-7.4,0.4l-0.3,0.8z"/>
<path fill="#72cd64" stroke="#488340" d="M135.2,421.1l0.7-1.6l-9.1-5.9l-0.7,1.6z"/>
<path fill="#f5e924" stroke="#9c9517" d="M98.3,404.6l0.5-1.5l-9.1-0.1l-0.4,1.3z"/>
<path fill="#d1bf27" stroke="#857a18" d="M86.8,412l0.4-1.3l-8.6,1.8l-0.4,1.1z"/>
<path fill="#18addb" stroke="#0f6e8c" d="M73.9,427.1l0.4-1l-7.4,0.1l-0.2,0.8z"/>
<path fill="#0bbdbd" stroke="#077878" d="M155.1,434.1l1-2.2l-11.8-5.1l-0.9,1.7z"/>
<path fill="#31c69f" stroke="#1f7e65" d="M143.4,428.5l0.9-1.7l-9.1-5.7l-0.8,1.7z"/>
<path fill="#d1bf27" stroke="#857a18" d="M86.4,413.3l0.4-1.3l-8.6,1.6l-0.3,1z"/>
<path fill="#20a5e3" stroke="#146991" d="M73.6,428.2l0.3-1.1l-7.2-0.1l-0.2,0.7z"/>
<path fill="#f5e924" stroke="#9c9517" d="M97.8,406l0.5-1.4l-9-0.3l-0.4,1.3z"/>
<path fill="#b9c431" stroke="#767d1f" d="M126.1,415.2l0.7-1.6l-9.2-5.9l-0.6,1.6z"/>
<path fill="#259be8" stroke="#176394" d="M73.3,429.2l0.3-1l-7.1-0.5l-0.3,0.8z"/>
<path fill="#f5e327" stroke="#9c9118" d="M107.9,404.9l0.5-1.6l-9.2-1.6l-0.4,1.4z"/>
<path fill="#c5c22a" stroke="#7e7c1a" d="M86,414.5l0.4-1.2l-8.5,1.3l-0.3,1.1z"/>
<path fill="#64cd6f" stroke="#408347" d="M134.4,422.8l0.8-1.7l-9.1-5.9l-0.7,1.7z"/>
<path fill="#f5e327" stroke="#9c9118" d="M97.3,407.5l0.5-1.5l-8.9-0.4l-0.5,1.3z"/>
<path fill="#2b91ef" stroke="#1b5c98" d="M72.9,430.3l0.4-1.1l-7.1-0.7l-0.2,0.8z"/>
<path fill="#febe3c" stroke="#a27926" d="M117,409.3l0.6-1.6l-9.2-4.4l-0.5,1.6z"/>
<path fill="#b9c431" stroke="#767d1f" d="M85.6,415.8l0.4-1.3l-8.4,1.2l-0.3,1z"/>
<path fill="#f7dc2a" stroke="#9e8c1a" d="M107.3,406.5l0.6-1.6l-9.1-1.8l-0.5,1.5z"/>
<path fill="#2e87f7" stroke="#1d569e" d="M72.6,431.3l0.3-1l-6.9-1l-0.3,0.7z"/>
<path fill="#0bbdbd" stroke="#077878" d="M154.2,436.4l0.9-2.3l-11.7-5.6l-0.8,1.7z"/>
<path fill="#f7dc2a" stroke="#9e8c1a" d="M96.8,409l0.5-1.5l-8.9-0.6l-0.4,1.3z"/>
<path fill="#b9c431" stroke="#767d1f" d="M125.4,416.9l0.7-1.7l-9.1-5.9l-0.7,1.7z"/>
<path fill="#31c69f" stroke="#1f7e65" d="M142.6,430.2l0.8-1.7l-9-5.7l-0.8,1.7z"/>
<path fill="#b9c431" stroke="#767d1f" d="M85.2,417.1l0.4-1.3l-8.3,0.9l-0.4,1z"/>
<path fill="#327cfc" stroke="#204fa1" d="M72.3,432.4l0.3-1.1l-6.9-1.3l-0.2,0.8z"/>
<path fill="#f8ba3d" stroke="#9e7727" d="M116.3,411l0.7-1.7l-9.1-4.4l-0.6,1.6z"/>
<path fill="#fad62d" stroke="#a0881c" d="M106.7,408l0.6-1.5l-9-1.9l-0.5,1.4zM96.3,410.4l0.5-1.4l-8.8-0.8l-0.4,1.2z"/>
<path fill="#3e6fff" stroke="#2747a3" d="M72,433.4l0.3-1l-6.8-1.6l-0.3,0.7z"/>
<path fill="#64cd6f" stroke="#408347" d="M133.6,424.5l0.8-1.7l-9-5.9l-0.8,1.7z"/>
<path fill="#abc739" stroke="#6d7f24" d="M84.8,418.4l0.4-1.3l-8.3,0.6l-0.3,1.1zM84.4,419.6l0.4-1.2l-8.2,0.4l-0.3,1z"/>
<path fill="#b9c431" stroke="#767d1f" d="M124.6,418.6l0.8-1.7l-9.1-5.9l-0.6,1.6z"/>
<path fill="#fad62d" stroke="#a0881c" d="M95.8,411.9l0.5-1.5l-8.7-1l-0.4,1.3zM106.2,409.6l0.5-1.6l-8.9-2l-0.5,1.5z"/>
<path fill="#f8ba3d" stroke="#9e7727" d="M115.7,412.6l0.6-1.6l-9-4.5l-0.6,1.5z"/>
<path fill="#0bbdbd" stroke="#077878" d="M153.3,438.6l0.9-2.2l-11.6-6.2l-0.9,1.7z"/>
<path fill="#484df0" stroke="#4045d8" d="M70.8,437.1l1.2-3.7l-6.8-1.9l-1.1,3.7z"/>
<path fill="#9dc943" stroke="#64802a" d="M84,420.9l0.4-1.3l-8.1,0.2l-0.4,1.1z"/>
<path fill="#31c69f" stroke="#1f7e65" d="M141.7,431.9l0.9-1.7l-9-5.7l-0.8,1.7z"/>
<path fill="#fccf30" stroke="#a1841e" d="M95.4,413.3l0.4-1.4l-8.6-1.2l-0.4,1.3z"/>
<path fill="#64cd6f" stroke="#408347" d="M132.8,426.2l0.8-1.7l-9-5.9l-0.7,1.6z"/>
<path fill="#fccf30" stroke="#a1841e" d="M105.6,411.2l0.6-1.6l-8.9-2.1l-0.5,1.5z"/>
<path fill="#8fcb4e" stroke="#5b8131" d="M83.6,422.2l0.4-1.3l-8.1,0l-0.3,1z"/>
<path fill="#abc739" stroke="#6d7f24" d="M123.9,420.2l0.7-1.6l-8.9-6l-0.6,1.7z"/>
<path fill="#f0ba36" stroke="#997722" d="M115.1,414.3l0.6-1.7l-9-4.6l-0.5,1.6z"/>
<path fill="#fec934" stroke="#a28021" d="M94.9,414.8l0.5-1.5l-8.6-1.3l-0.4,1.3z"/>
<path fill="#81cc59" stroke="#528238" d="M83.2,423.5l0.4-1.3l-8-0.3l-0.3,1.1z"/>
<path fill="#fec934" stroke="#a28021" d="M105.1,412.8l0.5-1.6l-8.8-2.2l-0.5,1.4z"/>
<path fill="#fec338" stroke="#a27c23" d="M94.4,416.2l0.5-1.4l-8.5-1.5l-0.4,1.2z"/>
<path fill="#57cc7a" stroke="#37824e" d="M82.8,424.8l0.4-1.3l-7.9-0.5l-0.4,1z"/>
<path fill="#0bbdbd" stroke="#077878" d="M152.3,440.9l1-2.3l-11.6-6.7l-0.8,1.7z"/>
<path fill="#31c69f" stroke="#1f7e65" d="M140.9,433.6l0.8-1.7l-8.9-5.7l-0.8,1.7z"/>
<path fill="#f0ba36" stroke="#997722" d="M114.4,416l0.7-1.7l-8.9-4.7l-0.6,1.6z"/>
<path fill="#57cc7a" stroke="#37824e" d="M132,427.9l0.8-1.7l-8.9-6l-0.7,1.7z"/>
<path fill="#abc739" stroke="#6d7f24" d="M123.2,421.9l0.7-1.7l-8.8-5.9l-0.7,1.7z"/>
<path fill="#3fca8e" stroke="#28815a" d="M82.4,426l0.4-1.2l-7.9-0.8l-0.3,1z"/>
<path fill="#fec934" stroke="#a28021" d="M104.5,414.4l0.6-1.6l-8.8-2.4l-0.5,1.5z"/>
<path fill="#fec338" stroke="#a27c23" d="M93.9,417.7l0.5-1.5l-8.4-1.7l-0.4,1.3z"/>
<path fill="#31c69f" stroke="#1f7e65" d="M82,427.3l0.4-1.3l-7.8-1l-0.3,1.1z"/>
<path fill="#e6bb2d" stroke="#93771c" d="M113.8,417.6l0.6-1.6l-8.8-4.8l-0.5,1.6z"/>
<path fill="#febe3c" stroke="#a27926" d="M93.4,419.2l0.5-1.5l-8.3-1.9l-0.4,1.3z"/>
<path fill="#fec338" stroke="#a27c23" d="M104,415.9l0.5-1.5l-8.7-2.5l-0.4,1.4z"/>
<path fill="#9dc943" stroke="#64802a" d="M122.5,423.6l0.7-1.7l-8.8-5.9l-0.6,1.6z"/>
<path fill="#57cc7a" stroke="#37824e" d="M131.3,429.5l0.7-1.6l-8.8-6l-0.7,1.7z"/>
<path fill="#19bfb6" stroke="#107a74" d="M81.6,428.6l0.4-1.3l-7.7-1.2l-0.4,1z"/>
<path fill="#31c69f" stroke="#1f7e65" d="M140,435.3l0.9-1.7l-8.9-5.7l-0.7,1.6z"/>
<path fill="#0bbdbd" stroke="#077878" d="M151.4,443.1l0.9-2.2l-11.4-7.3l-0.9,1.7z"/>
<path fill="#f8ba3d" stroke="#9e7727" d="M92.9,420.6l0.5-1.4l-8.2-2.1l-0.4,1.3z"/>
<path fill="#e6bb2d" stroke="#93771c" d="M113.2,419.3l0.6-1.7l-8.7-4.8l-0.6,1.6z"/>
<path fill="#02bac3" stroke="#01777c" d="M81.2,429.9l0.4-1.3l-7.7-1.5l-0.3,1.1z"/>
<path fill="#febe3c" stroke="#a27926" d="M103.4,417.5l0.6-1.6l-8.6-2.6l-0.5,1.5z"/>
<path fill="#f8ba3d" stroke="#9e7727" d="M92.4,422.1l0.5-1.5l-8.1-2.2l-0.4,1.2z"/>
<path fill="#08b5d0" stroke="#057385" d="M80.7,431.1l0.5-1.2l-7.6-1.7l-0.3,1z"/>
<path fill="#9dc943" stroke="#64802a" d="M121.8,425.2l0.7-1.6l-8.7-6l-0.6,1.7z"/>
<path fill="#febe3c" stroke="#a27926" d="M102.8,419.1l0.6-1.6l-8.5-2.7l-0.5,1.4z"/>
<path fill="#57cc7a" stroke="#37824e" d="M130.5,431.2l0.8-1.7l-8.8-5.9l-0.7,1.6z"/>
<path fill="#dcbd29" stroke="#8c781a" d="M112.6,420.9l0.6-1.6l-8.7-4.9l-0.5,1.5z"/>
<path fill="#1ca9df" stroke="#116c8e" d="M80.3,432.4l0.4-1.3l-7.4-1.9l-0.4,1.1z"/>
<path fill="#f0ba36" stroke="#997722" d="M92,423.5l0.4-1.4l-8-2.5l-0.4,1.3z"/>
<path fill="#2cc4a7" stroke="#1c7d6a" d="M139.2,437.1l0.8-1.8l-8.7-5.8l-0.8,1.7z"/>
<path fill="#0bbdbd" stroke="#077878" d="M150.5,445.4l0.9-2.3l-11.4-7.8l-0.8,1.8z"/>
<path fill="#23a0e5" stroke="#166692" d="M79.9,433.7l0.4-1.3l-7.4-2.1l-0.3,1z"/>
<path fill="#f8ba3d" stroke="#9e7727" d="M102.3,420.7l0.5-1.6l-8.4-2.9l-0.5,1.5z"/>
<path fill="#9dc943" stroke="#64802a" d="M121.1,426.9l0.7-1.7l-8.6-5.9l-0.6,1.6z"/>
<path fill="#e6bb2d" stroke="#93771c" d="M91.5,425l0.5-1.5l-8-2.6l-0.4,1.3z"/>
<path fill="#dcbd29" stroke="#8c781a" d="M111.9,422.6l0.7-1.7l-8.6-5l-0.6,1.6z"/>
<path fill="#2797eb" stroke="#186096" d="M79.5,435l0.4-1.3l-7.3-2.4l-0.3,1.1z"/>
<path fill="#57cc7a" stroke="#37824e" d="M129.7,432.9l0.8-1.7l-8.7-6l-0.7,1.7z"/>
<path fill="#d1bf27" stroke="#857a18" d="M91,426.4l0.5-1.4l-7.9-2.8l-0.4,1.3z"/>
<path fill="#f0ba36" stroke="#997722" d="M101.7,422.3l0.6-1.6l-8.4-3l-0.5,1.5z"/>
<path fill="#2e87f7" stroke="#1d569e" d="M79.1,436.3l0.4-1.3l-7.2-2.6l-0.3,1z"/>
<path fill="#2cc4a7" stroke="#1c7d6a" d="M138.3,438.8l0.9-1.7l-8.7-5.9l-0.8,1.7z"/>
<path fill="#d1bf27" stroke="#857a18" d="M111.3,424.2l0.6-1.6l-8.5-5.1l-0.6,1.6z"/>
<path fill="#8fcb4e" stroke="#5b8131" d="M120.4,428.6l0.7-1.7l-8.5-6l-0.7,1.7z"/>
<path fill="#abc739" stroke="#6d7f24" d="M90.5,427.9l0.5-1.5l-7.8-2.9l-0.4,1.3z"/>
<path fill="#0bbdbd" stroke="#077878" d="M149.5,447.6l1-2.2l-11.3-8.3l-0.9,1.7z"/>
<path fill="#f0ba36" stroke="#997722" d="M101.2,423.9l0.5-1.6l-8.3-3.1l-0.5,1.4z"/>
<path fill="#4acb84" stroke="#2f8154" d="M128.9,434.6l0.8-1.7l-8.6-6l-0.7,1.7z"/>
<path fill="#81cc59" stroke="#528238" d="M90,429.3l0.5-1.4l-7.7-3.1l-0.4,1.2z"/>
<path fill="#465efb" stroke="#3f54e1" d="M77.9,440l1.2-3.7l-7.1-2.9l-1.2,3.7z"/>
<path fill="#c5c22a" stroke="#7e7c1a" d="M110.7,425.9l0.6-1.7l-8.5-5.1l-0.5,1.6z"/>
<path fill="#8fcb4e" stroke="#5b8131" d="M119.7,430.2l0.7-1.6l-8.5-6l-0.6,1.6z"/>
<path fill="#e6bb2d" stroke="#93771c" d="M100.6,425.4l0.6-1.5l-8.3-3.3l-0.5,1.5z"/>
<path fill="#64cd6f" stroke="#408347" d="M89.5,430.8l0.5-1.5l-7.6-3.3l-0.4,1.3z"/>
<path fill="#2cc4a7" stroke="#1c7d6a" d="M137.5,440.5l0.8-1.7l-8.6-5.9l-0.8,1.7z"/>
<path fill="#0bbdbd" stroke="#077878" d="M148.6,449.8l0.9-2.2l-11.2-8.8l-0.8,1.7z"/>
<path fill="#c5c22a" stroke="#7e7c1a" d="M110,427.5l0.7-1.6l-8.4-5.2l-0.6,1.6z"/>
<path fill="#dcbd29" stroke="#8c781a" d="M100.1,427l0.5-1.6l-8.2-3.3l-0.4,1.4z"/>
<path fill="#3fca8e" stroke="#28815a" d="M89,432.3l0.5-1.5l-7.5-3.5l-0.4,1.3z"/>
<path fill="#4acb84" stroke="#2f8154" d="M128.1,436.2l0.8-1.6l-8.5-6l-0.7,1.6z"/>
<path fill="#81cc59" stroke="#528238" d="M119,431.9l0.7-1.7l-8.4-6l-0.6,1.7z"/>
<path fill="#2cc4a7" stroke="#1c7d6a" d="M88.6,433.7l0.4-1.4l-7.4-3.7l-0.4,1.3z"/>
<path fill="#dcbd29" stroke="#8c781a" d="M99.5,428.6l0.6-1.6l-8.1-3.5l-0.5,1.5z"/>
<path fill="#b9c431" stroke="#767d1f" d="M109.4,429.2l0.6-1.7l-8.3-5.2l-0.5,1.6z"/>
<path fill="#2cc4a7" stroke="#1c7d6a" d="M136.6,442.2l0.9-1.7l-8.6-5.9l-0.8,1.6z"/>
<path fill="#0bbdbd" stroke="#077878" d="M88.1,435.2l0.5-1.5l-7.4-3.8l-0.5,1.2z"/>
<path fill="#81cc59" stroke="#528238" d="M118.3,433.6l0.7-1.7l-8.3-6l-0.7,1.6z"/>
<path fill="#0bbdbd" stroke="#077878" d="M147.7,452.1l0.9-2.3l-11.1-9.3l-0.9,1.7z"/>
<path fill="#4acb84" stroke="#2f8154" d="M127.4,437.9l0.7-1.7l-8.4-6l-0.7,1.7z"/>
<path fill="#b9c431" stroke="#767d1f" d="M98.9,430.2l0.6-1.6l-8-3.6l-0.5,1.4zM108.8,430.8l0.6-1.6l-8.2-5.3l-0.6,1.5z"/>
<path fill="#01b8ca" stroke="#007581" d="M87.6,436.6l0.5-1.4l-7.4-4.1l-0.4,1.3z"/>
<path fill="#9dc943" stroke="#64802a" d="M98.4,431.8l0.5-1.6l-7.9-3.8l-0.5,1.5z"/>
<path fill="#72cd64" stroke="#488340" d="M117.6,435.2l0.7-1.6l-8.3-6.1l-0.6,1.7z"/>
<path fill="#18addb" stroke="#0f6e8c" d="M87.1,438.1l0.5-1.5l-7.3-4.2l-0.4,1.3z"/>
<path fill="#2cc4a7" stroke="#1c7d6a" d="M135.8,443.9l0.8-1.7l-8.5-6l-0.7,1.7z"/>
<path fill="#abc739" stroke="#6d7f24" d="M108.1,432.5l0.7-1.7l-8.2-5.4l-0.5,1.6z"/>
<path fill="#3fca8e" stroke="#28815a" d="M126.6,439.6l0.8-1.7l-8.4-6l-0.7,1.7z"/>
<path fill="#72cd64" stroke="#488340" d="M97.8,433.4l0.6-1.6l-7.9-3.9l-0.5,1.4z"/>
<path fill="#0bbdbd" stroke="#077878" d="M146.7,454.3l1-2.2l-11.1-9.9l-0.8,1.7z"/>
<path fill="#23a0e5" stroke="#166692" d="M86.6,439.5l0.5-1.4l-7.2-4.4l-0.4,1.3z"/>
<path fill="#9dc943" stroke="#64802a" d="M107.5,434.2l0.6-1.7l-8-5.5l-0.6,1.6z"/>
<path fill="#72cd64" stroke="#488340" d="M116.9,436.9l0.7-1.7l-8.2-6l-0.6,1.6z"/>
<path fill="#57cc7a" stroke="#37824e" d="M97.3,434.9l0.5-1.5l-7.8-4.1l-0.5,1.5z"/>
<path fill="#2797eb" stroke="#186096" d="M86.1,441l0.5-1.5l-7.1-4.5l-0.4,1.3z"/>
<path fill="#2cc4a7" stroke="#1c7d6a" d="M134.9,445.6l0.9-1.7l-8.4-6l-0.8,1.7z"/>
<path fill="#3fca8e" stroke="#28815a" d="M125.8,441.3l0.8-1.7l-8.3-6l-0.7,1.6z"/>
<path fill="#81cc59" stroke="#528238" d="M106.9,435.8l0.6-1.6l-8-5.6l-0.6,1.6z"/>
<path fill="#37c897" stroke="#238060" d="M96.7,436.5l0.6-1.6l-7.8-4.1l-0.5,1.5z"/>
<path fill="#0bbdbd" stroke="#077878" d="M145.8,456.6l0.9-2.3l-10.9-10.4l-0.9,1.7z"/>
<path fill="#72cd64" stroke="#488340" d="M116.2,438.6l0.7-1.7l-8.1-6.1l-0.7,1.7z"/>
<path fill="#3e6fff" stroke="#3763e5" d="M84.9,444.6l1.2-3.6l-7-4.7l-1.2,3.7z"/>
<path fill="#2cc4a7" stroke="#1c7d6a" d="M96.2,438.1l0.5-1.6l-7.7-4.2l-0.4,1.4z"/>
<path fill="#64cd6f" stroke="#408347" d="M106.3,437.5l0.6-1.7l-8-5.6l-0.5,1.6z"/>
<path fill="#3fca8e" stroke="#28815a" d="M125,443l0.8-1.7l-8.2-6.1l-0.7,1.7z"/>
<path fill="#2cc4a7" stroke="#1c7d6a" d="M134.1,447.3l0.8-1.7l-8.3-6l-0.8,1.7z"/>
<path fill="#64cd6f" stroke="#408347" d="M115.5,440.2l0.7-1.6l-8.1-6.1l-0.6,1.7z"/>
<path fill="#0bbdbd" stroke="#077878" d="M95.6,439.7l0.6-1.6l-7.6-4.4l-0.5,1.5zM144.9,458.8l0.9-2.2l-10.9-11l-0.8,1.7z"/>
<path fill="#4acb84" stroke="#2f8154" d="M105.6,439.1l0.7-1.6l-7.9-5.7l-0.6,1.6z"/>
<path fill="#3fca8e" stroke="#28815a" d="M124.2,444.6l0.8-1.6l-8.1-6.1l-0.7,1.7z"/>
<path fill="#01b8ca" stroke="#007581" d="M95,441.3l0.6-1.6l-7.5-4.5l-0.5,1.4z"/>
<path fill="#4acb84" stroke="#2f8154" d="M114.8,441.9l0.7-1.7l-8-6l-0.6,1.6z"/>
<path fill="#24c1ae" stroke="#177b6f" d="M133.2,449l0.9-1.7l-8.3-6l-0.8,1.7z"/>
<path fill="#37c897" stroke="#238060" d="M105,440.8l0.6-1.7l-7.8-5.7l-0.5,1.5z"/>
<path fill="#18addb" stroke="#0f6e8c" d="M94.5,442.9l0.5-1.6l-7.4-4.7l-0.5,1.5z"/>
<path fill="#0bbdbd" stroke="#077878" d="M143.9,461.1l1-2.3l-10.8-11.5l-0.9,1.7z"/>
<path fill="#37c897" stroke="#238060" d="M123.5,446.3l0.7-1.7l-8-6l-0.7,1.6z"/>
<path fill="#3fca8e" stroke="#28815a" d="M114.1,443.6l0.7-1.7l-7.9-6.1l-0.6,1.7z"/>
<path fill="#2cc4a7" stroke="#1c7d6a" d="M104.4,442.4l0.6-1.6l-7.7-5.9l-0.6,1.6z"/>
<path fill="#23a0e5" stroke="#166692" d="M93.9,444.4l0.6-1.5l-7.4-4.8l-0.5,1.4z"/>
<path fill="#24c1ae" stroke="#177b6f" d="M132.3,450.7l0.9-1.7l-8.2-6l-0.8,1.6z"/>
<path fill="#19bfb6" stroke="#107a74" d="M103.7,444.1l0.7-1.7l-7.7-5.9l-0.5,1.6z"/>
<path fill="#2797eb" stroke="#186096" d="M93.4,446l0.5-1.6l-7.3-4.9l-0.5,1.5z"/>
<path fill="#31c69f" stroke="#1f7e65" d="M113.4,445.2l0.7-1.6l-7.8-6.1l-0.7,1.6zM122.7,448l0.8-1.7l-8-6.1l-0.7,1.7z"/>
<path fill="#0bbdbd" stroke="#077878" d="M143,463.3l0.9-2.2l-10.7-12.1l-0.9,1.7z"/>
<path fill="#02bac3" stroke="#01777c" d="M103.1,445.7l0.6-1.6l-7.5-6l-0.6,1.6z"/>
<path fill="#24c1ae" stroke="#177b6f" d="M131.5,452.4l0.8-1.7l-8.1-6.1l-0.7,1.7z"/>
<path fill="#2cc4a7" stroke="#1c7d6a" d="M112.7,446.9l0.7-1.7l-7.8-6.1l-0.6,1.7z"/>
<path fill="#327cfc" stroke="#2d6fe2" d="M92.2,449.4l1.2-3.4l-7.3-5l-1.2,3.6z"/>
<path fill="#2cc4a7" stroke="#1c7d6a" d="M121.9,449.7l0.8-1.7l-7.9-6.1l-0.7,1.7z"/>
<path fill="#08b5d0" stroke="#057385" d="M102.5,447.4l0.6-1.7l-7.5-6l-0.6,1.6z"/>
<path fill="#0bbdbd" stroke="#077878" d="M142.1,465.5l0.9-2.2l-10.7-12.6l-0.8,1.7z"/>
<path fill="#19bfb6" stroke="#107a74" d="M112,448.6l0.7-1.7l-7.7-6.1l-0.6,1.6zM130.6,454.1l0.9-1.7l-8-6.1l-0.8,1.7z"/>
<path fill="#18addb" stroke="#0f6e8c" d="M101.8,449l0.7-1.6l-7.5-6.1l-0.5,1.6z"/>
<path fill="#24c1ae" stroke="#177b6f" d="M121.1,451.4l0.8-1.7l-7.8-6.1l-0.7,1.6z"/>
<path fill="#0bbdbd" stroke="#077878" d="M111.3,450.2l0.7-1.6l-7.6-6.2l-0.7,1.7zM141.1,467.8l1-2.3l-10.6-13.1l-0.9,1.7z"/>
<path fill="#20a5e3" stroke="#146991" d="M101.2,450.7l0.6-1.7l-7.3-6.1l-0.6,1.5z"/>
<path fill="#19bfb6" stroke="#107a74" d="M129.8,455.8l0.8-1.7l-7.9-6.1l-0.8,1.7zM120.3,453l0.8-1.6l-7.7-6.2l-0.7,1.7z"/>
<path fill="#01b8ca" stroke="#007581" d="M110.6,451.9l0.7-1.7l-7.6-6.1l-0.6,1.6z"/>
<path fill="#259be8" stroke="#176394" d="M100.6,452.4l0.6-1.7l-7.3-6.3l-0.5,1.6z"/>
<path fill="#0bbdbd" stroke="#077878" d="M140.2,470l0.9-2.2l-10.5-13.7l-0.8,1.7zM119.6,454.7l0.7-1.7l-7.6-6.1l-0.7,1.7z"/>
<path fill="#08b5d0" stroke="#057385" d="M109.8,453.6l0.8-1.7l-7.5-6.2l-0.6,1.7z"/>
<path fill="#0bbdbd" stroke="#077878" d="M128.9,457.5l0.9-1.7l-7.9-6.1l-0.8,1.7z"/>
<path fill="#2e87f7" stroke="#2979de" d="M99.4,455.5l1.2-3.1l-7.2-6.4l-1.2,3.4z"/>
<path fill="#18addb" stroke="#0f6e8c" d="M109.1,455.2l0.7-1.6l-7.3-6.2l-0.7,1.6z"/>
<path fill="#0bbdbd" stroke="#077878" d="M139.3,472.3l0.9-2.3l-10.4-14.2l-0.9,1.7z"/>
<path fill="#02bac3" stroke="#01777c" d="M118.8,456.4l0.8-1.7l-7.6-6.1l-0.7,1.6z"/>
<path fill="#0bbdbd" stroke="#077878" d="M128.1,459.2l0.8-1.7l-7.8-6.1l-0.8,1.6z"/>
<path fill="#1ca9df" stroke="#116c8e" d="M108.4,456.9l0.7-1.7l-7.3-6.2l-0.6,1.7z"/>
<path fill="#01b8ca" stroke="#007581" d="M118,458.1l0.8-1.7l-7.5-6.2l-0.7,1.7z"/>
<path fill="#02bac3" stroke="#01777c" d="M138.3,474.5l1-2.2l-10.4-14.8l-0.8,1.7zM127.2,460.9l0.9-1.7l-7.8-6.2l-0.7,1.7z"/>
<path fill="#23a0e5" stroke="#166692" d="M107.7,458.6l0.7-1.7l-7.2-6.2l-0.6,1.7z"/>
<path fill="#08b5d0" stroke="#057385" d="M117.2,459.8l0.8-1.7l-7.4-6.2l-0.8,1.7z"/>
<path fill="#02bac3" stroke="#01777c" d="M137.4,476.7l0.9-2.2l-10.2-15.3l-0.9,1.7zM126.4,462.6l0.8-1.7l-7.6-6.2l-0.8,1.7z"/>
<path fill="#2797eb" stroke="#2387d3" d="M106.5,461.4l1.2-2.8l-7.1-6.2l-1.2,3.1z"/>
<path fill="#12b1d6" stroke="#0b7188" d="M116.4,461.4l0.8-1.6l-7.4-6.2l-0.7,1.6z"/>
<path fill="#02bac3" stroke="#01777c" d="M136.5,479l0.9-2.3l-10.2-15.8l-0.8,1.7z"/>
<path fill="#01b8ca" stroke="#007581" d="M125.5,464.3l0.9-1.7l-7.6-6.2l-0.8,1.7z"/>
<path fill="#18addb" stroke="#0f6e8c" d="M115.7,463.1l0.7-1.7l-7.3-6.2l-0.7,1.7z"/>
<path fill="#02bac3" stroke="#01777c" d="M135.5,481.2l1-2.2l-10.1-16.4l-0.9,1.7z"/>
<path fill="#01b8ca" stroke="#007581" d="M124.7,466.1l0.8-1.8l-7.5-6.2l-0.8,1.7z"/>
<path fill="#1ca9df" stroke="#116c8e" d="M114.9,464.8l0.8-1.7l-7.3-6.2l-0.7,1.7z"/>
<path fill="#08b5d0" stroke="#057385" d="M123.8,467.8l0.9-1.7l-7.5-6.3l-0.8,1.6z"/>
<path fill="#02bac3" stroke="#01777c" d="M134.6,483.5l0.9-2.3l-10-16.9l-0.8,1.8z"/>
<path fill="#23a0e5" stroke="#1f90ce" d="M113.7,467.4l1.2-2.6l-7.2-6.2l-1.2,2.8z"/>
<path fill="#12b1d6" stroke="#0b7188" d="M123,469.5l0.8-1.7l-7.4-6.4l-0.7,1.7z"/>
<path fill="#02bac3" stroke="#01777c" d="M133.7,485.7l0.9-2.2l-9.9-17.4l-0.9,1.7z"/>
<path fill="#12b1d6" stroke="#0b7188" d="M122.1,471.2l0.9-1.7l-7.3-6.4l-0.8,1.7z"/>
<path fill="#02bac3" stroke="#01777c" d="M132.7,488l1-2.3l-9.9-17.9l-0.8,1.7zM131.8,490.2l0.9-2.2l-9.7-18.5l-0.9,1.7z"/>
<path fill="#18addb" stroke="#159bc5" d="M121,473.6l1.1-2.4l-7.2-6.4l-1.2,2.6z"/>
<path fill="#01b8ca" stroke="#00a5b5" d="M130.6,493l1.2-2.8l-9.7-19l-1.1,2.4z"/>
</g>
<path fill="none" stroke="#000" stroke-opacity="0.45" stroke-width="0.3" d="M130.6,493l1.2-2.8l0.9-2.2l1-2.3l0.9-2.2l0.9-2.3l1-2.2l0.9-2.3l0.9-2.2l1-2.2l0.9-2.3l0.9-2.2l1-2.3l0.9-2.2l0.9-2.2l1-2.3l0.9-2.2l0.9-2.3l1-2.2l0.9-2.3l0.9-2.2l1-2.2l0.9-2.3l0.9-2.2l1-2.3l0.9-2.2l0.9-2.3l1-2.2l0.9-2.2M121,473.6l1.1-2.4l0.9-1.7l0.8-1.7l0.9-1.7l0.8-1.8l0.9-1.7l0.8-1.7l0.9-1.7l0.8-1.7l0.9-1.7l0.8-1.7l0.9-1.7l0.8-1.7l0.9-1.7l0.9-1.7l0.8-1.7l0.9-1.7l0.8-1.7l0.9-1.7l0.8-1.7l0.9-1.7l0.8-1.8l0.9-1.7l0.8-1.7l0.9-1.7l0.8-1.7l0.9-1.7l0.8-1.7M113.7,467.4l1.2-2.6l0.8-1.7l0.7-1.7l0.8-1.6l0.8-1.7l0.8-1.7l0.8-1.7l0.7-1.7l0.8-1.6l0.8-1.7l0.8-1.7l0.8-1.7l0.7-1.7l0.8-1.6l0.8-1.7l0.8-1.7l0.8-1.7l0.7-1.7l0.8-1.6l0.8-1.7l0.8-1.7l0.8-1.7l0.7-1.6l0.8-1.7l0.8-1.7l0.8-1.7l0.8-1.7l0.7-1.6M106.5,461.4l1.2-2.8l0.7-1.7l0.7-1.7l0.7-1.6l0.8-1.7l0.7-1.7l0.7-1.6l0.7-1.7l0.7-1.7l0.7-1.6l0.7-1.7l0.7-1.7l0.7-1.6l0.7-1.7l0.7-1.7l0.7-1.6l0.7-1.7l0.7-1.7l0.7-1.6l0.7-1.7l0.7-1.7l0.7-1.6l0.7-1.7l0.7-1.7l0.7-1.6l0.8-1.7l0.7-1.7l0.7-1.6M99.4,455.5l1.2-3.1l0.6-1.7l0.6-1.7l0.7-1.6l0.6-1.7l0.6-1.6l0.7-1.7l0.6-1.6l0.6-1.7l0.7-1.6l0.6-1.7l0.6-1.6l0.6-1.7l0.7-1.7l0.6-1.6l0.6-1.7l0.7-1.6l0.6-1.7l0.6-1.6l0.7-1.7l0.6-1.6l0.6-1.7l0.6-1.6l0.7-1.7l0.6-1.7l0.6-1.6l0.7-1.7l0.6-1.6M92.2,449.4l1.2-3.4l0.5-1.6l0.6-1.5l0.5-1.6l0.6-1.6l0.6-1.6l0.5-1.6l0.6-1.6l0.5-1.5l0.6-1.6l0.5-1.6l0.6-1.6l0.6-1.6l0.5-1.6l0.6-1.5l0.5-1.6l0.6-1.6l0.5-1.6l0.6-1.6l0.6-1.6l0.5-1.5l0.6-1.6l0.5-1.6l0.6-1.6l0.5-1.6l0.6-1.5l0.6-1.6l0.5-1.6M84.9,444.6l1.2-3.6l0.5-1.5l0.5-1.4l0.5-1.5l0.5-1.4l0.5-1.5l0.4-1.4l0.5-1.5l0.5-1.5l0.5-1.4l0.5-1.5l0.5-1.4l0.5-1.5l0.4-1.4l0.5-1.5l0.5-1.4l0.5-1.5l0.5-1.5l0.5-1.4l0.5-1.5l0.4-1.4l0.5-1.5l0.5-1.4l0.5-1.5l0.5-1.5l0.5-1.4l0.5-1.5l0.4-1.4M77.9,440l1.2-3.7l0.4-1.3l0.4-1.3l0.4-1.3l0.4-1.3l0.5-1.2l0.4-1.3l0.4-1.3l0.4-1.3l0.4-1.2l0.4-1.3l0.4-1.3l0.4-1.3l0.4-1.3l0.4-1.2l0.4-1.3l0.4-1.3l0.4-1.3l0.4-1.2l0.4-1.3l0.4-1.3l0.4-1.3l0.4-1.2l0.4-1.3l0.5-1.3l0.4-1.3l0.4-1.3l0.4-1.2M70.8,437.1l1.2-3.7l0.3-1l0.3-1.1l0.3-1l0.4-1.1l0.3-1l0.3-1.1l0.4-1l0.3-1.1l0.3-1l0.4-1l0.3-1.1l0.3-1l0.4-1.1l0.3-1l0.3-1.1l0.4-1l0.3-1l0.3-1.1l0.3-1l0.4-1.1l0.3-1l0.3-1.1l0.4-1l0.3-1.1l0.3-1l0.4-1l0.3-1.1M64.1,435.2l1.1-3.7l0.3-0.7l0.2-0.8l0.3-0.7l0.2-0.8l0.3-0.8l0.2-0.7l0.2-0.8l0.3-0.8l0.2-0.7l0.3-0.8l0.2-0.7l0.3-0.8l0.2-0.8l0.3-0.7l0.2-0.8l0.2-0.7l0.3-0.8l0.2-0.8l0.3-0.7l0.2-0.8l0.3-0.7l0.2-0.8l0.2-0.8l0.3-0.7l0.2-0.8l0.3-0.8l0.2-0.7M57.7,433.5l1.1-3.2l0.2-0.4l0.1-0.4l0.2-0.3l0.1-0.4l0.1-0.4l0.2-0.4l0.1-0.4l0.2-0.4l0.1-0.3l0.2-0.4l0.1-0.4l0.1-0.4l0.2-0.4l0.1-0.4l0.2-0.3l0.1-0.4l0.1-0.4l0.2-0.4l0.1-0.4l0.2-0.4l0.1-0.3l0.1-0.4l0.2-0.4l0.1-0.4l0.2-0.4l0.1-0.4l0.2-0.3M54.1,430.8l0.6-1.2l0.1-0.2l0-0.1l0.1-0.1l0-0.1l0.1-0.1l0.1-0.1l0-0.1l0.1-0.1l0-0.1l0.1-0.1l0-0.1l0.1-0.1l0-0.2l0.1-0.1l0-0.1l0.1-0.1l0.1-0.1l0-0.1l0.1-0.1l0-0.1l0.1-0.1l0-0.1l0.1-0.1l0-0.1l0.1-0.2l0-0.1l0.1-0.1"/>
<text x="76.9" y="522.3" font-size="5.4" text-anchor="middle" font-family="Liberation Serif, serif" fill="#333" fill-opacity="0.8" transform="rotate(9 76.9 520.6)"><tspan font-style="italic">y</tspan>/<tspan font-style="italic">s</tspan><tspan font-size="3.8" dy="1">m</tspan></text>
<text x="162.3" y="504.5" font-size="5.4" text-anchor="middle" font-family="Liberation Serif, serif" fill="#333" fill-opacity="0.8"><tspan font-style="italic">x</tspan>/<tspan font-style="italic">c</tspan><tspan font-size="4" dy="1">r,m</tspan></text>
<text x="10.4" y="494.2" font-size="5.4" text-anchor="middle" font-family="Liberation Serif, serif" fill="#333" fill-opacity="0.8" transform="rotate(-90 10.4 492.7)">Φ<tspan font-size="4" dy="1">mode 3</tspan></text>
<rect x="174" y="394" width="6.4" height="119.8" fill="url(#par)" stroke="#999" stroke-width="0.3"/>
<text x="181.8" y="508" font-size="5.0" text-anchor="start" font-family="Liberation Serif, serif" fill="#333" >−0.8</text>
<text x="181.8" y="495.5" font-size="5.0" text-anchor="start" font-family="Liberation Serif, serif" fill="#333" >−0.6</text>
<text x="181.8" y="483.1" font-size="5.0" text-anchor="start" font-family="Liberation Serif, serif" fill="#333" >−0.4</text>
<text x="181.8" y="470.6" font-size="5.0" text-anchor="start" font-family="Liberation Serif, serif" fill="#333" >−0.2</text>
<text x="181.8" y="458.1" font-size="5.0" text-anchor="start" font-family="Liberation Serif, serif" fill="#333" >0</text>
<text x="181.8" y="445.6" font-size="5.0" text-anchor="start" font-family="Liberation Serif, serif" fill="#333" >0.2</text>
<text x="181.8" y="433.1" font-size="5.0" text-anchor="start" font-family="Liberation Serif, serif" fill="#333" >0.4</text>
<text x="181.8" y="420.7" font-size="5.0" text-anchor="start" font-family="Liberation Serif, serif" fill="#333" >0.6</text>
<text x="181.8" y="408.2" font-size="5.0" text-anchor="start" font-family="Liberation Serif, serif" fill="#333" >0.8</text>
<text x="181.8" y="395.7" font-size="5.0" text-anchor="start" font-family="Liberation Serif, serif" fill="#333" >1</text>
<text x="8.7" y="546.7" font-size="10.3" font-family="Liberation Serif, serif" fill="#1a1a1a" stroke="#1a1a1a" stroke-width="0.14" textLength="193" lengthAdjust="spacingAndGlyphs">(<tspan font-weight="bold">e</tspan>) Third mode of the wind tunnel model wing</text>
<path stroke="#e2e2e2" stroke-width="0.45" fill="none" d="M337.5,514.8L235.4,498.6L235.4,457.2M342.2,504.5L240.1,488.3L240.1,446.9M346.8,494.2L244.7,478L244.7,436.6M351.5,483.9L249.4,467.7L249.4,426.3M356.1,473.6L254,457.4L254,416M360.8,463.3L258.7,447.1L258.7,405.7M365.5,453L263.4,436.8L263.4,395.4M337.5,514.8L365.5,453L365.5,411.6M317.1,511.6L345,449.8L345,408.3M296.7,508.3L324.6,446.5L324.6,405.1M276.2,505.1L304.2,443.3L304.2,401.9M255.8,501.8L283.8,440L283.8,398.6M235.4,498.6L263.4,436.8L263.4,395.4M235.4,496.1L263.4,434.3L365.5,450.5M235.4,489L263.4,427.2L365.5,443.4M235.4,482L263.4,420.2L365.5,436.4M235.4,474.9L263.4,413.1L365.5,429.3M235.4,467.8L263.4,406L365.5,422.2M235.4,460.7L263.4,398.9L365.5,415.1"/>
<path stroke="#999" stroke-width="0.55" fill="none" d="M365.5,453L337.5,514.8L235.4,498.6M337.5,514.8L338.2,513.3M317.1,511.6L317.7,510.1M296.7,508.3L297.3,506.9M276.2,505.1L276.9,503.6M255.8,501.8L256.5,500.4M235.4,498.6L236.1,497.1M337.5,514.8L335.9,514.5M342.2,504.5L340.6,504.2M346.8,494.2L345.2,493.9M351.5,483.9L349.9,483.6M356.1,473.6L354.6,473.3M360.8,463.3L359.2,463M365.5,453L363.9,452.7"/>
<text x="336" y="522.2" font-size="5.0" text-anchor="middle" font-family="Liberation Serif, serif" fill="#333" >0</text>
<text x="315.6" y="519" font-size="5.0" text-anchor="middle" font-family="Liberation Serif, serif" fill="#333" >0.2</text>
<text x="295.2" y="515.7" font-size="5.0" text-anchor="middle" font-family="Liberation Serif, serif" fill="#333" >0.4</text>
<text x="274.7" y="512.5" font-size="5.0" text-anchor="middle" font-family="Liberation Serif, serif" fill="#333" >0.6</text>
<text x="254.3" y="509.2" font-size="5.0" text-anchor="middle" font-family="Liberation Serif, serif" fill="#333" >0.8</text>
<text x="233.9" y="506" font-size="5.0" text-anchor="middle" font-family="Liberation Serif, serif" fill="#333" >1</text>
<text x="343.8" y="521" font-size="5.0" text-anchor="middle" font-family="Liberation Serif, serif" fill="#333" >0</text>
<text x="348.5" y="510.7" font-size="5.0" text-anchor="middle" font-family="Liberation Serif, serif" fill="#333" >0.2</text>
<text x="353.1" y="500.4" font-size="5.0" text-anchor="middle" font-family="Liberation Serif, serif" fill="#333" >0.4</text>
<text x="357.8" y="490.1" font-size="5.0" text-anchor="middle" font-family="Liberation Serif, serif" fill="#333" >0.6</text>
<text x="362.4" y="479.8" font-size="5.0" text-anchor="middle" font-family="Liberation Serif, serif" fill="#333" >0.8</text>
<text x="367.1" y="469.5" font-size="5.0" text-anchor="middle" font-family="Liberation Serif, serif" fill="#333" >1</text>
<text x="371.8" y="459.2" font-size="5.0" text-anchor="middle" font-family="Liberation Serif, serif" fill="#333" >1.2</text>
<text x="232.1" y="499.1" font-size="5.0" text-anchor="end" font-family="Liberation Serif, serif" fill="#333" >−6</text>
<text x="232.1" y="492" font-size="5.0" text-anchor="end" font-family="Liberation Serif, serif" fill="#333" >−4</text>
<text x="232.1" y="485" font-size="5.0" text-anchor="end" font-family="Liberation Serif, serif" fill="#333" >−2</text>
<text x="232.1" y="477.9" font-size="5.0" text-anchor="end" font-family="Liberation Serif, serif" fill="#333" >0</text>
<text x="232.1" y="470.8" font-size="5.0" text-anchor="end" font-family="Liberation Serif, serif" fill="#333" >2</text>
<text x="232.1" y="463.7" font-size="5.0" text-anchor="end" font-family="Liberation Serif, serif" fill="#333" >4</text>
<text x="229.9" y="453.5" font-size="4.2" text-anchor="middle" font-family="Liberation Serif, serif" fill="#333" >×10<tspan font-size="3" dy="-1.6">−3</tspan></text>
<g stroke-width="0.3">
<path fill="#72cd64" stroke="#42763a" d="M264,415.2l0.1-0.4l-5.4,3.6l0,0zM263.9,415.7l0.1-0.5l-5.3,3.2l-0.1,0.1zM263.8,416.1l0.1-0.4l-5.3,2.8l0,0.1z"/>
<path fill="#64cd6f" stroke="#3a7640" d="M263.7,416.6l0.1-0.5l-5.2,2.5l-0.1,0.1zM263.6,417l0.1-0.4l-5.2,2.1l0,0zM263.4,417.4l0.2-0.4l-5.1,1.7l-0.1,0.1zM263.3,417.9l0.1-0.5l-5,1.4l0,0.1z"/>
<path fill="#57cc7a" stroke="#327646" d="M263.2,418.3l0.1-0.4l-4.9,1l-0.1,0zM263.1,418.8l0.1-0.5l-4.9,0.6l0,0.1zM263,419.2l0.1-0.4l-4.8,0.2l-0.1,0.1zM262.9,419.7l0.1-0.5l-4.8-0.1l0,0.1z"/>
<path fill="#4acb84" stroke="#2a754c" d="M262.8,420.1l0.1-0.4l-4.7-0.5l-0.1,0zM262.7,420.6l0.1-0.5l-4.7-0.9l0,0.1zM262.6,421l0.1-0.4l-4.6-1.3l-0.1,0.1zM262.4,421.5l0.2-0.5l-4.6-1.6l0,0z"/>
<path fill="#3fca8e" stroke="#247552" d="M262.3,421.9l0.1-0.4l-4.4-2.1l-0.1,0.1zM262.2,422.4l0.1-0.5l-4.4-2.4l0,0.1z"/>
<path fill="#19bfb6" stroke="#0e6e69" d="M316.9,440.5l0.5-1.4l-10.5-5.6l-0.5,1.5z"/>
<path fill="#02bac3" stroke="#016b71" d="M325.5,444l0.6-1.4l-8.7-3.5l-0.5,1.4z"/>
<path fill="#3fca8e" stroke="#247552" d="M262.1,422.8l0.1-0.4l-4.3-2.8l-0.1,0.1zM262,423.2l0.1-0.4l-4.3-3.1l0,0z"/>
<path fill="#37c897" stroke="#1f7457" d="M261.9,423.7l0.1-0.5l-4.2-3.5l-0.1,0.1zM261.8,424.1l0.1-0.4l-4.2-3.9l0,0.1zM261.7,424.6l0.1-0.5l-4.1-4.2l-0.1,0.1z"/>
<path fill="#31c69f" stroke="#1c725c" d="M261.6,425l0.1-0.4l-4.1-4.6l0,0z"/>
<path fill="#0bbdbd" stroke="#066d6d" d="M334,445.6l0.7-1.3l-8.6-1.7l-0.6,1.4zM316.3,442l0.6-1.5l-10.5-5.5l-0.4,1.6z"/>
<path fill="#31c69f" stroke="#1c725c" d="M261.4,425.5l0.2-0.5l-4-5l-0.1,0.1z"/>
<path fill="#2cc4a7" stroke="#197160" d="M261.3,425.9l0.1-0.4l-3.9-5.4l0,0.1zM261.2,426.4l0.1-0.5l-3.8-5.7l-0.1,0z"/>
<path fill="#01b8ca" stroke="#006a75" d="M324.9,445.3l0.6-1.3l-8.6-3.5l-0.6,1.5z"/>
<path fill="#2cc4a7" stroke="#197160" d="M306.4,435l0.5-1.5l-9.3-8.6l-0.4,1.6z"/>
<path fill="#24c1ae" stroke="#146f64" d="M261.1,426.8l0.1-0.4l-3.8-6.2l0,0.1z"/>
<path fill="#dcbd29" stroke="#7f6d17" d="M272.1,411.3l0.2-0.9l-8.2,4.4l-0.1,0.4z"/>
<path fill="#02bac3" stroke="#016b71" d="M315.8,443.4l0.5-1.4l-10.3-5.4l-0.5,1.5z"/>
<path fill="#d1bf27" stroke="#796e16" d="M271.9,412.3l0.2-1l-8.1,3.9l-0.1,0.5z"/>
<path fill="#24c1ae" stroke="#146f64" d="M306,436.6l0.4-1.6l-9.2-8.5l-0.4,1.5z"/>
<path fill="#c5c22a" stroke="#727018" d="M271.7,413.2l0.2-0.9l-8,3.4l-0.1,0.4z"/>
<path fill="#08b5d0" stroke="#07a2bb" d="M260.1,431l1-4.2l-3.7-6.5l-0.6,0.8z"/>
<path fill="#b9c431" stroke="#6b711c" d="M271.5,414.1l0.2-0.9l-7.9,2.9l-0.1,0.5z"/>
<path fill="#0bbdbd" stroke="#066d6d" d="M333.4,446.8l0.6-1.2l-8.5-1.6l-0.6,1.3z"/>
<path fill="#abc739" stroke="#637321" d="M271.3,415l0.2-0.9l-7.8,2.5l-0.1,0.4z"/>
<path fill="#08b5d0" stroke="#046878" d="M324.3,446.7l0.6-1.4l-8.6-3.3l-0.5,1.4z"/>
<path fill="#abc739" stroke="#637321" d="M271.1,416l0.2-1l-7.7,2l-0.2,0.4z"/>
<path fill="#19bfb6" stroke="#0e6e69" d="M305.5,438.1l0.5-1.5l-9.2-8.6l-0.4,1.6z"/>
<path fill="#9dc943" stroke="#5b7426" d="M270.9,416.9l0.2-0.9l-7.7,1.4l-0.1,0.5z"/>
<path fill="#01b8ca" stroke="#006a75" d="M315.3,444.9l0.5-1.5l-10.3-5.3l-0.4,1.5z"/>
<path fill="#8fcb4e" stroke="#52752d" d="M270.7,417.8l0.2-0.9l-7.6,1l-0.1,0.4z"/>
<path fill="#81cc59" stroke="#4a7633" d="M270.5,418.7l0.2-0.9l-7.5,0.5l-0.1,0.5z"/>
<path fill="#72cd64" stroke="#42763a" d="M270.3,419.7l0.2-1l-7.4,0.1l-0.1,0.4z"/>
<path fill="#02bac3" stroke="#016b71" d="M305.1,439.6l0.4-1.5l-9.1-8.5l-0.4,1.5z"/>
<path fill="#2cc4a7" stroke="#197160" d="M341.9,443.3l0.7-1.3l-7.9,2.3l-0.7,1.3z"/>
<path fill="#64cd6f" stroke="#3a7640" d="M270.2,420.6l0.1-0.9l-7.3-0.5l-0.1,0.5z"/>
<path fill="#57cc7a" stroke="#327646" d="M270,421.5l0.2-0.9l-7.3-0.9l-0.1,0.4zM269.8,422.4l0.2-0.9l-7.2-1.4l-0.1,0.5z"/>
<path fill="#81cc59" stroke="#4a7633" d="M297.2,426.5l0.4-1.6l-8.1-7.8l-0.3,1.5z"/>
<path fill="#08b5d0" stroke="#046878" d="M323.7,448l0.6-1.3l-8.5-3.3l-0.5,1.5zM314.8,446.3l0.5-1.4l-10.2-5.3l-0.5,1.6z"/>
<path fill="#4acb84" stroke="#2a754c" d="M269.6,423.3l0.2-0.9l-7.1-1.8l-0.1,0.4z"/>
<path fill="#02bac3" stroke="#016b71" d="M332.7,448.1l0.7-1.3l-8.5-1.5l-0.6,1.4z"/>
<path fill="#01b8ca" stroke="#006a75" d="M304.6,441.2l0.5-1.6l-9.1-8.5l-0.4,1.6z"/>
<path fill="#3fca8e" stroke="#247552" d="M269.4,424.3l0.2-1l-7-2.3l-0.2,0.5z"/>
<path fill="#72cd64" stroke="#42763a" d="M296.8,428l0.4-1.5l-8-7.9l-0.3,1.5z"/>
<path fill="#37c897" stroke="#1f7457" d="M269.2,425.2l0.2-0.9l-7-2.8l-0.1,0.4z"/>
<path fill="#31c69f" stroke="#1c725c" d="M269,426.1l0.2-0.9l-6.9-3.3l-0.1,0.5z"/>
<path fill="#2cc4a7" stroke="#197160" d="M268.8,427l0.2-0.9l-6.8-3.7l-0.1,0.4z"/>
<path fill="#57cc7a" stroke="#327646" d="M296.4,429.6l0.4-1.6l-7.9-7.9l-0.4,1.5z"/>
<path fill="#2cc4a7" stroke="#197160" d="M268.6,428l0.2-1l-6.7-4.2l-0.1,0.4z"/>
<path fill="#12b1d6" stroke="#0a667c" d="M304.1,442.7l0.5-1.5l-9-8.5l-0.4,1.6z"/>
<path fill="#18addb" stroke="#0d647f" d="M314.2,447.7l0.6-1.4l-10.2-5.1l-0.5,1.5z"/>
<path fill="#24c1ae" stroke="#146f64" d="M268.4,428.9l0.2-0.9l-6.6-4.8l-0.1,0.5z"/>
<path fill="#12b1d6" stroke="#0a667c" d="M323.1,449.4l0.6-1.4l-8.4-3.1l-0.5,1.4z"/>
<path fill="#0bbdbd" stroke="#066d6d" d="M268.2,429.8l0.2-0.9l-6.5-5.2l-0.1,0.4z"/>
<path fill="#3fca8e" stroke="#247552" d="M296,431.1l0.4-1.5l-7.9-8l-0.3,1.4z"/>
<path fill="#2cc4a7" stroke="#197160" d="M341.2,444.7l0.7-1.4l-7.9,2.3l-0.6,1.2z"/>
<path fill="#02bac3" stroke="#016b71" d="M268,430.7l0.2-0.9l-6.4-5.7l-0.1,0.5z"/>
<path fill="#01b8ca" stroke="#006a75" d="M267.8,431.7l0.2-1l-6.3-6.1l-0.1,0.4z"/>
<path fill="#18addb" stroke="#0d647f" d="M303.7,444.2l0.4-1.5l-8.9-8.4l-0.3,1.5z"/>
<path fill="#02bac3" stroke="#016b71" d="M332,449.4l0.7-1.3l-8.4-1.4l-0.6,1.3z"/>
<path fill="#08b5d0" stroke="#046878" d="M267.6,432.6l0.2-0.9l-6.2-6.7l-0.2,0.5z"/>
<path fill="#31c69f" stroke="#1c725c" d="M295.6,432.7l0.4-1.6l-7.8-8.1l-0.3,1.5z"/>
<path fill="#f5e327" stroke="#8e8316" d="M281,410.8l0.3-1.3l-9,0.9l-0.2,0.9z"/>
<path fill="#12b1d6" stroke="#0a667c" d="M267.4,433.5l0.2-0.9l-6.2-7.1l-0.1,0.4z"/>
<path fill="#1ca9df" stroke="#106281" d="M313.7,449.2l0.5-1.5l-10.1-5l-0.4,1.5z"/>
<path fill="#18addb" stroke="#0d647f" d="M267.3,434.4l0.1-0.9l-6.1-7.6l-0.1,0.5z"/>
<path fill="#fad62d" stroke="#917c1a" d="M280.7,412.1l0.3-1.3l-8.9,0.5l-0.2,1z"/>
<path fill="#24c1ae" stroke="#146f64" d="M295.2,434.3l0.4-1.6l-7.7-8.2l-0.4,1.5z"/>
<path fill="#20a5e3" stroke="#125f83" d="M267.1,435.4l0.2-1l-6.1-8l-0.1,0.4z"/>
<path fill="#fec934" stroke="#93741e" d="M289.2,418.6l0.3-1.5l-8.2-7.6l-0.3,1.3z"/>
<path fill="#1ca9df" stroke="#106281" d="M303.2,445.8l0.5-1.6l-8.8-8.4l-0.4,1.6z"/>
<path fill="#fec934" stroke="#93741e" d="M280.4,413.5l0.3-1.4l-8.8,0.2l-0.2,0.9z"/>
<path fill="#febe3c" stroke="#936e22" d="M280.2,414.8l0.2-1.3l-8.7-0.3l-0.2,0.9z"/>
<path fill="#12b1d6" stroke="#0a667c" d="M322.5,450.8l0.6-1.4l-8.3-3.1l-0.6,1.4z"/>
<path fill="#f8ba3d" stroke="#8f6b23" d="M288.9,420.1l0.3-1.5l-8.2-7.8l-0.3,1.3z"/>
<path fill="#19bfb6" stroke="#0e6e69" d="M294.9,435.8l0.3-1.5l-7.7-8.3l-0.3,1.5z"/>
<path fill="#f0ba36" stroke="#8b6b1f" d="M279.9,416.1l0.3-1.3l-8.7-0.7l-0.2,0.9z"/>
<path fill="#e6bb2d" stroke="#856c1a" d="M288.5,421.6l0.4-1.5l-8.2-8l-0.3,1.4z"/>
<path fill="#2e87f7" stroke="#2979de" d="M266,440.4l1.1-5l-6-8.6l-1,4.2z"/>
<path fill="#dcbd29" stroke="#7f6d17" d="M279.6,417.5l0.3-1.4l-8.6-1.1l-0.2,1z"/>
<path fill="#20a5e3" stroke="#125f83" d="M313.2,450.6l0.5-1.4l-10-5l-0.5,1.6z"/>
<path fill="#23a0e5" stroke="#145c84" d="M302.7,447.3l0.5-1.5l-8.7-8.4l-0.4,1.5z"/>
<path fill="#24c1ae" stroke="#146f64" d="M340.5,446.1l0.7-1.4l-7.8,2.1l-0.7,1.3z"/>
<path fill="#02bac3" stroke="#016b71" d="M294.5,437.4l0.4-1.6l-7.7-8.3l-0.3,1.5z"/>
<path fill="#c5c22a" stroke="#727018" d="M279.3,418.8l0.3-1.3l-8.5-1.5l-0.2,0.9z"/>
<path fill="#d1bf27" stroke="#796e16" d="M288.2,423l0.3-1.4l-8.1-8.1l-0.2,1.3z"/>
<path fill="#3fca8e" stroke="#247552" d="M349.8,440.9l0.8-1.6l-8,2.7l-0.7,1.3z"/>
<path fill="#02bac3" stroke="#016b71" d="M331.4,450.7l0.6-1.3l-8.3-1.4l-0.6,1.4z"/>
<path fill="#abc739" stroke="#637321" d="M279.1,420.2l0.2-1.4l-8.4-1.9l-0.2,0.9z"/>
<path fill="#b9c431" stroke="#6b711c" d="M287.9,424.5l0.3-1.5l-8-8.2l-0.3,1.3z"/>
<path fill="#8fcb4e" stroke="#52752d" d="M278.8,421.5l0.3-1.3l-8.4-2.4l-0.2,0.9z"/>
<path fill="#08b5d0" stroke="#046878" d="M294.1,438.9l0.4-1.5l-7.6-8.4l-0.4,1.4z"/>
<path fill="#259be8" stroke="#155986" d="M302.3,448.8l0.4-1.5l-8.6-8.4l-0.4,1.6z"/>
<path fill="#72cd64" stroke="#42763a" d="M278.5,422.8l0.3-1.3l-8.3-2.8l-0.2,1z"/>
<path fill="#9dc943" stroke="#5b7426" d="M287.5,426l0.4-1.5l-8-8.4l-0.3,1.4z"/>
<path fill="#18addb" stroke="#0d647f" d="M321.9,452.1l0.6-1.3l-8.3-3.1l-0.5,1.5z"/>
<path fill="#23a0e5" stroke="#145c84" d="M312.6,452l0.6-1.4l-10-4.8l-0.5,1.5z"/>
<path fill="#57cc7a" stroke="#327646" d="M278.2,424.2l0.3-1.4l-8.2-3.1l-0.1,0.9z"/>
<path fill="#18addb" stroke="#0d647f" d="M293.7,440.5l0.4-1.6l-7.6-8.5l-0.3,1.5z"/>
<path fill="#72cd64" stroke="#42763a" d="M287.2,427.5l0.3-1.5l-7.9-8.5l-0.3,1.3z"/>
<path fill="#3fca8e" stroke="#247552" d="M278,425.5l0.2-1.3l-8-3.6l-0.2,0.9z"/>
<path fill="#2b91ef" stroke="#18548a" d="M301.8,450.4l0.5-1.6l-8.6-8.3l-0.4,1.6z"/>
<path fill="#31c69f" stroke="#1c725c" d="M277.7,426.9l0.3-1.4l-8-4l-0.2,0.9z"/>
<path fill="#57cc7a" stroke="#327646" d="M286.9,429l0.3-1.5l-7.9-8.7l-0.2,1.4z"/>
<path fill="#20a5e3" stroke="#125f83" d="M293.3,442.1l0.4-1.6l-7.5-8.6l-0.3,1.5z"/>
<path fill="#2cc4a7" stroke="#197160" d="M277.4,428.2l0.3-1.3l-7.9-4.5l-0.2,0.9z"/>
<path fill="#3fca8e" stroke="#247552" d="M286.5,430.4l0.4-1.4l-7.8-8.8l-0.3,1.3z"/>
<path fill="#19bfb6" stroke="#0e6e69" d="M277.1,429.5l0.3-1.3l-7.8-4.9l-0.2,1z"/>
<path fill="#01b8ca" stroke="#006a75" d="M330.7,452l0.7-1.3l-8.3-1.3l-0.6,1.4z"/>
<path fill="#24c1ae" stroke="#146f64" d="M339.8,447.4l0.7-1.3l-7.8,2l-0.7,1.3z"/>
<path fill="#259be8" stroke="#155986" d="M312.1,453.5l0.5-1.5l-9.9-4.7l-0.4,1.5z"/>
<path fill="#23a0e5" stroke="#145c84" d="M292.9,443.6l0.4-1.5l-7.4-8.7l-0.4,1.5z"/>
<path fill="#31c69f" stroke="#1c725c" d="M286.2,431.9l0.3-1.5l-7.7-8.9l-0.3,1.3z"/>
<path fill="#02bac3" stroke="#016b71" d="M276.9,430.9l0.2-1.4l-7.7-5.2l-0.2,0.9z"/>
<path fill="#2d8cf3" stroke="#1a518c" d="M301.4,451.9l0.4-1.5l-8.5-8.3l-0.4,1.5z"/>
<path fill="#1ca9df" stroke="#106281" d="M321.3,453.5l0.6-1.4l-8.2-2.9l-0.5,1.4z"/>
<path fill="#3fca8e" stroke="#247552" d="M349.1,442.4l0.7-1.5l-7.9,2.4l-0.7,1.4z"/>
<path fill="#08b5d0" stroke="#046878" d="M276.6,432.2l0.3-1.3l-7.7-5.7l-0.2,0.9z"/>
<path fill="#19bfb6" stroke="#0e6e69" d="M285.9,433.4l0.3-1.5l-7.7-9.1l-0.3,1.4z"/>
<path fill="#18addb" stroke="#0d647f" d="M276.3,433.5l0.3-1.3l-7.6-6.1l-0.2,0.9z"/>
<path fill="#2797eb" stroke="#165788" d="M292.5,445.2l0.4-1.6l-7.4-8.7l-0.3,1.5z"/>
<path fill="#02bac3" stroke="#016b71" d="M285.5,434.9l0.4-1.5l-7.7-9.2l-0.2,1.3z"/>
<path fill="#20a5e3" stroke="#125f83" d="M276,434.9l0.3-1.4l-7.5-6.5l-0.2,1z"/>
<path fill="#2e87f7" stroke="#1a4e8f" d="M300.9,453.4l0.5-1.5l-8.5-8.3l-0.4,1.6z"/>
<path fill="#23a0e5" stroke="#145c84" d="M275.8,436.2l0.2-1.3l-7.4-6.9l-0.2,0.9z"/>
<path fill="#2d8cf3" stroke="#1a518c" d="M292.1,446.8l0.4-1.6l-7.3-8.8l-0.3,1.4z"/>
<path fill="#2797eb" stroke="#165788" d="M311.6,454.9l0.5-1.4l-9.8-4.7l-0.5,1.6z"/>
<path fill="#08b5d0" stroke="#046878" d="M285.2,436.4l0.3-1.5l-7.5-9.4l-0.3,1.4z"/>
<path fill="#259be8" stroke="#155986" d="M275.5,437.6l0.3-1.4l-7.4-7.3l-0.2,0.9z"/>
<path fill="#18addb" stroke="#0d647f" d="M284.9,437.8l0.3-1.4l-7.5-9.5l-0.3,1.3z"/>
<path fill="#2797eb" stroke="#165788" d="M275.2,438.9l0.3-1.3l-7.3-7.8l-0.2,0.9z"/>
<path fill="#2f81fa" stroke="#1b4a91" d="M291.7,448.3l0.4-1.5l-7.2-9l-0.4,1.5z"/>
<path fill="#327cfc" stroke="#1d4792" d="M300.4,455l0.5-1.6l-8.4-8.2l-0.4,1.6z"/>
<path fill="#1ca9df" stroke="#106281" d="M320.8,454.8l0.5-1.3l-8.1-2.9l-0.6,1.4z"/>
<path fill="#01b8ca" stroke="#006a75" d="M330.1,453.2l0.6-1.2l-8.2-1.2l-0.6,1.3z"/>
<path fill="#2b91ef" stroke="#18548a" d="M274.9,440.2l0.3-1.3l-7.2-8.2l-0.2,1z"/>
<path fill="#23a0e5" stroke="#145c84" d="M284.5,439.3l0.4-1.5l-7.5-9.6l-0.3,1.3z"/>
<path fill="#2d8cf3" stroke="#1a518c" d="M274.7,441.6l0.2-1.4l-7.1-8.5l-0.2,0.9z"/>
<path fill="#37c897" stroke="#1f7457" d="M360,440.8l0.8-1.9l-10.2,0.4l-0.8,1.6z"/>
<path fill="#24c1ae" stroke="#146f64" d="M339.1,448.8l0.7-1.4l-7.8,2l-0.6,1.3z"/>
<path fill="#3875fe" stroke="#204393" d="M291.3,449.9l0.4-1.6l-7.2-9l-0.3,1.5z"/>
<path fill="#2797eb" stroke="#165788" d="M284.2,440.8l0.3-1.5l-7.4-9.8l-0.2,1.4z"/>
<path fill="#2e87f7" stroke="#1a4e8f" d="M274.4,442.9l0.3-1.3l-7.1-9l-0.2,0.9z"/>
<path fill="#2b91ef" stroke="#18548a" d="M311,456.4l0.6-1.5l-9.8-4.5l-0.4,1.5z"/>
<path fill="#3875fe" stroke="#204393" d="M300,456.5l0.4-1.5l-8.3-8.2l-0.4,1.5z"/>
<path fill="#327cfc" stroke="#1d4792" d="M274.1,444.3l0.3-1.4l-7-9.4l-0.1,0.9z"/>
<path fill="#37c897" stroke="#1f7457" d="M348.3,444l0.8-1.6l-7.9,2.3l-0.7,1.4z"/>
<path fill="#2d8cf3" stroke="#1a518c" d="M283.9,442.3l0.3-1.5l-7.3-9.9l-0.3,1.3z"/>
<path fill="#3e6fff" stroke="#234093" d="M290.9,451.4l0.4-1.5l-7.1-9.1l-0.3,1.5z"/>
<path fill="#3875fe" stroke="#204393" d="M273.8,445.6l0.3-1.3l-6.8-9.9l-0.2,1z"/>
<path fill="#2f81fa" stroke="#1b4a91" d="M283.6,443.8l0.3-1.5l-7.3-10.1l-0.3,1.3z"/>
<path fill="#20a5e3" stroke="#125f83" d="M320.2,456.2l0.6-1.4l-8.2-2.8l-0.5,1.5z"/>
<path fill="#4563fd" stroke="#283992" d="M290.5,453l0.4-1.6l-7-9.1l-0.3,1.5z"/>
<path fill="#327cfc" stroke="#1d4792" d="M283.2,445.2l0.4-1.4l-7.3-10.3l-0.3,1.4z"/>
<path fill="#4269fe" stroke="#263c93" d="M299.5,458l0.5-1.5l-8.3-8.2l-0.4,1.6z"/>
<path fill="#465efb" stroke="#3f54e1" d="M272.8,450.7l1-5.1l-6.7-10.2l-1.1,5z"/>
<path fill="#2d8cf3" stroke="#1a518c" d="M310.5,457.8l0.5-1.4l-9.6-4.5l-0.5,1.5z"/>
<path fill="#08b5d0" stroke="#046878" d="M329.4,454.5l0.7-1.3l-8.2-1.1l-0.6,1.4z"/>
<path fill="#3875fe" stroke="#204393" d="M282.9,446.7l0.3-1.5l-7.2-10.3l-0.2,1.3z"/>
<path fill="#465efb" stroke="#283691" d="M290.1,454.6l0.4-1.6l-6.9-9.2l-0.4,1.4z"/>
<path fill="#3e6fff" stroke="#234093" d="M282.6,448.2l0.3-1.5l-7.1-10.5l-0.3,1.4z"/>
<path fill="#4563fd" stroke="#283992" d="M299.1,459.6l0.4-1.6l-8.2-8.1l-0.4,1.5z"/>
<path fill="#19bfb6" stroke="#0e6e69" d="M338.4,450.2l0.7-1.4l-7.7,1.9l-0.7,1.3z"/>
<path fill="#4758f8" stroke="#29338f" d="M289.8,456.1l0.3-1.5l-6.9-9.4l-0.3,1.5z"/>
<path fill="#4269fe" stroke="#263c93" d="M282.2,449.7l0.4-1.5l-7.1-10.6l-0.3,1.3z"/>
<path fill="#37c897" stroke="#1f7457" d="M359.2,442.6l0.8-1.8l-10.2,0.1l-0.7,1.5z"/>
<path fill="#2e87f7" stroke="#1a4e8f" d="M310,459.2l0.5-1.4l-9.6-4.4l-0.5,1.6z"/>
<path fill="#4563fd" stroke="#283992" d="M281.9,451.2l0.3-1.5l-7-10.8l-0.3,1.3z"/>
<path fill="#23a0e5" stroke="#145c84" d="M319.6,457.6l0.6-1.4l-8.1-2.7l-0.5,1.4z"/>
<path fill="#37c897" stroke="#1f7457" d="M347.5,445.5l0.8-1.5l-7.8,2.1l-0.7,1.3z"/>
<path fill="#4852f4" stroke="#292f8d" d="M289.4,457.7l0.4-1.6l-6.9-9.4l-0.3,1.5z"/>
<path fill="#465efb" stroke="#283691" d="M298.6,461.1l0.5-1.5l-8.2-8.2l-0.4,1.6zM281.6,452.6l0.3-1.4l-7-11l-0.2,1.4z"/>
<path fill="#08b5d0" stroke="#046878" d="M328.8,455.8l0.6-1.3l-8.1-1l-0.5,1.3z"/>
<path fill="#484df0" stroke="#292c8b" d="M289,459.2l0.4-1.5l-6.8-9.5l-0.4,1.5z"/>
<path fill="#4758f8" stroke="#29338f" d="M281.2,454.1l0.4-1.5l-6.9-11l-0.3,1.3zM298.1,462.6l0.5-1.5l-8.1-8.1l-0.4,1.6z"/>
<path fill="#327cfc" stroke="#1d4792" d="M309.4,460.7l0.6-1.5l-9.6-4.2l-0.4,1.5z"/>
<path fill="#4852f4" stroke="#292f8d" d="M280.9,455.6l0.3-1.5l-6.8-11.2l-0.3,1.4z"/>
<path fill="#484df0" stroke="#292c8b" d="M288.6,460.8l0.4-1.6l-6.8-9.5l-0.3,1.5zM280.6,457.1l0.3-1.5l-6.8-11.3l-0.3,1.3z"/>
<path fill="#23a0e5" stroke="#145c84" d="M319,458.9l0.6-1.3l-8-2.7l-0.6,1.5z"/>
<path fill="#19bfb6" stroke="#0e6e69" d="M337.7,451.5l0.7-1.3l-7.7,1.8l-0.6,1.2z"/>
<path fill="#4747eb" stroke="#292988" d="M288.2,462.4l0.4-1.6l-6.7-9.6l-0.3,1.4z"/>
<path fill="#4852f4" stroke="#292f8d" d="M297.7,464.2l0.4-1.6l-8-8l-0.3,1.5z"/>
<path fill="#37c897" stroke="#1f7457" d="M358.3,444.5l0.9-1.9l-10.1-0.2l-0.8,1.6z"/>
<path fill="#3875fe" stroke="#204393" d="M308.9,462.1l0.5-1.4l-9.4-4.2l-0.5,1.5z"/>
<path fill="#4741e5" stroke="#3f3ace" d="M279.5,461.8l1.1-4.7l-6.8-11.5l-1,5.1z"/>
<path fill="#37c897" stroke="#1f7457" d="M346.8,447.1l0.7-1.6l-7.7,1.9l-0.7,1.4z"/>
<path fill="#4741e5" stroke="#292584" d="M287.8,463.9l0.4-1.5l-6.6-9.8l-0.4,1.5z"/>
<path fill="#08b5d0" stroke="#046878" d="M328.1,457.1l0.7-1.3l-8-1l-0.6,1.4z"/>
<path fill="#484df0" stroke="#292c8b" d="M297.2,465.7l0.5-1.5l-7.9-8.1l-0.4,1.6z"/>
<path fill="#463cde" stroke="#282280" d="M287.4,465.5l0.4-1.6l-6.6-9.8l-0.3,1.5z"/>
<path fill="#259be8" stroke="#155986" d="M318.4,460.3l0.6-1.4l-8-2.5l-0.5,1.4z"/>
<path fill="#3e6fff" stroke="#234093" d="M308.4,463.5l0.5-1.4l-9.4-4.1l-0.4,1.6z"/>
<path fill="#4537d5" stroke="#281f7b" d="M287,467.1l0.4-1.6l-6.5-9.9l-0.3,1.5z"/>
<path fill="#4747eb" stroke="#292988" d="M296.8,467.2l0.4-1.5l-7.8-8l-0.4,1.5z"/>
<path fill="#19bfb6" stroke="#0e6e69" d="M336.9,452.9l0.8-1.4l-7.6,1.7l-0.7,1.3z"/>
<path fill="#4741e5" stroke="#292584" d="M296.3,468.8l0.5-1.6l-7.8-8l-0.4,1.6z"/>
<path fill="#37c897" stroke="#1f7457" d="M357.5,446.4l0.8-1.9l-10-0.5l-0.8,1.5z"/>
<path fill="#12b1d6" stroke="#0a667c" d="M327.5,458.3l0.6-1.2l-7.9-0.9l-0.6,1.4z"/>
<path fill="#422ec0" stroke="#3b29ac" d="M286,471.2l1-4.1l-6.4-10l-1.1,4.7z"/>
<path fill="#4269fe" stroke="#263c93" d="M307.8,465l0.6-1.5l-9.3-3.9l-0.5,1.5z"/>
<path fill="#2797eb" stroke="#165788" d="M317.8,461.6l0.6-1.3l-7.9-2.5l-0.5,1.4z"/>
<path fill="#37c897" stroke="#1f7457" d="M346,448.6l0.8-1.5l-7.7,1.7l-0.7,1.4z"/>
<path fill="#4741e5" stroke="#292584" d="M295.8,470.3l0.5-1.5l-7.7-8l-0.4,1.6z"/>
<path fill="#4563fd" stroke="#283992" d="M307.3,466.4l0.5-1.4l-9.2-3.9l-0.5,1.5z"/>
<path fill="#19bfb6" stroke="#0e6e69" d="M336.2,454.3l0.7-1.4l-7.5,1.6l-0.6,1.3z"/>
<path fill="#463cde" stroke="#282280" d="M295.4,471.8l0.4-1.5l-7.6-7.9l-0.4,1.5z"/>
<path fill="#2797eb" stroke="#165788" d="M317.2,463l0.6-1.4l-7.8-2.4l-0.6,1.5z"/>
<path fill="#12b1d6" stroke="#0a667c" d="M326.8,459.6l0.7-1.3l-7.9-0.7l-0.6,1.3z"/>
<path fill="#4537d5" stroke="#281f7b" d="M294.9,473.4l0.5-1.6l-7.6-7.9l-0.4,1.6z"/>
<path fill="#37c897" stroke="#1f7457" d="M356.7,448.2l0.8-1.8l-10-0.9l-0.7,1.6z"/>
<path fill="#31c69f" stroke="#1c725c" d="M345.3,450.2l0.7-1.6l-7.6,1.6l-0.7,1.3z"/>
<path fill="#465efb" stroke="#283691" d="M306.8,467.9l0.5-1.5l-9.2-3.8l-0.4,1.6z"/>
<path fill="#4332cb" stroke="#261d75" d="M294.5,474.9l0.4-1.5l-7.5-7.9l-0.4,1.6z"/>
<path fill="#2b91ef" stroke="#18548a" d="M316.6,464.4l0.6-1.4l-7.8-2.3l-0.5,1.4z"/>
<path fill="#0bbdbd" stroke="#066d6d" d="M335.5,455.6l0.7-1.3l-7.4,1.5l-0.7,1.3z"/>
<path fill="#4758f8" stroke="#29338f" d="M306.2,469.3l0.6-1.4l-9.1-3.7l-0.5,1.5z"/>
<path fill="#18addb" stroke="#0d647f" d="M326.2,460.9l0.6-1.3l-7.8-0.7l-0.6,1.4z"/>
<path fill="#402ab4" stroke="#3925a2" d="M293.4,478.4l1.1-3.5l-7.5-7.8l-1,4.1z"/>
<path fill="#37c897" stroke="#1f7457" d="M355.9,450.1l0.8-1.9l-9.9-1.1l-0.8,1.5z"/>
<path fill="#31c69f" stroke="#1c725c" d="M344.5,451.7l0.8-1.5l-7.6,1.3l-0.8,1.4z"/>
<path fill="#2d8cf3" stroke="#1a518c" d="M316,465.7l0.6-1.3l-7.7-2.3l-0.5,1.4z"/>
<path fill="#4852f4" stroke="#292f8d" d="M305.7,470.7l0.5-1.4l-9-3.6l-0.4,1.5z"/>
<path fill="#18addb" stroke="#0d647f" d="M325.5,462.2l0.7-1.3l-7.8-0.6l-0.6,1.3z"/>
<path fill="#0bbdbd" stroke="#066d6d" d="M334.8,457l0.7-1.4l-7.4,1.5l-0.6,1.2z"/>
<path fill="#484df0" stroke="#292c8b" d="M305.2,472.2l0.5-1.5l-8.9-3.5l-0.5,1.6z"/>
<path fill="#2d8cf3" stroke="#1a518c" d="M315.4,467.1l0.6-1.4l-7.6-2.2l-0.6,1.5z"/>
<path fill="#31c69f" stroke="#1c725c" d="M343.7,453.3l0.8-1.6l-7.6,1.2l-0.7,1.4z"/>
<path fill="#37c897" stroke="#1f7457" d="M355,451.9l0.9-1.8l-9.9-1.5l-0.7,1.6z"/>
<path fill="#4747eb" stroke="#292988" d="M304.7,473.6l0.5-1.4l-8.9-3.4l-0.5,1.5z"/>
<path fill="#18addb" stroke="#0d647f" d="M324.9,463.4l0.6-1.2l-7.7-0.6l-0.6,1.4z"/>
<path fill="#0bbdbd" stroke="#066d6d" d="M334.1,458.4l0.7-1.4l-7.3,1.3l-0.7,1.3z"/>
<path fill="#2e87f7" stroke="#1a4e8f" d="M314.8,468.4l0.6-1.3l-7.6-2.1l-0.5,1.4z"/>
<path fill="#4747eb" stroke="#292988" d="M304.1,475l0.6-1.4l-8.9-3.3l-0.4,1.5z"/>
<path fill="#31c69f" stroke="#1c725c" d="M343,454.8l0.7-1.5l-7.5,1l-0.7,1.3z"/>
<path fill="#1ca9df" stroke="#106281" d="M324.2,464.7l0.7-1.3l-7.7-0.4l-0.6,1.4z"/>
<path fill="#37c897" stroke="#1f7457" d="M354.2,453.8l0.8-1.9l-9.7-1.7l-0.8,1.5z"/>
<path fill="#2f81fa" stroke="#1b4a91" d="M314.2,469.8l0.6-1.4l-7.5-2l-0.5,1.5z"/>
<path fill="#4741e5" stroke="#292584" d="M303.6,476.5l0.5-1.5l-8.7-3.2l-0.5,1.6z"/>
<path fill="#02bac3" stroke="#016b71" d="M333.4,459.7l0.7-1.3l-7.3,1.2l-0.6,1.3z"/>
<path fill="#463cde" stroke="#282280" d="M303.1,477.9l0.5-1.4l-8.7-3.1l-0.4,1.5z"/>
<path fill="#2f81fa" stroke="#1b4a91" d="M313.6,471.2l0.6-1.4l-7.4-1.9l-0.6,1.4z"/>
<path fill="#1ca9df" stroke="#106281" d="M323.5,466l0.7-1.3l-7.6-0.3l-0.6,1.3z"/>
<path fill="#2cc4a7" stroke="#197160" d="M342.2,456.4l0.8-1.6l-7.5,0.8l-0.7,1.4z"/>
<path fill="#37c897" stroke="#1f7457" d="M353.4,455.6l0.8-1.8l-9.7-2.1l-0.8,1.6z"/>
<path fill="#02bac3" stroke="#016b71" d="M332.7,461.1l0.7-1.4l-7.2,1.2l-0.7,1.3z"/>
<path fill="#327cfc" stroke="#1d4792" d="M313,472.5l0.6-1.3l-7.4-1.9l-0.5,1.4z"/>
<path fill="#4332cb" stroke="#3c2db6" d="M302,480.8l1.1-2.9l-8.6-3l-1.1,3.5z"/>
<path fill="#1ca9df" stroke="#106281" d="M322.9,467.3l0.6-1.3l-7.5-0.3l-0.6,1.4z"/>
<path fill="#2cc4a7" stroke="#197160" d="M341.4,457.9l0.8-1.5l-7.4,0.6l-0.7,1.4z"/>
<path fill="#3875fe" stroke="#204393" d="M312.5,473.9l0.5-1.4l-7.3-1.8l-0.5,1.5z"/>
<path fill="#37c897" stroke="#1f7457" d="M352.6,457.5l0.8-1.9l-9.7-2.3l-0.7,1.5z"/>
<path fill="#02bac3" stroke="#016b71" d="M332,462.5l0.7-1.4l-7.2,1.1l-0.6,1.2z"/>
<path fill="#20a5e3" stroke="#125f83" d="M322.2,468.5l0.7-1.2l-7.5-0.2l-0.6,1.3z"/>
<path fill="#3e6fff" stroke="#234093" d="M311.9,475.2l0.6-1.3l-7.3-1.7l-0.5,1.4z"/>
<path fill="#2cc4a7" stroke="#197160" d="M340.7,459.5l0.7-1.6l-7.3,0.5l-0.7,1.3z"/>
<path fill="#02bac3" stroke="#016b71" d="M331.3,463.8l0.7-1.3l-7.1,0.9l-0.7,1.3z"/>
<path fill="#37c897" stroke="#1f7457" d="M351.7,459.3l0.9-1.8l-9.6-2.7l-0.8,1.6z"/>
<path fill="#20a5e3" stroke="#125f83" d="M321.6,469.8l0.6-1.3l-7.4-0.1l-0.6,1.4z"/>
<path fill="#3e6fff" stroke="#234093" d="M311.3,476.6l0.6-1.4l-7.2-1.6l-0.6,1.4z"/>
<path fill="#2cc4a7" stroke="#197160" d="M339.9,461l0.8-1.5l-7.3,0.2l-0.7,1.4z"/>
<path fill="#01b8ca" stroke="#006a75" d="M330.6,465.2l0.7-1.4l-7.1,0.9l-0.7,1.3z"/>
<path fill="#4269fe" stroke="#263c93" d="M310.7,478l0.6-1.4l-7.2-1.6l-0.5,1.5z"/>
<path fill="#20a5e3" stroke="#125f83" d="M320.9,471.1l0.7-1.3l-7.4,0l-0.6,1.4z"/>
<path fill="#37c897" stroke="#1f7457" d="M350.9,461.2l0.8-1.9l-9.5-2.9l-0.8,1.5z"/>
<path fill="#4563fd" stroke="#283992" d="M310.1,479.3l0.6-1.3l-7.1-1.5l-0.5,1.4z"/>
<path fill="#20a5e3" stroke="#125f83" d="M320.3,472.4l0.6-1.3l-7.3,0.1l-0.6,1.3z"/>
<path fill="#01b8ca" stroke="#006a75" d="M329.8,466.6l0.8-1.4l-7.1,0.8l-0.6,1.3z"/>
<path fill="#2cc4a7" stroke="#197160" d="M339.2,462.6l0.7-1.6l-7.2,0.1l-0.7,1.4z"/>
<path fill="#37c897" stroke="#1f7457" d="M350.1,463l0.8-1.8l-9.5-3.3l-0.7,1.6z"/>
<path fill="#465efb" stroke="#3f54e1" d="M309,481.7l1.1-2.4l-7-1.4l-1.1,2.9z"/>
<path fill="#23a0e5" stroke="#145c84" d="M319.6,473.7l0.7-1.3l-7.3,0.1l-0.5,1.4z"/>
<path fill="#01b8ca" stroke="#006a75" d="M329.1,467.9l0.7-1.3l-6.9,0.7l-0.7,1.2z"/>
<path fill="#24c1ae" stroke="#146f64" d="M338.4,464.2l0.8-1.6l-7.2-0.1l-0.7,1.3z"/>
<path fill="#37c897" stroke="#1f7457" d="M349.3,464.9l0.8-1.9l-9.4-3.5l-0.8,1.5z"/>
<path fill="#23a0e5" stroke="#145c84" d="M319,474.9l0.6-1.2l-7.1,0.2l-0.6,1.3z"/>
<path fill="#01b8ca" stroke="#006a75" d="M328.4,469.3l0.7-1.4l-6.9,0.6l-0.6,1.3z"/>
<path fill="#24c1ae" stroke="#146f64" d="M337.6,465.7l0.8-1.5l-7.1-0.4l-0.7,1.4z"/>
<path fill="#37c897" stroke="#1f7457" d="M348.4,466.7l0.9-1.8l-9.4-3.9l-0.7,1.6z"/>
<path fill="#23a0e5" stroke="#145c84" d="M318.3,476.2l0.7-1.3l-7.1,0.3l-0.6,1.4z"/>
<path fill="#01b8ca" stroke="#006a75" d="M327.7,470.7l0.7-1.4l-6.8,0.5l-0.7,1.3z"/>
<path fill="#24c1ae" stroke="#146f64" d="M336.9,467.3l0.7-1.6l-7-0.5l-0.8,1.4z"/>
<path fill="#23a0e5" stroke="#145c84" d="M317.7,477.5l0.6-1.3l-7,0.4l-0.6,1.4z"/>
<path fill="#37c897" stroke="#1f7457" d="M347.6,468.6l0.8-1.9l-9.2-4.1l-0.8,1.6z"/>
<path fill="#01b8ca" stroke="#006a75" d="M327,472l0.7-1.3l-6.8,0.4l-0.6,1.3z"/>
<path fill="#24c1ae" stroke="#146f64" d="M336.1,468.8l0.8-1.5l-7.1-0.7l-0.7,1.3z"/>
<path fill="#259be8" stroke="#155986" d="M317,478.8l0.7-1.3l-7,0.5l-0.6,1.3z"/>
<path fill="#37c897" stroke="#1f7457" d="M346.8,470.4l0.8-1.8l-9.2-4.4l-0.8,1.5z"/>
<path fill="#08b5d0" stroke="#046878" d="M326.3,473.4l0.7-1.4l-6.7,0.4l-0.7,1.3z"/>
<path fill="#24c1ae" stroke="#146f64" d="M335.3,470.4l0.8-1.6l-7-0.9l-0.7,1.4z"/>
<path fill="#259be8" stroke="#218bd0" d="M316,480.8l1-2l-6.9,0.5l-1.1,2.4z"/>
<path fill="#37c897" stroke="#1f7457" d="M346,472.3l0.8-1.9l-9.2-4.7l-0.7,1.6z"/>
<path fill="#08b5d0" stroke="#046878" d="M325.6,474.8l0.7-1.4l-6.7,0.3l-0.6,1.2z"/>
<path fill="#24c1ae" stroke="#146f64" d="M334.6,471.9l0.7-1.5l-6.9-1.1l-0.7,1.4z"/>
<path fill="#37c897" stroke="#1f7457" d="M345.1,474.1l0.9-1.8l-9.1-5l-0.8,1.5z"/>
<path fill="#08b5d0" stroke="#046878" d="M324.9,476.1l0.7-1.3l-6.6,0.1l-0.7,1.3z"/>
<path fill="#19bfb6" stroke="#0e6e69" d="M333.8,473.5l0.8-1.6l-6.9-1.2l-0.7,1.3z"/>
<path fill="#08b5d0" stroke="#046878" d="M324.2,477.5l0.7-1.4l-6.6,0.1l-0.6,1.3z"/>
<path fill="#37c897" stroke="#1f7457" d="M344.3,476l0.8-1.9l-9-5.3l-0.8,1.6z"/>
<path fill="#19bfb6" stroke="#0e6e69" d="M333.1,475l0.7-1.5l-6.8-1.5l-0.7,1.4z"/>
<path fill="#08b5d0" stroke="#046878" d="M323.5,478.9l0.7-1.4l-6.5,0l-0.7,1.3z"/>
<path fill="#37c897" stroke="#1f7457" d="M343.5,477.8l0.8-1.8l-9-5.6l-0.7,1.5z"/>
<path fill="#19bfb6" stroke="#0e6e69" d="M332.3,476.6l0.8-1.6l-6.8-1.6l-0.7,1.4z"/>
<path fill="#37c897" stroke="#1f7457" d="M342.7,479.7l0.8-1.9l-8.9-5.9l-0.8,1.6z"/>
<path fill="#08b5d0" stroke="#07a2bb" d="M322.4,480.9l1.1-2l-6.5-0.1l-1,2z"/>
<path fill="#19bfb6" stroke="#0e6e69" d="M331.5,478.1l0.8-1.5l-6.7-1.8l-0.7,1.3z"/>
<path fill="#37c897" stroke="#1f7457" d="M341.8,481.6l0.9-1.9l-8.9-6.2l-0.7,1.5z"/>
<path fill="#19bfb6" stroke="#0e6e69" d="M330.8,479.7l0.7-1.6l-6.6-2l-0.7,1.4z"/>
<path fill="#37c897" stroke="#1f7457" d="M341,483.4l0.8-1.8l-8.7-6.6l-0.8,1.6z"/>
<path fill="#19bfb6" stroke="#0e6e69" d="M330,481.2l0.8-1.5l-6.6-2.2l-0.7,1.4z"/>
<path fill="#37c897" stroke="#1f7457" d="M340.2,485.3l0.8-1.9l-8.7-6.8l-0.8,1.5z"/>
<path fill="#0bbdbd" stroke="#09aaaa" d="M329,483.3l1-2.1l-6.5-2.3l-1.1,2z"/>
<path fill="#37c897" stroke="#1f7457" d="M339.4,487.1l0.8-1.8l-8.7-7.2l-0.7,1.6zM338.5,489l0.9-1.9l-8.6-7.4l-0.8,1.5z"/>
<path fill="#37c897" stroke="#31b487" d="M337.5,491.3l1-2.3l-8.5-7.8l-1,2.1z"/>
</g>
<path fill="none" stroke="#000" stroke-opacity="0.45" stroke-width="0.3" d="M337.5,491.3l1-2.3l0.9-1.9l0.8-1.8l0.8-1.9l0.8-1.8l0.9-1.9l0.8-1.9l0.8-1.8l0.8-1.9l0.9-1.8l0.8-1.9l0.8-1.8l0.8-1.9l0.9-1.8l0.8-1.9l0.8-1.8l0.8-1.9l0.9-1.8l0.8-1.9l0.8-1.8l0.8-1.9l0.9-1.8l0.8-1.9l0.8-1.8l0.8-1.9l0.9-1.9l0.8-1.8l0.8-1.9M329,483.3l1-2.1l0.8-1.5l0.7-1.6l0.8-1.5l0.8-1.6l0.7-1.5l0.8-1.6l0.7-1.5l0.8-1.6l0.8-1.5l0.7-1.6l0.8-1.5l0.8-1.6l0.7-1.6l0.8-1.5l0.7-1.6l0.8-1.5l0.8-1.6l0.7-1.5l0.8-1.6l0.8-1.5l0.7-1.6l0.8-1.5l0.7-1.6l0.8-1.5l0.8-1.6l0.7-1.5l0.8-1.6M322.4,480.9l1.1-2l0.7-1.4l0.7-1.4l0.7-1.3l0.7-1.4l0.7-1.4l0.7-1.3l0.7-1.4l0.7-1.4l0.7-1.3l0.8-1.4l0.7-1.4l0.7-1.3l0.7-1.4l0.7-1.4l0.7-1.3l0.7-1.4l0.7-1.4l0.7-1.3l0.7-1.4l0.8-1.4l0.7-1.3l0.7-1.4l0.7-1.4l0.7-1.3l0.7-1.4l0.7-1.4l0.7-1.3M316,480.8l1-2l0.7-1.3l0.6-1.3l0.7-1.3l0.6-1.2l0.7-1.3l0.6-1.3l0.7-1.3l0.6-1.3l0.7-1.2l0.6-1.3l0.7-1.3l0.7-1.3l0.6-1.2l0.7-1.3l0.6-1.3l0.7-1.3l0.6-1.2l0.7-1.3l0.6-1.3l0.7-1.3l0.6-1.2l0.7-1.3l0.6-1.3l0.7-1.3l0.7-1.3l0.6-1.2l0.7-1.3M309,481.7l1.1-2.4l0.6-1.3l0.6-1.4l0.6-1.4l0.6-1.3l0.5-1.4l0.6-1.3l0.6-1.4l0.6-1.4l0.6-1.3l0.6-1.4l0.6-1.3l0.6-1.4l0.6-1.4l0.6-1.3l0.6-1.4l0.6-1.3l0.6-1.4l0.6-1.4l0.5-1.3l0.6-1.4l0.6-1.3l0.6-1.4l0.6-1.4l0.6-1.3l0.6-1.4l0.6-1.3l0.6-1.4M302,480.8l1.1-2.9l0.5-1.4l0.5-1.5l0.6-1.4l0.5-1.4l0.5-1.5l0.5-1.4l0.6-1.4l0.5-1.5l0.5-1.4l0.6-1.5l0.5-1.4l0.5-1.4l0.6-1.5l0.5-1.4l0.5-1.4l0.6-1.5l0.5-1.4l0.5-1.5l0.6-1.4l0.5-1.4l0.5-1.5l0.6-1.4l0.5-1.4l0.5-1.5l0.5-1.4l0.6-1.5l0.5-1.4M293.4,478.4l1.1-3.5l0.4-1.5l0.5-1.6l0.4-1.5l0.5-1.5l0.5-1.6l0.4-1.5l0.5-1.5l0.4-1.6l0.5-1.5l0.5-1.5l0.4-1.6l0.5-1.5l0.4-1.5l0.5-1.6l0.5-1.5l0.4-1.5l0.5-1.6l0.4-1.5l0.5-1.5l0.5-1.6l0.4-1.5l0.5-1.5l0.5-1.6l0.4-1.5l0.5-1.5l0.4-1.6l0.5-1.5M286,471.2l1-4.1l0.4-1.6l0.4-1.6l0.4-1.5l0.4-1.6l0.4-1.6l0.4-1.5l0.4-1.6l0.3-1.5l0.4-1.6l0.4-1.6l0.4-1.5l0.4-1.6l0.4-1.5l0.4-1.6l0.4-1.6l0.4-1.5l0.4-1.6l0.4-1.6l0.4-1.5l0.4-1.6l0.3-1.5l0.4-1.6l0.4-1.6l0.4-1.5l0.4-1.6l0.4-1.5l0.4-1.6M279.5,461.8l1.1-4.7l0.3-1.5l0.3-1.5l0.4-1.5l0.3-1.4l0.3-1.5l0.4-1.5l0.3-1.5l0.3-1.5l0.4-1.4l0.3-1.5l0.3-1.5l0.3-1.5l0.4-1.5l0.3-1.4l0.3-1.5l0.4-1.5l0.3-1.5l0.3-1.5l0.4-1.4l0.3-1.5l0.3-1.5l0.4-1.5l0.3-1.5l0.3-1.4l0.4-1.5l0.3-1.5l0.3-1.5M272.8,450.7l1-5.1l0.3-1.3l0.3-1.4l0.3-1.3l0.2-1.4l0.3-1.3l0.3-1.3l0.3-1.4l0.2-1.3l0.3-1.4l0.3-1.3l0.3-1.3l0.2-1.4l0.3-1.3l0.3-1.3l0.3-1.4l0.2-1.3l0.3-1.4l0.3-1.3l0.3-1.3l0.2-1.4l0.3-1.3l0.3-1.4l0.3-1.3l0.2-1.3l0.3-1.4l0.3-1.3l0.3-1.3M266,440.4l1.1-5l0.2-1l0.1-0.9l0.2-0.9l0.2-0.9l0.2-1l0.2-0.9l0.2-0.9l0.2-0.9l0.2-1l0.2-0.9l0.2-0.9l0.2-0.9l0.2-1l0.2-0.9l0.2-0.9l0.2-0.9l0.1-0.9l0.2-1l0.2-0.9l0.2-0.9l0.2-0.9l0.2-1l0.2-0.9l0.2-0.9l0.2-0.9l0.2-1l0.2-0.9M260.1,431l1-4.2l0.1-0.4l0.1-0.5l0.1-0.4l0.2-0.5l0.1-0.4l0.1-0.5l0.1-0.4l0.1-0.5l0.1-0.4l0.1-0.4l0.1-0.5l0.1-0.4l0.2-0.5l0.1-0.4l0.1-0.5l0.1-0.4l0.1-0.5l0.1-0.4l0.1-0.5l0.1-0.4l0.1-0.5l0.2-0.4l0.1-0.4l0.1-0.5l0.1-0.4l0.1-0.5l0.1-0.4M256.8,421.1l0.6-0.8l0-0.1l0.1,0l0-0.1l0.1-0.1l0,0l0.1-0.1l0-0.1l0.1-0.1l0,0l0.1-0.1l0-0.1l0.1-0.1l0,0l0.1-0.1l0-0.1l0.1,0l0-0.1l0.1-0.1l0-0.1l0.1,0l0-0.1l0.1-0.1l0,0l0.1-0.1l0-0.1l0.1-0.1l0,0"/>
<text x="283.1" y="521.8" font-size="5.4" text-anchor="middle" font-family="Liberation Serif, serif" fill="#333" fill-opacity="0.8" transform="rotate(9 283.1 520.1)"><tspan font-style="italic">y</tspan>/<tspan font-style="italic">s</tspan><tspan font-size="3.8" dy="1">m</tspan></text>
<text x="371.3" y="502.7" font-size="5.4" text-anchor="middle" font-family="Liberation Serif, serif" fill="#333" fill-opacity="0.8"><tspan font-style="italic">x</tspan>/<tspan font-style="italic">c</tspan><tspan font-size="4" dy="1">r,m</tspan></text>
<text x="219" y="488.1" font-size="5.4" text-anchor="middle" font-family="Liberation Serif, serif" fill="#333" fill-opacity="0.8" transform="rotate(-90 219 486.6)">ε<tspan font-size="4" dy="1">mode 3</tspan></text>
<rect x="380.9" y="394.2" width="6" height="120" fill="url(#par)" stroke="#999" stroke-width="0.3"/>
<text x="388.5" y="509.8" font-size="5.0" text-anchor="start" font-family="Liberation Serif, serif" fill="#333" >−6</text>
<text x="388.5" y="489.1" font-size="5.0" text-anchor="start" font-family="Liberation Serif, serif" fill="#333" >−4</text>
<text x="388.5" y="468.4" font-size="5.0" text-anchor="start" font-family="Liberation Serif, serif" fill="#333" >−2</text>
<text x="388.5" y="447.7" font-size="5.0" text-anchor="start" font-family="Liberation Serif, serif" fill="#333" >0</text>
<text x="388.5" y="427" font-size="5.0" text-anchor="start" font-family="Liberation Serif, serif" fill="#333" >2</text>
<text x="388.5" y="406.3" font-size="5.0" text-anchor="start" font-family="Liberation Serif, serif" fill="#333" >4</text>
<text x="381" y="390" font-size="4.2" text-anchor="middle" font-family="Liberation Serif, serif" fill="#333" >×10<tspan font-size="3" dy="-1.6">−3</tspan></text>
<text x="248.7" y="546.6" font-size="10.3" font-family="Liberation Serif, serif" fill="#1a1a1a" stroke="#1a1a1a" stroke-width="0.14" textLength="127.3" lengthAdjust="spacingAndGlyphs">(<tspan font-weight="bold">f</tspan>) Deviation of the third mode</text>
</svg>
</body></html>
